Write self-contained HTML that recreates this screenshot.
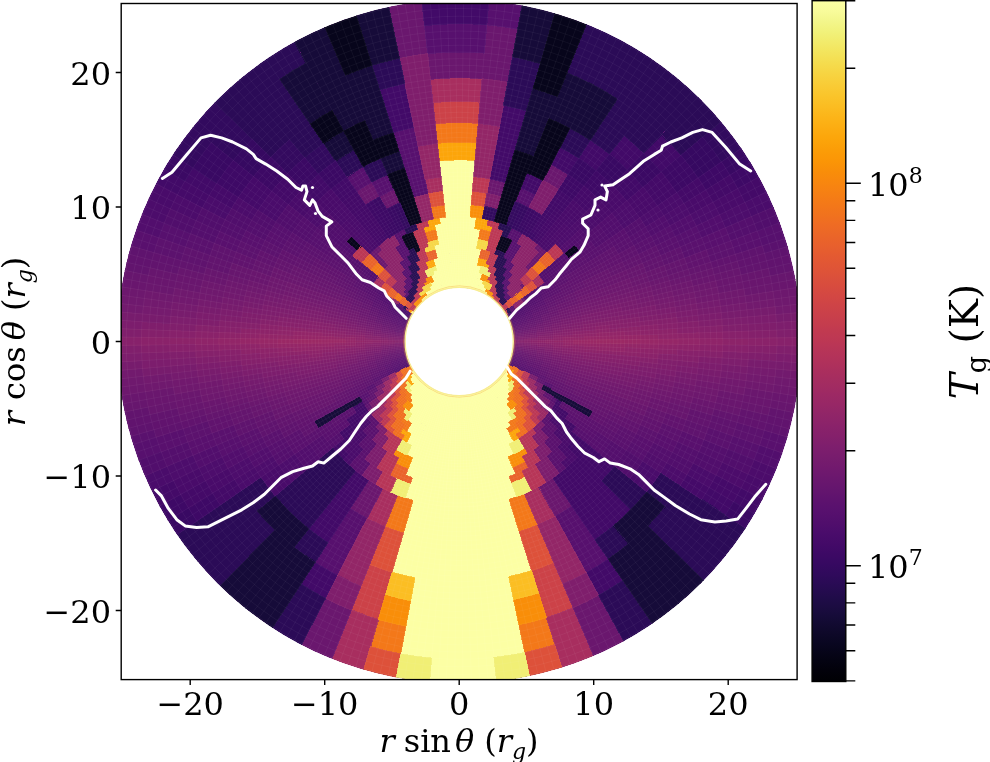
<!DOCTYPE html><html><head><meta charset="utf-8"><style>html,body{margin:0;padding:0;background:#fff;overflow:hidden}svg{display:block}text{font-family:'DejaVu Serif','Liberation Serif',serif}</style></head><body>
<svg width="990" height="762" viewBox="0 0 990 762">
<defs><clipPath id="ax"><rect x="121.2" y="3.5" width="675.9" height="676.1"/></clipPath><clipPath id="dc"><circle cx="459.2" cy="341.5" r="341.8"/></clipPath><linearGradient id="cb" x1="0" y1="0" x2="0" y2="1"><stop offset="0.0000" stop-color="#fcffa4"/><stop offset="0.0156" stop-color="#f8fb9a"/><stop offset="0.0312" stop-color="#f3f68a"/><stop offset="0.0469" stop-color="#f1f179"/><stop offset="0.0625" stop-color="#f2ea69"/><stop offset="0.0781" stop-color="#f3e35a"/><stop offset="0.0938" stop-color="#f5db4c"/><stop offset="0.1094" stop-color="#f7d340"/><stop offset="0.1250" stop-color="#f9cb35"/><stop offset="0.1406" stop-color="#fac42a"/><stop offset="0.1562" stop-color="#fbbc21"/><stop offset="0.1719" stop-color="#fcb418"/><stop offset="0.1875" stop-color="#fcac11"/><stop offset="0.2031" stop-color="#fca50a"/><stop offset="0.2188" stop-color="#fb9d07"/><stop offset="0.2344" stop-color="#fb9606"/><stop offset="0.2500" stop-color="#f98e09"/><stop offset="0.2656" stop-color="#f8870e"/><stop offset="0.2812" stop-color="#f68013"/><stop offset="0.2969" stop-color="#f47918"/><stop offset="0.3125" stop-color="#f1731d"/><stop offset="0.3281" stop-color="#ef6c23"/><stop offset="0.3438" stop-color="#eb6628"/><stop offset="0.3594" stop-color="#e8602d"/><stop offset="0.3750" stop-color="#e45a31"/><stop offset="0.3906" stop-color="#e05536"/><stop offset="0.4062" stop-color="#db503b"/><stop offset="0.4219" stop-color="#d74b3f"/><stop offset="0.4375" stop-color="#d24644"/><stop offset="0.4531" stop-color="#cc4248"/><stop offset="0.4688" stop-color="#c73e4c"/><stop offset="0.4844" stop-color="#c13a50"/><stop offset="0.5000" stop-color="#bc3754"/><stop offset="0.5156" stop-color="#b63458"/><stop offset="0.5312" stop-color="#b0315b"/><stop offset="0.5469" stop-color="#a92e5e"/><stop offset="0.5625" stop-color="#a32c61"/><stop offset="0.5781" stop-color="#9d2964"/><stop offset="0.5938" stop-color="#972766"/><stop offset="0.6094" stop-color="#902568"/><stop offset="0.6250" stop-color="#8a226a"/><stop offset="0.6406" stop-color="#84206b"/><stop offset="0.6562" stop-color="#7d1e6d"/><stop offset="0.6719" stop-color="#771c6d"/><stop offset="0.6875" stop-color="#71196e"/><stop offset="0.7031" stop-color="#6a176e"/><stop offset="0.7188" stop-color="#64156e"/><stop offset="0.7344" stop-color="#5d126e"/><stop offset="0.7500" stop-color="#57106e"/><stop offset="0.7656" stop-color="#510e6c"/><stop offset="0.7812" stop-color="#4a0c6b"/><stop offset="0.7969" stop-color="#440a68"/><stop offset="0.8125" stop-color="#3d0965"/><stop offset="0.8281" stop-color="#360961"/><stop offset="0.8438" stop-color="#2f0a5b"/><stop offset="0.8594" stop-color="#280b53"/><stop offset="0.8750" stop-color="#210c4a"/><stop offset="0.8906" stop-color="#1b0c41"/><stop offset="0.9062" stop-color="#150b37"/><stop offset="0.9219" stop-color="#10092d"/><stop offset="0.9375" stop-color="#0b0724"/><stop offset="0.9531" stop-color="#07051b"/><stop offset="0.9688" stop-color="#040312"/><stop offset="0.9844" stop-color="#02010a"/><stop offset="1.0000" stop-color="#000004"/></linearGradient></defs>
<g clip-path="url(#ax)"><g clip-path="url(#dc)" shape-rendering="crispEdges">
<circle cx="459.2" cy="341.5" r="341.8" fill="#5a1370"/>
<path fill="#fcffa4" stroke="#fcffa4" stroke-width="0.8" d="M458.6 287.4L457.3 176A165.5 165.5 0 0 1 465.4 176.1L461.2 287.5A54.1 54.1 0 0 0 458.6 287.4ZM457.3 176L457.1 159.9A181.7 181.7 0 0 1 475 160.5L473.6 176.6A165.5 165.5 0 0 0 457.3 176ZM461.2 287.5L465.4 176.1A165.5 165.5 0 0 1 473.6 176.6L463.9 287.6A54.1 54.1 0 0 0 461.2 287.5ZM463.9 287.6L470 216.9A125.1 125.1 0 0 1 476.2 217.5L466.5 287.9A54.1 54.1 0 0 0 463.9 287.6ZM466.5 287.9L474.6 228.6A114 114 0 0 1 480.2 229.5L469.1 288.4A54.1 54.1 0 0 0 466.5 287.9ZM469.1 288.4L476.6 248.5A94.6 94.6 0 0 1 481.1 249.5L471.7 288.9A54.1 54.1 0 0 0 469.1 288.4ZM471.7 288.9L477.4 265.1A78.5 78.5 0 0 1 481.1 266.1L474.3 289.6A54.1 54.1 0 0 0 471.7 288.9ZM474.3 289.6L479.2 272.8A71.5 71.5 0 0 1 482.5 273.9L476.8 290.4A54.1 54.1 0 0 0 474.3 289.6ZM476.8 290.4L480.5 279.9A65.2 65.2 0 0 1 483.4 281L479.3 291.3A54.1 54.1 0 0 0 476.8 290.4ZM479.3 291.3L482.3 283.8A62.2 62.2 0 0 1 485.1 285L481.8 292.4A54.1 54.1 0 0 0 479.3 291.3ZM481.8 292.4L484 287.6A59.4 59.4 0 0 1 486.6 288.8L484.1 293.5A54.1 54.1 0 0 0 481.8 292.4ZM484.1 293.5L485.3 291.2A56.6 56.6 0 0 1 487.8 292.6L486.5 294.8A54.1 54.1 0 0 0 484.1 293.5ZM507.2 366.4L509.5 367.6A56.6 56.6 0 0 1 508.1 370.1L505.9 368.8A54.1 54.1 0 0 0 507.2 366.4ZM505.9 368.8L508.1 370.1A56.6 56.6 0 0 1 506.7 372.4L504.5 371A54.1 54.1 0 0 0 505.9 368.8ZM504.5 371L508.9 373.9A59.4 59.4 0 0 1 507.3 376.3L503 373.2A54.1 54.1 0 0 0 504.5 371ZM503 373.2L509.6 378A62.2 62.2 0 0 1 507.7 380.4L501.4 375.3A54.1 54.1 0 0 0 503 373.2ZM501.4 375.3L510 382.3A65.2 65.2 0 0 1 508 384.7L499.7 377.4A54.1 54.1 0 0 0 501.4 375.3ZM499.7 377.4L510.3 386.8A68.3 68.3 0 0 1 508 389.2L497.9 379.3A54.1 54.1 0 0 0 499.7 377.4ZM497.9 379.3L510.3 391.5A71.5 71.5 0 0 1 507.8 393.9L496 381.1A54.1 54.1 0 0 0 497.9 379.3ZM496 381.1L510.1 396.4A74.9 74.9 0 0 1 507.4 398.9L494 382.9A54.1 54.1 0 0 0 496 381.1ZM494 382.9L509.7 401.6A78.5 78.5 0 0 1 506.7 404L491.9 384.6A54.1 54.1 0 0 0 494 382.9ZM491.9 384.6L511.3 410.1A86.2 86.2 0 0 1 507.9 412.6L489.7 386.1A54.1 54.1 0 0 0 491.9 384.6ZM489.7 386.1L512.6 419.5A94.6 94.6 0 0 1 508.7 422.1L487.5 387.6A54.1 54.1 0 0 0 489.7 386.1ZM487.5 387.6L511.1 425.9A99.1 99.1 0 0 1 506.9 428.4L485.2 388.9A54.1 54.1 0 0 0 487.5 387.6ZM485.2 388.9L514.1 441.4A114 114 0 0 1 509.1 444L482.9 390.1A54.1 54.1 0 0 0 485.2 388.9ZM482.9 390.1L514 454A125.1 125.1 0 0 1 508.4 456.5L480.5 391.2A54.1 54.1 0 0 0 482.9 390.1ZM480.5 391.2L515.8 473.8A143.9 143.9 0 0 1 509.2 476.4L478 392.2A54.1 54.1 0 0 0 480.5 391.2ZM478 392.2L516.7 496.7A165.5 165.5 0 0 1 509 499.3L475.5 393.1A54.1 54.1 0 0 0 478 392.2ZM475.5 393.1L509 499.3A165.5 165.5 0 0 1 501.2 501.6L472.9 393.8A54.1 54.1 0 0 0 475.5 393.1ZM509 499.3L531.5 570.6A240.3 240.3 0 0 1 508.7 576.6L493.3 503.4A165.5 165.5 0 0 0 509 499.3ZM472.9 393.8L501.2 501.6A165.5 165.5 0 0 1 493.3 503.4L470.3 394.4A54.1 54.1 0 0 0 472.9 393.8ZM470.3 394.4L493.3 503.4A165.5 165.5 0 0 1 485.3 504.9L467.7 394.9A54.1 54.1 0 0 0 470.3 394.4ZM493.3 503.4L524.7 652.5A317.8 317.8 0 0 1 493.9 657.4L477.3 506A165.5 165.5 0 0 0 493.3 503.4ZM467.7 394.9L485.3 504.9A165.5 165.5 0 0 1 477.3 506L465.1 395.2A54.1 54.1 0 0 0 467.7 394.9ZM465.1 395.2L477.3 506A165.5 165.5 0 0 1 469.2 506.7L462.5 395.5A54.1 54.1 0 0 0 465.1 395.2ZM477.3 506L497.1 686.2A346.8 346.8 0 0 1 463.1 688.3L461.1 507A165.5 165.5 0 0 0 477.3 506ZM462.5 395.5L469.2 506.7A165.5 165.5 0 0 1 461.1 507L459.8 395.6A54.1 54.1 0 0 0 462.5 395.5ZM459.8 395.6L461.1 507A165.5 165.5 0 0 1 453 506.9L457.2 395.5A54.1 54.1 0 0 0 459.8 395.6ZM461.1 507L463.1 688.3A346.8 346.8 0 0 1 429.1 687L444.8 506.4A165.5 165.5 0 0 0 461.1 507ZM457.2 395.5L453 506.9A165.5 165.5 0 0 1 444.8 506.4L454.5 395.4A54.1 54.1 0 0 0 457.2 395.5ZM454.5 395.4L444.8 506.4A165.5 165.5 0 0 1 436.8 505.5L451.9 395.1A54.1 54.1 0 0 0 454.5 395.4ZM444.8 506.4L431.6 658.1A317.8 317.8 0 0 1 400.7 653.9L428.8 504.2A165.5 165.5 0 0 0 444.8 506.4ZM451.9 395.1L436.8 505.5A165.5 165.5 0 0 1 428.8 504.2L449.3 394.6A54.1 54.1 0 0 0 451.9 395.1ZM449.3 394.6L428.8 504.2A165.5 165.5 0 0 1 420.8 502.5L446.7 394.1A54.1 54.1 0 0 0 449.3 394.6ZM428.8 504.2L415 577.7A240.3 240.3 0 0 1 392.1 572.2L413 500.4A165.5 165.5 0 0 0 428.8 504.2ZM446.7 394.1L420.8 502.5A165.5 165.5 0 0 1 413 500.4L444.1 393.4A54.1 54.1 0 0 0 446.7 394.1ZM444.1 393.4L413 500.4A165.5 165.5 0 0 1 405.2 497.9L441.6 392.6A54.1 54.1 0 0 0 444.1 393.4ZM441.6 392.6L412.3 477.5A143.9 143.9 0 0 1 405.6 475.1L439.1 391.7A54.1 54.1 0 0 0 441.6 392.6ZM439.1 391.7L412.6 457.6A125.1 125.1 0 0 1 407 455.2L436.6 390.6A54.1 54.1 0 0 0 439.1 391.7ZM436.6 390.6L411.6 445.1A114 114 0 0 1 406.6 442.6L434.3 389.5A54.1 54.1 0 0 0 436.6 390.6ZM434.3 389.5L411.3 433.6A103.8 103.8 0 0 1 406.8 431.2L431.9 388.2A54.1 54.1 0 0 0 434.3 389.5ZM431.9 388.2L411.5 423.2A94.6 94.6 0 0 1 407.5 420.7L429.7 386.8A54.1 54.1 0 0 0 431.9 388.2ZM429.7 386.8L412.1 413.7A86.2 86.2 0 0 1 408.7 411.3L427.5 385.3A54.1 54.1 0 0 0 429.7 386.8ZM427.5 385.3L413.2 405.1A78.5 78.5 0 0 1 410.1 402.7L425.4 383.7A54.1 54.1 0 0 0 427.5 385.3ZM425.4 383.7L412.3 400A74.9 74.9 0 0 1 409.5 397.6L423.3 382A54.1 54.1 0 0 0 425.4 383.7ZM423.3 382L411.8 395A71.5 71.5 0 0 1 409.2 392.6L421.4 380.2A54.1 54.1 0 0 0 423.3 382ZM421.4 380.2L411.5 390.3A68.3 68.3 0 0 1 409.1 387.9L419.6 378.3A54.1 54.1 0 0 0 421.4 380.2ZM419.6 378.3L413.6 383.8A62.2 62.2 0 0 1 411.6 381.5L417.8 376.3A54.1 54.1 0 0 0 419.6 378.3ZM417.8 376.3L411.6 381.5A62.2 62.2 0 0 1 409.7 379.1L416.1 374.2A54.1 54.1 0 0 0 417.8 376.3ZM416.1 374.2L411.9 377.4A59.4 59.4 0 0 1 410.2 375L414.6 372A54.1 54.1 0 0 0 416.1 374.2ZM414.6 372L412.5 373.5A56.6 56.6 0 0 1 410.9 371.2L413.1 369.8A54.1 54.1 0 0 0 414.6 372ZM412.5 314.2L410.3 312.9A56.6 56.6 0 0 1 411.7 310.6L413.9 312A54.1 54.1 0 0 0 412.5 314.2ZM422.4 301.9L420.7 300A56.6 56.6 0 0 1 422.8 298.1L424.4 300.1A54.1 54.1 0 0 0 422.4 301.9ZM424.4 300.1L422.8 298.1A56.6 56.6 0 0 1 424.9 296.4L426.5 298.4A54.1 54.1 0 0 0 424.4 300.1ZM426.5 298.4L424.9 296.4A56.6 56.6 0 0 1 427.2 294.8L428.7 296.9A54.1 54.1 0 0 0 426.5 298.4ZM428.7 296.9L425.7 292.5A59.4 59.4 0 0 1 428.1 290.9L430.9 295.4A54.1 54.1 0 0 0 428.7 296.9ZM430.9 295.4L428.1 290.9A59.4 59.4 0 0 1 430.6 289.5L433.2 294.1A54.1 54.1 0 0 0 430.9 295.4ZM433.2 294.1L429.3 287A62.2 62.2 0 0 1 432 285.6L435.5 292.9A54.1 54.1 0 0 0 433.2 294.1ZM435.5 292.9L430.7 282.9A65.2 65.2 0 0 1 433.6 281.6L437.9 291.8A54.1 54.1 0 0 0 435.5 292.9ZM437.9 291.8L431.1 275.7A71.5 71.5 0 0 1 434.3 274.4L440.4 290.8A54.1 54.1 0 0 0 437.9 291.8ZM440.4 290.8L433.2 271.2A74.9 74.9 0 0 1 436.6 270.1L442.9 289.9A54.1 54.1 0 0 0 440.4 290.8ZM442.9 289.9L433.3 259.3A86.2 86.2 0 0 1 437.3 258.2L445.5 289.2A54.1 54.1 0 0 0 442.9 289.9ZM445.5 289.2L434 245.6A99.1 99.1 0 0 1 438.8 244.5L448.1 288.6A54.1 54.1 0 0 0 445.5 289.2ZM448.1 288.6L434.6 224.7A119.4 119.4 0 0 1 440.3 223.6L450.7 288.1A54.1 54.1 0 0 0 448.1 288.6ZM450.7 288.1L439.4 218A125.1 125.1 0 0 1 445.5 217.1L453.3 287.8A54.1 54.1 0 0 0 450.7 288.1ZM453.3 287.8L441.1 177A165.5 165.5 0 0 1 449.2 176.3L455.9 287.5A54.1 54.1 0 0 0 453.3 287.8ZM441.1 177L439.3 160.9A181.7 181.7 0 0 1 457.1 159.9L457.3 176A165.5 165.5 0 0 0 441.1 177ZM455.9 287.5L449.2 176.3A165.5 165.5 0 0 1 457.3 176L458.6 287.4A54.1 54.1 0 0 0 455.9 287.5Z"/>
<path fill="#fca50a" stroke="#fca50a" stroke-width="0.8" d="M457.1 159.9L456.9 142.1A199.4 199.4 0 0 1 476.5 142.9L475 160.5A181.7 181.7 0 0 0 457.1 159.9ZM474.6 228.6L476.2 217.5A125.1 125.1 0 0 1 482.2 218.5L480.2 229.5A114 114 0 0 0 474.6 228.6ZM480.2 229.5L482.2 218.5A125.1 125.1 0 0 1 488.2 219.8L485.6 230.6A114 114 0 0 0 480.2 229.5ZM477.4 265.1L479.2 257.7A86.2 86.2 0 0 1 483.3 258.8L481.1 266.1A78.5 78.5 0 0 0 477.4 265.1ZM485.6 230.6L486.9 225.3A119.4 119.4 0 0 1 492.6 226.8L491 232.1A114 114 0 0 0 485.6 230.6ZM481.1 266.1L483.3 258.8A86.2 86.2 0 0 1 487.3 260L484.8 267.3A78.5 78.5 0 0 0 481.1 266.1ZM484.8 267.3L486 263.8A82.2 82.2 0 0 1 489.8 265.2L488.4 268.6A78.5 78.5 0 0 0 484.8 267.3ZM511.9 368.9L514.4 370.2A62.2 62.2 0 0 1 512.9 372.9L510.5 371.4A59.4 59.4 0 0 0 511.9 368.9ZM510.5 371.4L512.9 372.9A62.2 62.2 0 0 1 511.3 375.5L508.9 373.9A59.4 59.4 0 0 0 510.5 371.4ZM508.9 373.9L513.8 377.1A65.2 65.2 0 0 1 512 379.7L507.3 376.3A59.4 59.4 0 0 0 508.9 373.9ZM509.6 378L512 379.7A65.2 65.2 0 0 1 510 382.3L507.7 380.4A62.2 62.2 0 0 0 509.6 378ZM517.9 427.2L520.7 431.3A108.8 108.8 0 0 1 516.2 434.2L513.6 429.9A103.8 103.8 0 0 0 517.9 427.2ZM513.6 429.9L518.9 438.6A114 114 0 0 1 514.1 441.4L509.2 432.5A103.8 103.8 0 0 0 513.6 429.9ZM411.3 433.6L406.6 442.6A114 114 0 0 1 401.7 439.9L406.8 431.2A103.8 103.8 0 0 0 411.3 433.6ZM406.8 431.2L404.3 435.4A108.8 108.8 0 0 1 399.8 432.6L402.5 428.5A103.8 103.8 0 0 0 406.8 431.2ZM413.6 383.8L411.4 385.8A65.2 65.2 0 0 1 409.3 383.4L411.6 381.5A62.2 62.2 0 0 0 413.6 383.8ZM411.6 381.5L409.3 383.4A65.2 65.2 0 0 1 407.3 380.9L409.7 379.1A62.2 62.2 0 0 0 411.6 381.5ZM411.9 377.4L407.3 380.9A65.2 65.2 0 0 1 405.4 378.3L410.2 375A59.4 59.4 0 0 0 411.9 377.4ZM410.2 375L407.9 376.6A62.2 62.2 0 0 1 406.2 374.1L408.6 372.6A59.4 59.4 0 0 0 410.2 375ZM428.3 269.3L425.3 262.3A86.2 86.2 0 0 1 429.3 260.7L431.9 267.9A78.5 78.5 0 0 0 428.3 269.3ZM431.9 267.9L429.3 260.7A86.2 86.2 0 0 1 433.3 259.3L435.6 266.6A78.5 78.5 0 0 0 431.9 267.9ZM424.9 232.8L423.2 227.6A119.4 119.4 0 0 1 428.9 226L430.3 231.3A114 114 0 0 0 424.9 232.8ZM430.3 231.3L427.4 220.5A125.1 125.1 0 0 1 433.4 219.1L435.7 230A114 114 0 0 0 430.3 231.3ZM434.6 224.7L433.4 219.1A125.1 125.1 0 0 1 439.4 218L440.3 223.6A119.4 119.4 0 0 0 434.6 224.7ZM439.3 160.9L437.4 143.3A199.4 199.4 0 0 1 456.9 142.1L457.1 159.9A181.7 181.7 0 0 0 439.3 160.9Z"/>
<path fill="#f37819" stroke="#f37819" stroke-width="0.8" d="M456.9 142.1L456.7 122.6A218.9 218.9 0 0 1 478.2 123.4L476.5 142.9A199.4 199.4 0 0 0 456.9 142.1ZM478.3 239.4L480.2 229.5A114 114 0 0 1 485.6 230.6L483.3 240.5A103.8 103.8 0 0 0 478.3 239.4ZM483.3 240.5L485.6 230.6A114 114 0 0 1 491 232.1L488.2 241.8A103.8 103.8 0 0 0 483.3 240.5ZM531.8 267.3L538.9 260A114 114 0 0 1 542.8 264L535.3 270.9A103.8 103.8 0 0 0 531.8 267.3ZM535.3 270.9L542.8 264A114 114 0 0 1 546.5 268.2L538.7 274.7A103.8 103.8 0 0 0 535.3 270.9ZM514 295.5L519.3 291A78.5 78.5 0 0 1 521.7 294L516.2 298.2A71.5 71.5 0 0 0 514 295.5ZM516.2 298.2L521.7 294A78.5 78.5 0 0 1 524 297.1L518.2 301.1A71.5 71.5 0 0 0 516.2 298.2ZM508.3 364.1L513.1 366.3A59.4 59.4 0 0 1 511.9 368.9L507.2 366.4A54.1 54.1 0 0 0 508.3 364.1ZM509.5 367.6L511.9 368.9A59.4 59.4 0 0 1 510.5 371.4L508.1 370.1A56.6 56.6 0 0 0 509.5 367.6ZM508.1 370.1L510.5 371.4A59.4 59.4 0 0 1 508.9 373.9L506.7 372.4A56.6 56.6 0 0 0 508.1 370.1ZM512.7 388.9L515.3 391.2A74.9 74.9 0 0 1 512.8 393.9L510.3 391.5A71.5 71.5 0 0 0 512.7 388.9ZM510.3 391.5L515.3 396.4A78.5 78.5 0 0 1 512.6 399.1L507.8 393.9A71.5 71.5 0 0 0 510.3 391.5ZM510.1 396.4L512.6 399.1A78.5 78.5 0 0 1 509.7 401.6L507.4 398.9A74.9 74.9 0 0 0 510.1 396.4ZM516.4 416.8L519.1 420.4A99.1 99.1 0 0 1 515.2 423.3L512.6 419.5A94.6 94.6 0 0 0 516.4 416.8ZM512.6 419.5L517.9 427.2A103.8 103.8 0 0 1 513.6 429.9L508.7 422.1A94.6 94.6 0 0 0 512.6 419.5ZM511.1 425.9L513.6 429.9A103.8 103.8 0 0 1 509.2 432.5L506.9 428.4A99.1 99.1 0 0 0 511.1 425.9ZM524.3 493.7L537.6 524.8A199.4 199.4 0 0 1 519.2 531.6L509 499.3A165.5 165.5 0 0 0 524.3 493.7ZM546.4 617.6L554.9 644.5A317.8 317.8 0 0 1 524.7 652.5L518.9 624.8A289.5 289.5 0 0 0 546.4 617.6ZM405.9 626.1L400.7 653.9A317.8 317.8 0 0 1 370.4 646.6L378.3 619.5A289.5 289.5 0 0 0 405.9 626.1ZM413 500.4L403.5 533A199.4 199.4 0 0 1 385 526.6L397.6 495.1A165.5 165.5 0 0 0 413 500.4ZM411.5 423.2L406.8 431.2A103.8 103.8 0 0 1 402.5 428.5L407.5 420.7A94.6 94.6 0 0 0 411.5 423.2ZM407.5 420.7L405.1 424.5A99.1 99.1 0 0 1 401.1 421.8L403.7 418.1A94.6 94.6 0 0 0 407.5 420.7ZM412.3 400L410.1 402.7A78.5 78.5 0 0 1 407.1 400.3L409.5 397.6A74.9 74.9 0 0 0 412.3 400ZM411.8 395L407.1 400.3A78.5 78.5 0 0 1 404.3 397.6L409.2 392.6A71.5 71.5 0 0 0 411.8 395ZM409.2 392.6L406.8 395.1A74.9 74.9 0 0 1 404.3 392.4L406.8 390.1A71.5 71.5 0 0 0 409.2 392.6ZM412.5 373.5L410.2 375A59.4 59.4 0 0 1 408.6 372.6L410.9 371.2A56.6 56.6 0 0 0 412.5 373.5ZM413.1 369.8L408.6 372.6A59.4 59.4 0 0 1 407.2 370.1L411.8 367.5A54.1 54.1 0 0 0 413.1 369.8ZM411.8 367.5L407.2 370.1A59.4 59.4 0 0 1 405.8 367.5L410.6 365.2A54.1 54.1 0 0 0 411.8 367.5ZM399.3 302.4L393.4 298.6A78.5 78.5 0 0 1 395.6 295.5L401.3 299.6A71.5 71.5 0 0 0 399.3 302.4ZM401.3 299.6L395.6 295.5A78.5 78.5 0 0 1 398 292.4L403.4 296.8A71.5 71.5 0 0 0 401.3 299.6ZM378.2 276.5L370.3 270.2A114 114 0 0 1 373.9 265.9L381.5 272.6A103.8 103.8 0 0 0 378.2 276.5ZM381.5 272.6L373.9 265.9A114 114 0 0 1 377.7 261.8L385 268.9A103.8 103.8 0 0 0 381.5 272.6ZM427.9 242.5L424.9 232.8A114 114 0 0 1 430.3 231.3L432.8 241.1A103.8 103.8 0 0 0 427.9 242.5ZM432.8 241.1L430.3 231.3A114 114 0 0 1 435.7 230L437.8 239.9A103.8 103.8 0 0 0 432.8 241.1ZM433.4 219.1L430.9 207.1A137.3 137.3 0 0 1 437.5 205.9L439.4 218A125.1 125.1 0 0 0 433.4 219.1ZM439.4 218L437.5 205.9A137.3 137.3 0 0 1 444.2 205L445.5 217.1A125.1 125.1 0 0 0 439.4 218ZM437.4 143.3L435.3 123.9A218.9 218.9 0 0 1 456.7 122.6L456.9 142.1A199.4 199.4 0 0 0 437.4 143.3Z"/>
<path fill="#cc4248" stroke="#cc4248" stroke-width="0.8" d="M456.7 122.6L456.5 101.3A240.3 240.3 0 0 1 480 102.1L478.2 123.4A218.9 218.9 0 0 0 456.7 122.6ZM553.7 562.4L573 607.7A289.5 289.5 0 0 1 546.4 617.6L531.5 570.6A240.3 240.3 0 0 0 553.7 562.4ZM392.1 572.2L378.3 619.5A289.5 289.5 0 0 1 351.5 610.2L369.8 564.5A240.3 240.3 0 0 0 392.1 572.2ZM435.3 123.9L432.9 102.7A240.3 240.3 0 0 1 456.5 101.3L456.7 122.6A218.9 218.9 0 0 0 435.3 123.9Z"/>
<path fill="#a82e5f" stroke="#a82e5f" stroke-width="0.8" d="M456.5 101.3L456.2 77.8A263.7 263.7 0 0 1 482.1 78.8L480 102.1A240.3 240.3 0 0 0 456.5 101.3ZM531.6 280.7L538.7 274.7A103.8 103.8 0 0 1 541.9 278.7L534.5 284.3A94.6 94.6 0 0 0 531.6 280.7ZM534.5 284.3L541.9 278.7A103.8 103.8 0 0 1 544.9 282.8L537.2 288.1A94.6 94.6 0 0 0 534.5 284.3ZM538.9 486.5L555.2 516.3A199.4 199.4 0 0 1 537.6 524.8L524.3 493.7A165.5 165.5 0 0 0 538.9 486.5ZM573 607.7L595.5 660.4A346.8 346.8 0 0 1 563.6 672.2L546.4 617.6A289.5 289.5 0 0 0 573 607.7ZM378.3 619.5L362.3 674.5A346.8 346.8 0 0 1 330.1 663.4L351.5 610.2A289.5 289.5 0 0 0 378.3 619.5ZM397.6 495.1L385 526.6A199.4 199.4 0 0 1 367.2 518.4L382.9 488.3A165.5 165.5 0 0 0 397.6 495.1ZM380 289.8L372.2 284.8A103.8 103.8 0 0 1 375.1 280.6L382.6 286A94.6 94.6 0 0 0 380 289.8ZM382.6 286L375.1 280.6A103.8 103.8 0 0 1 378.2 276.5L385.4 282.3A94.6 94.6 0 0 0 382.6 286ZM428.1 194L425.1 179.6A165.5 165.5 0 0 1 433.1 178.1L435.4 192.6A150.8 150.8 0 0 0 428.1 194ZM435.4 192.6L433.1 178.1A165.5 165.5 0 0 1 441.1 177L442.7 191.6A150.8 150.8 0 0 0 435.4 192.6ZM432.9 102.7L430.4 79.3A263.7 263.7 0 0 1 456.2 77.8L456.5 101.3A240.3 240.3 0 0 0 432.9 102.7Z"/>
<path fill="#6a176e" stroke="#6a176e" stroke-width="0.8" d="M456.2 77.8L455.9 52A289.5 289.5 0 0 1 484.3 53.1L482.1 78.8A263.7 263.7 0 0 0 456.2 77.8ZM482.1 78.8L486.8 24.9A317.8 317.8 0 0 1 517.7 29.1L507.7 82.3A263.7 263.7 0 0 0 482.1 78.8ZM486.9 193.3L489.6 178.8A165.5 165.5 0 0 1 497.6 180.5L494.2 194.9A150.8 150.8 0 0 0 486.9 193.3ZM494.2 194.9L497.6 180.5A165.5 165.5 0 0 1 505.4 182.6L501.3 196.8A150.8 150.8 0 0 0 494.2 194.9ZM543 180.3L551.2 164.6A199.4 199.4 0 0 1 568.1 174.5L558.4 189.3A181.7 181.7 0 0 0 543 180.3ZM533.9 248.3L537.5 243.9A125.1 125.1 0 0 1 542.2 247.9L538.4 252.1A119.4 119.4 0 0 0 533.9 248.3ZM524.9 267.3L542.2 247.9A125.1 125.1 0 0 1 546.7 252L528.5 270.6A99.1 99.1 0 0 0 524.9 267.3ZM519.5 285.6L522.4 282.9A86.2 86.2 0 0 1 525.2 286.1L522.2 288.6A82.2 82.2 0 0 0 519.5 285.6ZM521 299.2L524 297.1A78.5 78.5 0 0 1 526.1 300.4L523 302.3A74.9 74.9 0 0 0 521 299.2ZM520.1 304L526.1 300.4A78.5 78.5 0 0 1 528 303.7L521.9 307.1A71.5 71.5 0 0 0 520.1 304ZM566.1 301.9L576.5 298A125.1 125.1 0 0 1 578.5 303.8L567.9 307.2A114 114 0 0 0 566.1 301.9ZM629.5 278.4L646.2 272.2A199.4 199.4 0 0 1 649.3 281.5L632.4 286.8A181.7 181.7 0 0 0 629.5 278.4ZM649.3 281.5L667.9 275.6A218.9 218.9 0 0 1 669.5 280.7L650.8 286.1A199.4 199.4 0 0 0 649.3 281.5ZM550.1 315.2L559 312.7A103.8 103.8 0 0 1 559.6 315.1L550.7 317.5A94.6 94.6 0 0 0 550.1 315.2ZM669.5 280.7L690 274.8A240.3 240.3 0 0 1 691.6 280.5L670.9 285.9A218.9 218.9 0 0 0 669.5 280.7ZM542.5 319.6L550.7 317.5A94.6 94.6 0 0 1 551.3 319.7L543.1 321.7A86.2 86.2 0 0 0 542.5 319.6ZM535.6 323.4L543.1 321.7A86.2 86.2 0 0 1 543.5 323.7L536 325.3A78.5 78.5 0 0 0 535.6 323.4ZM529.2 326.8L536 325.3A78.5 78.5 0 0 1 536.4 327.2L529.5 328.5A71.5 71.5 0 0 0 529.2 326.8ZM717.3 287.1L742.5 281.8A289.5 289.5 0 0 1 743.9 288.8L718.5 293.5A263.7 263.7 0 0 0 717.3 287.1ZM523.3 329.6L529.5 328.5A71.5 71.5 0 0 1 529.8 330.2L523.5 331.2A65.2 65.2 0 0 0 523.3 329.6ZM743.9 288.8L771.7 283.6A317.8 317.8 0 0 1 773 291.3L745.1 295.8A289.5 289.5 0 0 0 743.9 288.8ZM517.8 332.1L523.5 331.2A65.2 65.2 0 0 1 523.8 332.8L518 333.6A59.4 59.4 0 0 0 517.8 332.1ZM518 349.5L523.7 350.3A65.2 65.2 0 0 1 523.5 351.9L517.8 351A59.4 59.4 0 0 0 518 349.5ZM523.5 351.9L529.8 352.9A71.5 71.5 0 0 1 529.5 354.7L523.2 353.5A65.2 65.2 0 0 0 523.5 351.9ZM745 387.8L772.9 392.3A317.8 317.8 0 0 1 771.6 400L743.8 394.8A289.5 289.5 0 0 0 745 387.8ZM718.4 390L743.8 394.8A289.5 289.5 0 0 1 742.4 401.7L717.2 396.4A263.7 263.7 0 0 0 718.4 390ZM536 357.8L543.5 359.4A86.2 86.2 0 0 1 543 361.5L535.6 359.7A78.5 78.5 0 0 0 536 357.8ZM543 361.5L551.2 363.4A94.6 94.6 0 0 1 550.6 365.7L542.5 363.5A86.2 86.2 0 0 0 543 361.5ZM550.6 365.7L559.6 368.1A103.8 103.8 0 0 1 558.9 370.5L550 367.9A94.6 94.6 0 0 0 550.6 365.7ZM670.8 397.5L691.5 402.9A240.3 240.3 0 0 1 689.9 408.6L669.4 402.7A218.9 218.9 0 0 0 670.8 397.5ZM558.9 370.5L568.6 373.3A114 114 0 0 1 566.9 378.7L557.4 375.4A103.8 103.8 0 0 0 558.9 370.5ZM577.5 382.3L630.9 400.8A181.7 181.7 0 0 1 627.8 409.1L575.3 388.1A125.1 125.1 0 0 0 577.5 382.3ZM552.7 478L571.9 506A199.4 199.4 0 0 1 555.2 516.3L538.9 486.5A165.5 165.5 0 0 0 552.7 478ZM598.6 595.3L626.1 645.5A346.8 346.8 0 0 1 595.5 660.4L573 607.7A289.5 289.5 0 0 0 598.6 595.3ZM351.5 610.2L330.1 663.4A346.8 346.8 0 0 1 299.2 649.2L325.6 598.4A289.5 289.5 0 0 0 351.5 610.2ZM382.9 488.3L367.2 518.4A199.4 199.4 0 0 1 350.3 508.5L368.8 480.1A165.5 165.5 0 0 0 382.9 488.3ZM352.3 381.1L341.9 385A125.1 125.1 0 0 1 339.9 379.2L350.5 375.8A114 114 0 0 0 352.3 381.1ZM288.9 404.6L272.2 410.8A199.4 199.4 0 0 1 269.1 401.5L286 396.2A181.7 181.7 0 0 0 288.9 404.6ZM269.1 401.5L250.5 407.4A218.9 218.9 0 0 1 248.9 402.3L267.6 396.9A199.4 199.4 0 0 0 269.1 401.5ZM368.3 367.8L359.4 370.3A103.8 103.8 0 0 1 358.8 367.9L367.7 365.5A94.6 94.6 0 0 0 368.3 367.8ZM248.9 402.3L228.4 408.2A240.3 240.3 0 0 1 226.8 402.5L247.5 397.1A218.9 218.9 0 0 0 248.9 402.3ZM375.9 363.4L367.7 365.5A94.6 94.6 0 0 1 367.1 363.3L375.3 361.3A86.2 86.2 0 0 0 375.9 363.4ZM382.8 359.6L375.3 361.3A86.2 86.2 0 0 1 374.9 359.3L382.4 357.7A78.5 78.5 0 0 0 382.8 359.6ZM389.2 356.2L382.4 357.7A78.5 78.5 0 0 1 382 355.8L388.9 354.5A71.5 71.5 0 0 0 389.2 356.2ZM201.1 395.9L175.9 401.2A289.5 289.5 0 0 1 174.5 394.2L199.9 389.5A263.7 263.7 0 0 0 201.1 395.9ZM395.1 353.4L388.9 354.5A71.5 71.5 0 0 1 388.6 352.8L394.9 351.8A65.2 65.2 0 0 0 395.1 353.4ZM174.5 394.2L146.7 399.4A317.8 317.8 0 0 1 145.4 391.7L173.3 387.2A289.5 289.5 0 0 0 174.5 394.2ZM400.6 350.9L394.9 351.8A65.2 65.2 0 0 1 394.6 350.2L400.4 349.4A59.4 59.4 0 0 0 400.6 350.9ZM400.4 333.5L394.7 332.7A65.2 65.2 0 0 1 394.9 331.1L400.6 332A59.4 59.4 0 0 0 400.4 333.5ZM394.9 331.1L388.6 330.1A71.5 71.5 0 0 1 388.9 328.3L395.2 329.5A65.2 65.2 0 0 0 394.9 331.1ZM173.4 295.2L145.5 290.7A317.8 317.8 0 0 1 146.8 283L174.6 288.2A289.5 289.5 0 0 0 173.4 295.2ZM200 293L174.6 288.2A289.5 289.5 0 0 1 176 281.3L201.2 286.6A263.7 263.7 0 0 0 200 293ZM382.4 325.2L374.9 323.6A86.2 86.2 0 0 1 375.4 321.5L382.8 323.3A78.5 78.5 0 0 0 382.4 325.2ZM375.4 321.5L367.2 319.6A94.6 94.6 0 0 1 367.8 317.3L375.9 319.5A86.2 86.2 0 0 0 375.4 321.5ZM367.8 317.3L358.8 314.9A103.8 103.8 0 0 1 359.5 312.5L368.4 315.1A94.6 94.6 0 0 0 367.8 317.3ZM247.6 285.5L226.9 280A240.3 240.3 0 0 1 228.5 274.4L249 280.3A218.9 218.9 0 0 0 247.6 285.5ZM359.5 312.5L349.8 309.7A114 114 0 0 1 351.5 304.3L361 307.6A103.8 103.8 0 0 0 359.5 312.5ZM340.9 300.7L287.5 282.2A181.7 181.7 0 0 1 290.6 273.9L343.1 294.9A125.1 125.1 0 0 0 340.9 300.7ZM391.4 301.9L384.8 298A86.2 86.2 0 0 1 387 294.4L393.4 298.6A78.5 78.5 0 0 0 391.4 301.9ZM385 268.9L369.7 254A125.1 125.1 0 0 1 374.1 249.8L388.6 265.4A103.8 103.8 0 0 0 385 268.9ZM378 253.9L374.1 249.8A125.1 125.1 0 0 1 378.7 245.7L382.4 250.1A119.4 119.4 0 0 0 378 253.9ZM365.7 205L356.6 191.6A181.7 181.7 0 0 1 371.8 182.3L379.5 196.5A165.5 165.5 0 0 0 365.7 205ZM386.6 209.4L379.5 196.5A165.5 165.5 0 0 1 386.8 192.7L393.2 206A150.8 150.8 0 0 0 386.6 209.4ZM393.2 206L386.8 192.7A165.5 165.5 0 0 1 394.1 189.3L399.9 202.9A150.8 150.8 0 0 0 393.2 206ZM399.5 58.2L387.7 2.2A346.8 346.8 0 0 1 421.3 -3.2L427.6 53.7A289.5 289.5 0 0 0 399.5 58.2ZM430.4 79.3L427.6 53.7A289.5 289.5 0 0 1 455.9 52L456.2 77.8A263.7 263.7 0 0 0 430.4 79.3Z"/>
<path fill="#57106e" stroke="#57106e" stroke-width="0.8" d="M455.9 52L455.6 23.7A317.8 317.8 0 0 1 486.8 24.9L484.3 53.1A289.5 289.5 0 0 0 455.9 52ZM486.8 24.9L489.3 -4A346.8 346.8 0 0 1 523 0.6L517.7 29.1A317.8 317.8 0 0 0 486.8 24.9ZM515.3 201.6L520.8 187.9A165.5 165.5 0 0 1 528.3 191.1L522.1 204.5A150.8 150.8 0 0 0 515.3 201.6ZM506.8 237.9L511.4 227.8A125.1 125.1 0 0 1 516.9 230.5L511.8 240.4A114 114 0 0 0 506.8 237.9ZM522.1 204.5L528.3 191.1A165.5 165.5 0 0 1 535.5 194.7L528.8 207.7A150.8 150.8 0 0 0 522.1 204.5ZM502.8 257.6L516.9 230.5A125.1 125.1 0 0 1 522.3 233.5L506.9 259.8A94.6 94.6 0 0 0 502.8 257.6ZM502.7 267.1L516.7 243.1A114 114 0 0 1 521.4 246L506.3 269.3A86.2 86.2 0 0 0 502.7 267.1ZM502.1 275.7L510.9 262.3A94.6 94.6 0 0 1 514.7 264.9L505.2 277.9A78.5 78.5 0 0 0 502.1 275.7ZM501.1 283.6L509.7 271.7A86.2 86.2 0 0 1 513.1 274.3L503.9 285.7A71.5 71.5 0 0 0 501.1 283.6ZM501.9 288.2L508.3 280.3A78.5 78.5 0 0 1 511.3 282.7L504.5 290.4A68.3 68.3 0 0 0 501.9 288.2ZM502.4 292.7L506.6 288A71.5 71.5 0 0 1 509.2 290.4L504.7 294.9A65.2 65.2 0 0 0 502.4 292.7ZM502.7 297L506.9 292.7A68.3 68.3 0 0 1 509.3 295.1L504.8 299.2A62.2 62.2 0 0 0 502.7 297ZM504.8 299.2L509.3 295.1A68.3 68.3 0 0 1 511.5 297.6L506.8 301.5A62.2 62.2 0 0 0 504.8 299.2ZM554.3 269.3L563.6 262.2A131.1 131.1 0 0 1 567.4 267.4L557.7 274A119.4 119.4 0 0 0 554.3 269.3ZM508.2 308L513 304.7A65.2 65.2 0 0 1 514.7 307.4L509.8 310.4A59.4 59.4 0 0 0 508.2 308ZM544.9 282.8L553.2 277.1A114 114 0 0 1 556.3 281.8L547.6 287.1A103.8 103.8 0 0 0 544.9 282.8ZM509.8 310.4L514.7 307.4A65.2 65.2 0 0 1 516.3 310.1L511.2 312.9A59.4 59.4 0 0 0 509.8 310.4ZM539.8 292L543.6 289.6A99.1 99.1 0 0 1 546.1 293.8L542.1 296A94.6 94.6 0 0 0 539.8 292ZM629.1 237.1L645.6 226.9A218.9 218.9 0 0 1 651.1 236.1L634 245.5A199.4 199.4 0 0 0 629.1 237.1ZM534.7 300L542.1 296A94.6 94.6 0 0 1 544.2 300.1L536.7 303.8A86.2 86.2 0 0 0 534.7 300ZM651.1 236.1L669.8 225.8A240.3 240.3 0 0 1 675.2 236.3L656 245.7A218.9 218.9 0 0 0 651.1 236.1ZM675.2 236.3L696.3 226A263.7 263.7 0 0 1 701.7 237.8L680.1 247A240.3 240.3 0 0 0 675.2 236.3ZM519.1 315.9L525 313.4A71.5 71.5 0 0 1 526.3 316.6L520.3 318.9A65.2 65.2 0 0 0 519.1 315.9ZM509.9 322.7L514.9 320.9A59.4 59.4 0 0 1 515.8 323.6L510.8 325.2A54.1 54.1 0 0 0 509.9 322.7ZM757.2 231.1L784.4 221A346.8 346.8 0 0 1 789.9 237.1L762.2 245.8A317.8 317.8 0 0 0 757.2 231.1ZM515.3 360.9L520.8 362.8A65.2 65.2 0 0 1 519.7 365.7L514.3 363.6A59.4 59.4 0 0 0 515.3 360.9ZM732.9 435.9L759.6 445.2A317.8 317.8 0 0 1 754.2 459.8L727.9 449.2A289.5 289.5 0 0 0 732.9 435.9ZM525.6 368.1L532.1 370.7A78.5 78.5 0 0 1 530.5 374.3L524.2 371.3A71.5 71.5 0 0 0 525.6 368.1ZM545.2 381L553.6 384.8A103.8 103.8 0 0 1 551.3 389.4L543.1 385.1A94.6 94.6 0 0 0 545.2 381ZM553.1 396.4L557.6 399A114 114 0 0 1 554.7 403.7L550.3 400.9A108.8 108.8 0 0 0 553.1 396.4ZM631.4 442.1L648.2 451.9A218.9 218.9 0 0 1 642.6 461L626.2 450.4A199.4 199.4 0 0 0 631.4 442.1ZM597.8 431.9L611.4 440.7A181.7 181.7 0 0 1 600.9 455.1L588.3 445A165.5 165.5 0 0 0 597.8 431.9ZM575.7 425.9L593.2 438.6A165.5 165.5 0 0 1 588.3 445L571.5 431.5A143.9 143.9 0 0 0 575.7 425.9ZM571.9 506L608.2 559.1A263.7 263.7 0 0 1 586.2 572.7L555.2 516.3A199.4 199.4 0 0 0 571.9 506ZM367.2 518.4L337.5 575.5A263.7 263.7 0 0 1 315.2 562.4L350.3 508.5A199.4 199.4 0 0 0 367.2 518.4ZM369.4 403L365.2 405.9A114 114 0 0 1 362.1 401.2L366.5 398.5A108.8 108.8 0 0 0 369.4 403ZM370.8 395.9L362.1 401.2A114 114 0 0 1 359.3 396.4L368.2 391.5A103.8 103.8 0 0 0 370.8 395.9ZM289.3 445.9L272.8 456.1A218.9 218.9 0 0 1 267.3 446.9L284.4 437.5A199.4 199.4 0 0 0 289.3 445.9ZM376.3 387L368.2 391.5A103.8 103.8 0 0 1 365.8 387L374.2 382.9A94.6 94.6 0 0 0 376.3 387ZM267.3 446.9L248.6 457.2A240.3 240.3 0 0 1 243.2 446.7L262.4 437.3A218.9 218.9 0 0 0 267.3 446.9ZM243.2 446.7L222.1 457A263.7 263.7 0 0 1 216.7 445.2L238.3 436A240.3 240.3 0 0 0 243.2 446.7ZM399.3 367.1L393.4 369.6A71.5 71.5 0 0 1 392.1 366.4L398.1 364.1A65.2 65.2 0 0 0 399.3 367.1ZM408.5 360.3L403.5 362.1A59.4 59.4 0 0 1 402.6 359.4L407.6 357.8A54.1 54.1 0 0 0 408.5 360.3ZM161.2 451.9L134 462A346.8 346.8 0 0 1 128.5 445.9L156.2 437.2A317.8 317.8 0 0 0 161.2 451.9ZM403.1 322.1L397.6 320.2A65.2 65.2 0 0 1 398.7 317.3L404.1 319.4A59.4 59.4 0 0 0 403.1 322.1ZM185.5 247.1L158.8 237.8A317.8 317.8 0 0 1 164.2 223.2L190.5 233.8A289.5 289.5 0 0 0 185.5 247.1ZM392.8 314.9L386.3 312.3A78.5 78.5 0 0 1 387.9 308.7L394.2 311.7A71.5 71.5 0 0 0 392.8 314.9ZM387.9 308.7L380.9 305.5A86.2 86.2 0 0 1 382.7 301.7L389.6 305.3A78.5 78.5 0 0 0 387.9 308.7ZM379.1 299.8L375.3 297.9A94.6 94.6 0 0 1 377.5 293.8L381.2 296A90.3 90.3 0 0 0 379.1 299.8ZM402.9 308.6L397.4 305.4A71.5 71.5 0 0 1 399.3 302.4L404.6 305.9A65.2 65.2 0 0 0 402.9 308.6ZM373.6 291.5L369.5 289.1A103.8 103.8 0 0 1 372.2 284.8L376.2 287.4A99.1 99.1 0 0 0 373.6 291.5ZM287 240.9L270.2 231.1A218.9 218.9 0 0 1 275.8 222L292.2 232.6A199.4 199.4 0 0 0 287 240.9ZM368.1 282.1L359.2 276.3A119.4 119.4 0 0 1 362.5 271.5L371.1 277.7A108.8 108.8 0 0 0 368.1 282.1ZM320.6 251.1L307 242.3A181.7 181.7 0 0 1 317.5 227.9L330.1 238A165.5 165.5 0 0 0 320.6 251.1ZM353 264.6L325.2 244.4A165.5 165.5 0 0 1 330.1 238L356.9 259.5A131.1 131.1 0 0 0 353 264.6ZM405.9 298.8L403.4 296.8A71.5 71.5 0 0 1 405.7 294.1L408.1 296.2A68.3 68.3 0 0 0 405.9 298.8ZM408.1 296.2L403.1 291.8A74.9 74.9 0 0 1 405.6 289.1L410.4 293.8A68.3 68.3 0 0 0 408.1 296.2ZM408.1 291.5L403.1 286.6A78.5 78.5 0 0 1 405.8 283.9L410.6 289.1A71.5 71.5 0 0 0 408.1 291.5ZM410.6 289.1L403.3 281.2A82.2 82.2 0 0 1 406.3 278.5L413.2 286.7A71.5 71.5 0 0 0 410.6 289.1ZM411 284.1L401.1 272.4A90.3 90.3 0 0 1 404.6 269.6L413.9 281.8A74.9 74.9 0 0 0 411 284.1ZM409.5 276L399.3 262.6A99.1 99.1 0 0 1 403.2 259.7L412.7 273.6A82.2 82.2 0 0 0 409.5 276ZM408.2 267L394.8 247.5A114 114 0 0 1 399.5 244.4L411.9 264.6A90.3 90.3 0 0 0 408.2 267ZM356.6 191.6L346.5 177A199.4 199.4 0 0 1 363.2 166.7L371.8 182.3A181.7 181.7 0 0 0 356.6 191.6ZM407.3 257.1L393.7 234.9A125.1 125.1 0 0 1 399 231.8L411.5 254.6A99.1 99.1 0 0 0 407.3 257.1ZM401.7 236.8L399 231.8A125.1 125.1 0 0 1 404.4 229L406.9 234.1A119.4 119.4 0 0 0 401.7 236.8ZM379.5 196.5L371.8 182.3A181.7 181.7 0 0 1 387.8 174.5L394.1 189.3A165.5 165.5 0 0 0 379.5 196.5ZM413.8 197.7L409.4 183.7A165.5 165.5 0 0 1 417.2 181.4L420.9 195.7A150.8 150.8 0 0 0 413.8 197.7ZM409.4 183.7L393.3 132.8A218.9 218.9 0 0 1 414.1 127.3L425.1 179.6A165.5 165.5 0 0 0 409.4 183.7ZM420.9 195.7L417.2 181.4A165.5 165.5 0 0 1 425.1 179.6L428.1 194A150.8 150.8 0 0 0 420.9 195.7ZM427.6 53.7L424.5 25.6A317.8 317.8 0 0 1 455.6 23.7L455.9 52A289.5 289.5 0 0 0 427.6 53.7Z"/>
<path fill="#420a68" stroke="#420a68" stroke-width="0.8" d="M455.6 23.7L455.3 -5.3A346.8 346.8 0 0 1 489.3 -4L486.8 24.9A317.8 317.8 0 0 0 455.6 23.7ZM489.6 178.8L503.4 105.3A240.3 240.3 0 0 1 526.3 110.8L505.4 182.6A165.5 165.5 0 0 0 489.6 178.8ZM520.8 187.9L526.8 172.9A181.7 181.7 0 0 1 543 180.3L535.5 194.7A165.5 165.5 0 0 0 520.8 187.9ZM551.2 164.6L560.2 147.3A218.9 218.9 0 0 1 578.7 158.1L568.1 174.5A199.4 199.4 0 0 0 551.2 164.6ZM530.8 231.7L549.6 202.9A165.5 165.5 0 0 1 556.3 207.5L536.1 235.3A131.1 131.1 0 0 0 530.8 231.7ZM549.6 202.9L558.4 189.3A181.7 181.7 0 0 1 572.8 199.8L562.7 212.4A165.5 165.5 0 0 0 549.6 202.9ZM578.7 158.1L590.4 140.2A240.3 240.3 0 0 1 609.5 154.1L596.1 170.7A218.9 218.9 0 0 0 578.7 158.1ZM609.5 154.1L624.2 135.7A263.7 263.7 0 0 1 643.6 152.9L627.2 169.7A240.3 240.3 0 0 0 609.5 154.1ZM612.2 185L627.2 169.7A240.3 240.3 0 0 1 643.2 187L626.8 200.7A218.9 218.9 0 0 0 612.2 185ZM643.6 152.9L661.6 134.5A289.5 289.5 0 0 1 680.9 155.3L661.2 171.9A263.7 263.7 0 0 0 643.6 152.9ZM741.1 488.1L766.9 501.5A346.8 346.8 0 0 1 758.7 516.4L733.6 501.8A317.8 317.8 0 0 0 741.1 488.1ZM557.6 399L562.3 401.7A119.4 119.4 0 0 1 559.2 406.7L554.7 403.7A114 114 0 0 0 557.6 399ZM709.2 487.5L733.6 501.8A317.8 317.8 0 0 1 725.4 515L701.7 499.6A289.5 289.5 0 0 0 709.2 487.5ZM554.7 403.7L569 413.1A131.1 131.1 0 0 1 565.4 418.4L551.5 408.4A114 114 0 0 0 554.7 403.7ZM560.5 414.9L575.7 425.9A143.9 143.9 0 0 1 571.5 431.5L556.8 419.8A125.1 125.1 0 0 0 560.5 414.9ZM566.3 427.4L588.3 445A165.5 165.5 0 0 1 583.1 451.2L562 432.6A137.3 137.3 0 0 0 566.3 427.4ZM588.3 445L614.8 466.2A199.4 199.4 0 0 1 601.8 480.9L577.5 457.2A165.5 165.5 0 0 0 588.3 445ZM572 441.5L583.1 451.2A165.5 165.5 0 0 1 577.5 457.2L567 446.9A150.8 150.8 0 0 0 572 441.5ZM577.5 457.2L631 509.5A240.3 240.3 0 0 1 613.7 525.5L565.6 468.2A165.5 165.5 0 0 0 577.5 457.2ZM565.6 468.2L613.7 525.5A240.3 240.3 0 0 1 594.9 539.7L552.7 478A165.5 165.5 0 0 0 565.6 468.2ZM608.2 559.1L622.8 580.4A289.5 289.5 0 0 1 598.6 595.3L586.2 572.7A263.7 263.7 0 0 0 608.2 559.1ZM337.5 575.5L325.6 598.4A289.5 289.5 0 0 1 301.1 584L315.2 562.4A263.7 263.7 0 0 0 337.5 575.5ZM368.8 480.1L328 542.8A240.3 240.3 0 0 1 308.9 528.9L355.7 470.6A165.5 165.5 0 0 0 368.8 480.1ZM348.8 454.4L343.5 459.8A165.5 165.5 0 0 1 337.9 454L343.4 448.9A157.9 157.9 0 0 0 348.8 454.4ZM353.7 439.3L337.9 454A165.5 165.5 0 0 1 332.5 447.9L349 434A143.9 143.9 0 0 0 353.7 439.3ZM363.4 422L343.8 438.5A150.8 150.8 0 0 1 339.1 432.7L359.6 417.2A125.1 125.1 0 0 0 363.4 422ZM368.4 410.4L349.8 424.6A137.3 137.3 0 0 1 345.9 419.1L365.2 405.9A114 114 0 0 0 368.4 410.4ZM365.2 405.9L356 412.2A125.1 125.1 0 0 1 352.6 407L362.1 401.2A114 114 0 0 0 365.2 405.9ZM177.3 194.9L151.5 181.5A346.8 346.8 0 0 1 159.7 166.6L184.8 181.2A317.8 317.8 0 0 0 177.3 194.9ZM209.2 195.5L184.8 181.2A317.8 317.8 0 0 1 193 168L216.7 183.4A289.5 289.5 0 0 0 209.2 195.5ZM316.6 202.1L302.7 188.5A218.9 218.9 0 0 1 318.4 173.9L331 188.8A199.4 199.4 0 0 0 316.6 202.1ZM342.4 202.4L331 188.8A199.4 199.4 0 0 1 346.5 177L356.6 191.6A181.7 181.7 0 0 0 342.4 202.4ZM383.5 241.9L379.9 237.1A131.1 131.1 0 0 1 385.1 233.3L388.5 238.3A125.1 125.1 0 0 0 383.5 241.9ZM393.3 132.8L379.8 90A263.7 263.7 0 0 1 404.8 83.4L414.1 127.3A218.9 218.9 0 0 0 393.3 132.8ZM424.5 25.6L421.3 -3.2A346.8 346.8 0 0 1 455.3 -5.3L455.6 23.7A317.8 317.8 0 0 0 424.5 25.6Z"/>
<path fill="#f98e09" stroke="#f98e09" stroke-width="0.8" d="M470 216.9L471.1 204.7A137.3 137.3 0 0 1 477.8 205.4L476.2 217.5A125.1 125.1 0 0 0 470 216.9ZM476.2 217.5L477.8 205.4A137.3 137.3 0 0 1 484.5 206.5L482.2 218.5A125.1 125.1 0 0 0 476.2 217.5ZM480.5 279.9L482.5 273.9A71.5 71.5 0 0 1 485.8 275.1L483.4 281A65.2 65.2 0 0 0 480.5 279.9ZM483.4 281L485.8 275.1A71.5 71.5 0 0 1 489 276.5L486.4 282.3A65.2 65.2 0 0 0 483.4 281ZM486.4 282.3L487.7 279.5A68.3 68.3 0 0 1 490.7 280.9L489.3 283.7A65.2 65.2 0 0 0 486.4 282.3ZM485.3 291.2L486.6 288.8A59.4 59.4 0 0 1 489.1 290.2L487.8 292.6A56.6 56.6 0 0 0 485.3 291.2ZM486.5 294.8L489.1 290.2A59.4 59.4 0 0 1 491.6 291.8L488.7 296.2A54.1 54.1 0 0 0 486.5 294.8ZM488.7 296.2L491.6 291.8A59.4 59.4 0 0 1 494 293.4L490.9 297.7A54.1 54.1 0 0 0 488.7 296.2ZM490.9 297.7L492.4 295.6A56.6 56.6 0 0 1 494.6 297.3L493 299.3A54.1 54.1 0 0 0 490.9 297.7ZM512.6 399.1L517.8 404.7A86.2 86.2 0 0 1 514.6 407.5L509.7 401.6A78.5 78.5 0 0 0 512.6 399.1ZM509.7 401.6L514.6 407.5A86.2 86.2 0 0 1 511.3 410.1L506.7 404A78.5 78.5 0 0 0 509.7 401.6ZM524.7 448.1L527.9 453.2A131.1 131.1 0 0 1 522.3 456.4L519.4 451.2A125.1 125.1 0 0 0 524.7 448.1ZM519.4 451.2L525.3 461.9A137.3 137.3 0 0 1 519.3 465L514 454A125.1 125.1 0 0 0 519.4 451.2ZM514 454L519.3 465A137.3 137.3 0 0 1 513.2 467.8L508.4 456.5A125.1 125.1 0 0 0 514 454ZM538.6 593L546.4 617.6A289.5 289.5 0 0 1 518.9 624.8L513.6 599.6A263.7 263.7 0 0 0 538.6 593ZM410.7 600.7L405.9 626.1A289.5 289.5 0 0 1 378.3 619.5L385.5 594.7A263.7 263.7 0 0 0 410.7 600.7ZM412.6 457.6L408.1 469A137.3 137.3 0 0 1 401.9 466.3L407 455.2A125.1 125.1 0 0 0 412.6 457.6ZM407 455.2L401.9 466.3A137.3 137.3 0 0 1 395.8 463.3L401.5 452.5A125.1 125.1 0 0 0 407 455.2ZM401.5 452.5L398.7 457.8A131.1 131.1 0 0 1 393.1 454.7L396.1 449.5A125.1 125.1 0 0 0 401.5 452.5ZM413.2 405.1L408.7 411.3A86.2 86.2 0 0 1 405.3 408.7L410.1 402.7A78.5 78.5 0 0 0 413.2 405.1ZM410.1 402.7L405.3 408.7A86.2 86.2 0 0 1 402.1 406L407.1 400.3A78.5 78.5 0 0 0 410.1 402.7ZM410.3 312.9L407.9 311.6A59.4 59.4 0 0 1 409.5 309.1L411.7 310.6A56.6 56.6 0 0 0 410.3 312.9ZM417 307.7L412.9 304.4A59.4 59.4 0 0 1 414.8 302.1L418.7 305.6A54.1 54.1 0 0 0 417 307.7ZM418.7 305.6L414.8 302.1A59.4 59.4 0 0 1 416.8 300L420.5 303.7A54.1 54.1 0 0 0 418.7 305.6ZM420.5 303.7L416.8 300A59.4 59.4 0 0 1 418.8 298L422.4 301.9A54.1 54.1 0 0 0 420.5 303.7ZM420.7 300L418.8 298A59.4 59.4 0 0 1 421 296.1L422.8 298.1A56.6 56.6 0 0 0 420.7 300ZM422.8 298.1L421 296.1A59.4 59.4 0 0 1 423.3 294.2L424.9 296.4A56.6 56.6 0 0 0 422.8 298.1ZM424.9 296.4L423.3 294.2A59.4 59.4 0 0 1 425.7 292.5L427.2 294.8A56.6 56.6 0 0 0 424.9 296.4ZM425.1 286L423.4 283.4A68.3 68.3 0 0 1 426.3 281.7L427.8 284.4A65.2 65.2 0 0 0 425.1 286ZM427.8 284.4L424.8 278.8A71.5 71.5 0 0 1 427.9 277.2L430.7 282.9A65.2 65.2 0 0 0 427.8 284.4ZM430.7 282.9L427.9 277.2A71.5 71.5 0 0 1 431.1 275.7L433.6 281.6A65.2 65.2 0 0 0 430.7 282.9Z"/>
<path fill="#dd513a" stroke="#dd513a" stroke-width="0.8" d="M471.1 204.7L472.3 191.3A150.8 150.8 0 0 1 479.6 192.1L477.8 205.4A137.3 137.3 0 0 0 471.1 204.7ZM477.8 205.4L479.6 192.1A150.8 150.8 0 0 1 486.9 193.3L484.5 206.5A137.3 137.3 0 0 0 477.8 205.4ZM525.3 273.9L531.8 267.3A103.8 103.8 0 0 1 535.3 270.9L528.6 277.2A94.6 94.6 0 0 0 525.3 273.9ZM528.6 277.2L535.3 270.9A103.8 103.8 0 0 1 538.7 274.7L531.6 280.7A94.6 94.6 0 0 0 528.6 277.2ZM504.6 303.3L509.1 299.6A65.2 65.2 0 0 1 511.1 302.1L506.5 305.6A59.4 59.4 0 0 0 504.6 303.3ZM525.2 286.1L531.6 280.7A94.6 94.6 0 0 1 534.5 284.3L527.8 289.4A86.2 86.2 0 0 0 525.2 286.1ZM506.5 305.6L511.1 302.1A65.2 65.2 0 0 1 513 304.7L508.2 308A59.4 59.4 0 0 0 506.5 305.6ZM527.8 289.4L534.5 284.3A94.6 94.6 0 0 1 537.2 288.1L530.3 292.8A86.2 86.2 0 0 0 527.8 289.4ZM518.4 368.7L524.2 371.3A71.5 71.5 0 0 1 522.6 374.5L517 371.6A65.2 65.2 0 0 0 518.4 368.7ZM517 371.6L522.6 374.5A71.5 71.5 0 0 1 521 377.6L515.5 374.4A65.2 65.2 0 0 0 517 371.6ZM518.1 375.9L523.9 379.3A74.9 74.9 0 0 1 522 382.4L516.4 378.8A68.3 68.3 0 0 0 518.1 375.9ZM519.1 380.6L525 384.4A78.5 78.5 0 0 1 522.8 387.5L517.1 383.4A71.5 71.5 0 0 0 519.1 380.6ZM519.9 385.4L525.8 389.7A82.2 82.2 0 0 1 523.4 393L517.7 388.4A74.9 74.9 0 0 0 519.9 385.4ZM520.4 390.6L529.6 398A90.3 90.3 0 0 1 526.8 401.4L518 393.6A78.5 78.5 0 0 0 520.4 390.6ZM523.7 398.6L530 404.2A94.6 94.6 0 0 1 526.8 407.6L520.8 401.7A86.2 86.2 0 0 0 523.7 398.6ZM523.8 404.6L533.4 414.1A103.8 103.8 0 0 1 529.8 417.6L520.6 407.7A90.3 90.3 0 0 0 523.8 404.6ZM526.6 414.2L536.7 425.1A114 114 0 0 1 532.5 428.8L522.9 417.4A99.1 99.1 0 0 0 526.6 414.2ZM526 421L532.5 428.8A114 114 0 0 1 528.1 432.3L522 424.2A103.8 103.8 0 0 0 526 421ZM537.6 524.8L553.7 562.4A240.3 240.3 0 0 1 531.5 570.6L519.2 531.6A199.4 199.4 0 0 0 537.6 524.8ZM554.9 644.5L563.6 672.2A346.8 346.8 0 0 1 530.7 680.8L524.7 652.5A317.8 317.8 0 0 0 554.9 644.5ZM400.7 653.9L395.4 682.4A346.8 346.8 0 0 1 362.3 674.5L370.4 646.6A317.8 317.8 0 0 0 400.7 653.9ZM403.5 533L392.1 572.2A240.3 240.3 0 0 1 369.8 564.5L385 526.6A199.4 199.4 0 0 0 403.5 533ZM395.4 429.6L392.3 433.8A114 114 0 0 1 387.9 430.4L391.1 426.4A108.8 108.8 0 0 0 395.4 429.6ZM397.2 418.8L387.9 430.4A114 114 0 0 1 383.6 426.8L393.5 415.7A99.1 99.1 0 0 0 397.2 418.8ZM399.3 409.1L390.3 419.2A103.8 103.8 0 0 1 386.6 415.7L396.1 406.1A90.3 90.3 0 0 0 399.3 409.1ZM399 403.1L393.1 409.1A94.6 94.6 0 0 1 389.8 405.8L396 400.1A86.2 86.2 0 0 0 399 403.1ZM401.6 394.9L393 402.9A90.3 90.3 0 0 1 390.1 399.6L399.1 392A78.5 78.5 0 0 0 401.6 394.9ZM401.8 389.7L396.2 394.4A82.2 82.2 0 0 1 393.7 391.2L399.5 386.8A74.9 74.9 0 0 0 401.8 389.7ZM402.2 384.8L396.7 389A78.5 78.5 0 0 1 394.4 385.9L400.2 381.9A71.5 71.5 0 0 0 402.2 384.8ZM402.9 380.1L397.4 383.8A74.9 74.9 0 0 1 395.4 380.7L401.1 377.3A68.3 68.3 0 0 0 402.9 380.1ZM403.7 375.6L398.3 379A71.5 71.5 0 0 1 396.5 375.9L402.1 372.9A65.2 65.2 0 0 0 403.7 375.6ZM402.1 372.9L396.5 375.9A71.5 71.5 0 0 1 394.9 372.8L400.6 370A65.2 65.2 0 0 0 402.1 372.9ZM409.5 309.1L404.6 305.9A65.2 65.2 0 0 1 406.4 303.3L411.1 306.7A59.4 59.4 0 0 0 409.5 309.1ZM387 294.4L380 289.8A94.6 94.6 0 0 1 382.6 286L389.4 291A86.2 86.2 0 0 0 387 294.4ZM411.1 306.7L406.4 303.3A65.2 65.2 0 0 1 408.4 300.7L412.9 304.4A59.4 59.4 0 0 0 411.1 306.7ZM389.4 291L382.6 286A94.6 94.6 0 0 1 385.4 282.3L392 287.6A86.2 86.2 0 0 0 389.4 291ZM385.4 282.3L378.2 276.5A103.8 103.8 0 0 1 381.5 272.6L388.4 278.8A94.6 94.6 0 0 0 385.4 282.3ZM388.4 278.8L381.5 272.6A103.8 103.8 0 0 1 385 268.9L391.6 275.4A94.6 94.6 0 0 0 388.4 278.8ZM430.9 207.1L428.1 194A150.8 150.8 0 0 1 435.4 192.6L437.5 205.9A137.3 137.3 0 0 0 430.9 207.1ZM437.5 205.9L435.4 192.6A150.8 150.8 0 0 1 442.7 191.6L444.2 205A137.3 137.3 0 0 0 437.5 205.9Z"/>
<path fill="#bc3754" stroke="#bc3754" stroke-width="0.8" d="M472.3 191.3L473.6 176.6A165.5 165.5 0 0 1 481.6 177.5L479.6 192.1A150.8 150.8 0 0 0 472.3 191.3ZM479.6 192.1L481.6 177.5A165.5 165.5 0 0 1 489.6 178.8L486.9 193.3A150.8 150.8 0 0 0 479.6 192.1ZM486.9 225.3L488.2 219.8A125.1 125.1 0 0 1 494.2 221.4L492.6 226.8A119.4 119.4 0 0 0 486.9 225.3ZM485.6 250.7L494.2 221.4A125.1 125.1 0 0 1 500 223.2L490.1 252.1A94.6 94.6 0 0 0 485.6 250.7ZM486 263.8L498.2 228.6A119.4 119.4 0 0 1 503.6 230.7L489.8 265.2A82.2 82.2 0 0 0 486 263.8ZM487.1 272L494.4 253.7A94.6 94.6 0 0 1 498.7 255.5L490.5 273.4A74.9 74.9 0 0 0 487.1 272ZM487.7 279.5L493.5 266.8A82.2 82.2 0 0 1 497.1 268.5L490.7 280.9A68.3 68.3 0 0 0 487.7 279.5ZM489.3 283.7L493.8 275A74.9 74.9 0 0 1 497 276.8L492.1 285.2A65.2 65.2 0 0 0 489.3 283.7ZM489.1 290.2L495.3 279.7A71.5 71.5 0 0 1 498.3 281.6L491.6 291.8A59.4 59.4 0 0 0 489.1 290.2ZM491.6 291.8L494.8 286.9A65.2 65.2 0 0 1 497.4 288.7L494 293.4A59.4 59.4 0 0 0 491.6 291.8ZM492.4 295.6L495.7 291.1A62.2 62.2 0 0 1 498.1 293L494.6 297.3A56.6 56.6 0 0 0 492.4 295.6ZM493 299.3L496.3 295.2A59.4 59.4 0 0 1 498.6 297.1L495.1 301A54.1 54.1 0 0 0 493 299.3ZM495.1 301L498.6 297.1A59.4 59.4 0 0 1 500.7 299.1L497 302.8A54.1 54.1 0 0 0 495.1 301ZM497 302.8L498.8 301A56.6 56.6 0 0 1 500.7 303L498.8 304.7A54.1 54.1 0 0 0 497 302.8ZM519.4 279.9L525.3 273.9A94.6 94.6 0 0 1 528.6 277.2L522.4 282.9A86.2 86.2 0 0 0 519.4 279.9ZM546.7 252L555.2 243.3A137.3 137.3 0 0 1 559.9 248.1L550.9 256.4A125.1 125.1 0 0 0 546.7 252ZM498.8 304.7L500.7 303A56.6 56.6 0 0 1 502.6 305.1L500.6 306.7A54.1 54.1 0 0 0 498.8 304.7ZM522.4 282.9L528.6 277.2A94.6 94.6 0 0 1 531.6 280.7L525.2 286.1A86.2 86.2 0 0 0 522.4 282.9ZM550.9 256.4L559.9 248.1A137.3 137.3 0 0 1 564.4 253.2L555 261A125.1 125.1 0 0 0 550.9 256.4ZM500.6 306.7L504.6 303.3A59.4 59.4 0 0 1 506.5 305.6L502.3 308.8A54.1 54.1 0 0 0 500.6 306.7ZM502.3 308.8L506.5 305.6A59.4 59.4 0 0 1 508.2 308L503.8 311A54.1 54.1 0 0 0 502.3 308.8ZM503.8 311L505.9 309.5A56.6 56.6 0 0 1 507.5 311.8L505.3 313.2A54.1 54.1 0 0 0 503.8 311ZM505.3 313.2L507.5 311.8A56.6 56.6 0 0 1 508.9 314.2L506.6 315.5A54.1 54.1 0 0 0 505.3 313.2ZM524.2 371.3L530.5 374.3A78.5 78.5 0 0 1 528.8 377.7L522.6 374.5A71.5 71.5 0 0 0 524.2 371.3ZM522.6 374.5L528.8 377.7A78.5 78.5 0 0 1 527 381.1L521 377.6A71.5 71.5 0 0 0 522.6 374.5ZM523.9 379.3L530.2 383A82.2 82.2 0 0 1 528.1 386.4L522 382.4A74.9 74.9 0 0 0 523.9 379.3ZM525 384.4L531.4 388.6A86.2 86.2 0 0 1 529 392L522.8 387.5A78.5 78.5 0 0 0 525 384.4ZM525.8 389.7L535.8 397A94.6 94.6 0 0 1 533 400.7L523.4 393A82.2 82.2 0 0 0 525.8 389.7ZM529.6 398L536.5 403.5A99.1 99.1 0 0 1 533.4 407.2L526.8 401.4A90.3 90.3 0 0 0 529.6 398ZM530 404.2L540.6 413.6A108.8 108.8 0 0 1 537 417.5L526.8 407.6A94.6 94.6 0 0 0 530 404.2ZM533.4 414.1L540.7 421.2A114 114 0 0 1 536.7 425.1L529.8 417.6A103.8 103.8 0 0 0 533.4 414.1ZM390.3 419.2L383.6 426.8A114 114 0 0 1 379.5 423L386.6 415.7A103.8 103.8 0 0 0 390.3 419.2ZM393.1 409.1L383.2 419.3A108.8 108.8 0 0 1 379.4 415.5L389.8 405.8A94.6 94.6 0 0 0 393.1 409.1ZM393 402.9L386.5 408.9A99.1 99.1 0 0 1 383.3 405.2L390.1 399.6A90.3 90.3 0 0 0 393 402.9ZM396.2 394.4L386.8 402.3A94.6 94.6 0 0 1 383.9 398.7L393.7 391.2A82.2 82.2 0 0 0 396.2 394.4ZM396.7 389L390.6 393.6A86.2 86.2 0 0 1 388.1 390.2L394.4 385.9A78.5 78.5 0 0 0 396.7 389ZM397.4 383.8L391.3 388A82.2 82.2 0 0 1 389.1 384.6L395.4 380.7A74.9 74.9 0 0 0 397.4 383.8ZM398.3 379L392.3 382.6A78.5 78.5 0 0 1 390.4 379.3L396.5 375.9A71.5 71.5 0 0 0 398.3 379ZM407.9 311.6L405.5 310.1A62.2 62.2 0 0 1 407.1 307.5L409.5 309.1A59.4 59.4 0 0 0 407.9 311.6ZM413.9 312L409.5 309.1A59.4 59.4 0 0 1 411.1 306.7L415.4 309.8A54.1 54.1 0 0 0 413.9 312ZM415.4 309.8L411.1 306.7A59.4 59.4 0 0 1 412.9 304.4L417 307.7A54.1 54.1 0 0 0 415.4 309.8ZM412.9 304.4L410.7 302.6A62.2 62.2 0 0 1 412.7 300.3L414.8 302.1A59.4 59.4 0 0 0 412.9 304.4ZM392 287.6L385.4 282.3A94.6 94.6 0 0 1 388.4 278.8L394.7 284.4A86.2 86.2 0 0 0 392 287.6ZM361.6 263.2L352.1 255.6A137.3 137.3 0 0 1 356.4 250.4L365.6 258.5A125.1 125.1 0 0 0 361.6 263.2ZM414.8 302.1L412.7 300.3A62.2 62.2 0 0 1 414.7 298L416.8 300A59.4 59.4 0 0 0 414.8 302.1ZM394.7 284.4L388.4 278.8A94.6 94.6 0 0 1 391.6 275.4L397.6 281.3A86.2 86.2 0 0 0 394.7 284.4ZM365.6 258.5L356.4 250.4A137.3 137.3 0 0 1 361 245.5L369.7 254A125.1 125.1 0 0 0 365.6 258.5ZM416.8 300L412.6 296A65.2 65.2 0 0 1 414.9 293.7L418.8 298A59.4 59.4 0 0 0 416.8 300ZM418.8 298L414.9 293.7A65.2 65.2 0 0 1 417.3 291.6L421 296.1A59.4 59.4 0 0 0 418.8 298ZM419.2 293.9L415.3 289.2A68.3 68.3 0 0 1 417.9 287.1L421.6 292A62.2 62.2 0 0 0 419.2 293.9ZM421.6 292L415.9 284.5A71.5 71.5 0 0 1 418.8 282.5L424.1 290.2A62.2 62.2 0 0 0 421.6 292ZM422.4 287.7L416.9 279.7A74.9 74.9 0 0 1 420 277.7L425.1 286A65.2 65.2 0 0 0 422.4 287.7ZM423.4 283.4L416.1 271.4A82.2 82.2 0 0 1 419.6 269.4L426.3 281.7A68.3 68.3 0 0 0 423.4 283.4ZM424.8 278.8L415.7 262.4A90.3 90.3 0 0 1 419.7 260.3L427.9 277.2A71.5 71.5 0 0 0 424.8 278.8ZM424.8 270.9L415.8 252.4A99.1 99.1 0 0 1 420.2 250.4L428.3 269.3A78.5 78.5 0 0 0 424.8 270.9ZM425.3 262.3L412.3 231.7A119.4 119.4 0 0 1 417.7 229.5L429.3 260.7A86.2 86.2 0 0 0 425.3 262.3ZM424.8 248.6L415.7 224.2A125.1 125.1 0 0 1 421.5 222.2L429.4 247A99.1 99.1 0 0 0 424.8 248.6ZM423.2 227.6L421.5 222.2A125.1 125.1 0 0 1 427.4 220.5L428.9 226A119.4 119.4 0 0 0 423.2 227.6Z"/>
<path fill="#932667" stroke="#932667" stroke-width="0.8" d="M473.6 176.6L478.2 123.4A218.9 218.9 0 0 1 499.5 126.4L489.6 178.8A165.5 165.5 0 0 0 473.6 176.6ZM573.1 337.4L584.2 337A125.1 125.1 0 0 1 584.3 340.1L573.2 340.2A114 114 0 0 0 573.1 337.4ZM640.7 335L658.5 334.3A199.4 199.4 0 0 1 658.6 339.2L640.8 339.4A181.7 181.7 0 0 0 640.7 335ZM553.8 340.4L563 340.3A103.8 103.8 0 0 1 563 342.9L553.8 342.7A94.6 94.6 0 0 0 553.8 340.4ZM573.2 343L584.3 343.2A125.1 125.1 0 0 1 584.2 346.2L573.1 345.8A114 114 0 0 0 573.2 343ZM624.7 343.7L640.8 343.9A181.7 181.7 0 0 1 640.7 348.4L624.6 347.7A165.5 165.5 0 0 0 624.7 343.7ZM555.2 516.3L586.2 572.7A263.7 263.7 0 0 1 562.9 584L537.6 524.8A199.4 199.4 0 0 0 555.2 516.3ZM385 526.6L361 586.3A263.7 263.7 0 0 1 337.5 575.5L367.2 518.4A199.4 199.4 0 0 0 385 526.6ZM345.3 345.6L334.2 346A125.1 125.1 0 0 1 334.1 342.9L345.2 342.8A114 114 0 0 0 345.3 345.6ZM277.7 348L259.9 348.7A199.4 199.4 0 0 1 259.8 343.8L277.6 343.6A181.7 181.7 0 0 0 277.7 348ZM364.6 342.6L355.4 342.7A103.8 103.8 0 0 1 355.4 340.1L364.6 340.3A94.6 94.6 0 0 0 364.6 342.6ZM345.2 340L334.1 339.8A125.1 125.1 0 0 1 334.2 336.8L345.3 337.2A114 114 0 0 0 345.2 340ZM293.7 339.3L277.6 339.1A181.7 181.7 0 0 1 277.7 334.6L293.8 335.3A165.5 165.5 0 0 0 293.7 339.3ZM421.5 222.2L413.8 197.7A150.8 150.8 0 0 1 420.9 195.7L427.4 220.5A125.1 125.1 0 0 0 421.5 222.2ZM427.4 220.5L420.9 195.7A150.8 150.8 0 0 1 428.1 194L433.4 219.1A125.1 125.1 0 0 0 427.4 220.5ZM425.1 179.6L418.1 146.4A199.4 199.4 0 0 1 437.4 143.3L441.1 177A165.5 165.5 0 0 0 425.1 179.6Z"/>
<path fill="#7f1e6c" stroke="#7f1e6c" stroke-width="0.8" d="M478.2 123.4L482.1 78.8A263.7 263.7 0 0 1 507.7 82.3L499.5 126.4A218.9 218.9 0 0 0 478.2 123.4ZM484.5 206.5L486.9 193.3A150.8 150.8 0 0 1 494.2 194.9L491.1 207.9A137.3 137.3 0 0 0 484.5 206.5ZM491.1 207.9L494.2 194.9A150.8 150.8 0 0 1 501.3 196.8L497.6 209.6A137.3 137.3 0 0 0 491.1 207.9ZM528.8 207.7L535.5 194.7A165.5 165.5 0 0 1 542.7 198.6L535.2 211.3A150.8 150.8 0 0 0 528.8 207.7ZM535.5 194.7L543 180.3A181.7 181.7 0 0 1 558.4 189.3L549.6 202.9A165.5 165.5 0 0 0 535.5 194.7ZM535.2 211.3L542.7 198.6A165.5 165.5 0 0 1 549.6 202.9L541.5 215.2A150.8 150.8 0 0 0 535.2 211.3ZM571.7 323.5L582.7 321.7A125.1 125.1 0 0 1 583.2 324.8L572.2 326.3A114 114 0 0 0 571.7 323.5ZM622.6 315.4L638.6 312.8A181.7 181.7 0 0 1 639.2 317.2L623.2 319.4A165.5 165.5 0 0 0 622.6 315.4ZM562.1 327.6L572.2 326.3A114 114 0 0 1 572.5 329L562.4 330.2A103.8 103.8 0 0 0 562.1 327.6ZM656.8 314.8L676.1 312.2A218.9 218.9 0 0 1 676.8 317.6L657.4 319.7A199.4 199.4 0 0 0 656.8 314.8ZM676.8 317.6L698 315.2A240.3 240.3 0 0 1 698.6 321.1L677.3 322.9A218.9 218.9 0 0 0 676.8 317.6ZM537.4 334.8L545.1 334.2A86.2 86.2 0 0 1 545.2 336.3L537.6 336.8A78.5 78.5 0 0 0 537.4 334.8ZM530.6 337.2L537.6 336.8A78.5 78.5 0 0 1 537.7 338.7L530.7 338.9A71.5 71.5 0 0 0 530.6 337.2ZM748.2 324L776.4 322.3A317.8 317.8 0 0 1 776.8 330.1L748.5 331.1A289.5 289.5 0 0 0 748.2 324ZM513.2 339.6L524.3 339.2A65.2 65.2 0 0 1 524.3 340.8L513.3 340.9A54.1 54.1 0 0 0 513.2 339.6ZM518.5 342.3L524.3 342.4A65.2 65.2 0 0 1 524.3 344L518.5 343.7A59.4 59.4 0 0 0 518.5 342.3ZM530.7 344.2L537.6 344.5A78.5 78.5 0 0 1 537.6 346.4L530.6 346A71.5 71.5 0 0 0 530.7 344.2ZM748.5 352.4L776.8 353.5A317.8 317.8 0 0 1 776.4 361.3L748.1 359.5A289.5 289.5 0 0 0 748.5 352.4ZM699 356.5L722.4 357.9A263.7 263.7 0 0 1 721.9 364.4L698.6 362.3A240.3 240.3 0 0 0 699 356.5ZM677.3 360.5L698.6 362.3A240.3 240.3 0 0 1 698 368.2L676.7 365.8A218.9 218.9 0 0 0 677.3 360.5ZM562.4 353L572.5 354.2A114 114 0 0 1 572.1 356.9L562.1 355.6A103.8 103.8 0 0 0 562.4 353ZM657.4 363.7L676.7 365.8A218.9 218.9 0 0 1 676.1 371.2L656.8 368.5A199.4 199.4 0 0 0 657.4 363.7ZM572.1 356.9L595.3 360.1A137.3 137.3 0 0 1 594.8 363.4L571.7 359.7A114 114 0 0 0 572.1 356.9ZM623.2 363.9L639.2 366.1A181.7 181.7 0 0 1 638.5 370.5L622.6 367.9A165.5 165.5 0 0 0 623.2 363.9ZM586.2 572.7L598.6 595.3A289.5 289.5 0 0 1 573 607.7L562.9 584A263.7 263.7 0 0 0 586.2 572.7ZM361 586.3L351.5 610.2A289.5 289.5 0 0 1 325.6 598.4L337.5 575.5A263.7 263.7 0 0 0 361 586.3ZM346.7 359.5L335.7 361.3A125.1 125.1 0 0 1 335.2 358.2L346.2 356.7A114 114 0 0 0 346.7 359.5ZM295.8 367.6L279.8 370.2A181.7 181.7 0 0 1 279.2 365.8L295.2 363.6A165.5 165.5 0 0 0 295.8 367.6ZM356.3 355.4L346.2 356.7A114 114 0 0 1 345.9 354L356 352.8A103.8 103.8 0 0 0 356.3 355.4ZM261.6 368.2L242.3 370.8A218.9 218.9 0 0 1 241.6 365.4L261 363.3A199.4 199.4 0 0 0 261.6 368.2ZM241.6 365.4L220.4 367.8A240.3 240.3 0 0 1 219.8 361.9L241.1 360.1A218.9 218.9 0 0 0 241.6 365.4ZM381 348.2L373.3 348.8A86.2 86.2 0 0 1 373.2 346.7L380.8 346.2A78.5 78.5 0 0 0 381 348.2ZM387.8 345.8L380.8 346.2A78.5 78.5 0 0 1 380.7 344.3L387.7 344.1A71.5 71.5 0 0 0 387.8 345.8ZM170.2 359L142 360.7A317.8 317.8 0 0 1 141.6 352.9L169.9 351.9A289.5 289.5 0 0 0 170.2 359ZM405.2 343.4L394.1 343.8A65.2 65.2 0 0 1 394.1 342.2L405.1 342.1A54.1 54.1 0 0 0 405.2 343.4ZM399.9 340.7L394.1 340.6A65.2 65.2 0 0 1 394.1 339L399.9 339.3A59.4 59.4 0 0 0 399.9 340.7ZM387.7 338.8L380.8 338.5A78.5 78.5 0 0 1 380.8 336.6L387.8 337A71.5 71.5 0 0 0 387.7 338.8ZM169.9 330.6L141.6 329.5A317.8 317.8 0 0 1 142 321.7L170.3 323.5A289.5 289.5 0 0 0 169.9 330.6ZM219.4 326.5L196 325.1A263.7 263.7 0 0 1 196.5 318.6L219.8 320.7A240.3 240.3 0 0 0 219.4 326.5ZM241.1 322.5L219.8 320.7A240.3 240.3 0 0 1 220.4 314.8L241.7 317.2A218.9 218.9 0 0 0 241.1 322.5ZM356 330L345.9 328.8A114 114 0 0 1 346.3 326.1L356.3 327.4A103.8 103.8 0 0 0 356 330ZM261 319.3L241.7 317.2A218.9 218.9 0 0 1 242.3 311.8L261.6 314.5A199.4 199.4 0 0 0 261 319.3ZM346.3 326.1L323.1 322.9A137.3 137.3 0 0 1 323.6 319.6L346.7 323.3A114 114 0 0 0 346.3 326.1ZM295.2 319.1L279.2 316.9A181.7 181.7 0 0 1 279.9 312.5L295.8 315.1A165.5 165.5 0 0 0 295.2 319.1ZM418.1 146.4L399.5 58.2A289.5 289.5 0 0 1 427.6 53.7L437.4 143.3A199.4 199.4 0 0 0 418.1 146.4Z"/>
<path fill="#f6d746" stroke="#f6d746" stroke-width="0.8" d="M476.6 248.5L478.3 239.4A103.8 103.8 0 0 1 483.3 240.5L481.1 249.5A94.6 94.6 0 0 0 476.6 248.5ZM481.1 249.5L483.3 240.5A103.8 103.8 0 0 1 488.2 241.8L485.6 250.7A94.6 94.6 0 0 0 481.1 249.5ZM482.3 283.8L483.4 281A65.2 65.2 0 0 1 486.4 282.3L485.1 285A62.2 62.2 0 0 0 482.3 283.8ZM484 287.6L486.4 282.3A65.2 65.2 0 0 1 489.3 283.7L486.6 288.8A59.4 59.4 0 0 0 484 287.6ZM486.6 288.8L489.3 283.7A65.2 65.2 0 0 1 492.1 285.2L489.1 290.2A59.4 59.4 0 0 0 486.6 288.8ZM421 296.1L419.2 293.9A62.2 62.2 0 0 1 421.6 292L423.3 294.2A59.4 59.4 0 0 0 421 296.1ZM423.3 294.2L421.6 292A62.2 62.2 0 0 1 424.1 290.2L425.7 292.5A59.4 59.4 0 0 0 423.3 294.2ZM425.7 292.5L422.4 287.7A65.2 65.2 0 0 1 425.1 286L428.1 290.9A59.4 59.4 0 0 0 425.7 292.5ZM428.1 290.9L425.1 286A65.2 65.2 0 0 1 427.8 284.4L430.6 289.5A59.4 59.4 0 0 0 428.1 290.9ZM429.3 287L427.8 284.4A65.2 65.2 0 0 1 430.7 282.9L432 285.6A62.2 62.2 0 0 0 429.3 287ZM426.3 252.8L424.8 248.6A99.1 99.1 0 0 1 429.4 247L430.7 251.3A94.6 94.6 0 0 0 426.3 252.8ZM430.7 251.3L427.9 242.5A103.8 103.8 0 0 1 432.8 241.1L435.2 250A94.6 94.6 0 0 0 430.7 251.3ZM434 245.6L432.8 241.1A103.8 103.8 0 0 1 437.8 239.9L438.8 244.5A99.1 99.1 0 0 0 434 245.6Z"/>
<path fill="#320a5e" stroke="#320a5e" stroke-width="0.8" d="M482.2 218.5L484.5 206.5A137.3 137.3 0 0 1 491.1 207.9L488.2 219.8A125.1 125.1 0 0 0 482.2 218.5ZM488.2 219.8L491.1 207.9A137.3 137.3 0 0 1 497.6 209.6L494.2 221.4A125.1 125.1 0 0 0 488.2 219.8ZM505.8 225.4L508 219.8A131.1 131.1 0 0 1 513.9 222.4L511.4 227.8A125.1 125.1 0 0 0 505.8 225.4ZM702.6 137.1L724.8 118.5A346.8 346.8 0 0 1 745.3 145.6L721.4 162A317.8 317.8 0 0 0 702.6 137.1ZM233.3 160.4L188.6 124.5A346.8 346.8 0 0 1 211.2 99.1L252.2 139.1A289.5 289.5 0 0 0 233.3 160.4ZM318.4 173.9L304.7 157.5A240.3 240.3 0 0 1 323.5 143.3L335.5 160.9A218.9 218.9 0 0 0 318.4 173.9Z"/>
<path fill="#2b0b57" stroke="#2b0b57" stroke-width="0.8" d="M503.4 105.3L512.5 56.9A289.5 289.5 0 0 1 540.1 63.5L526.3 110.8A240.3 240.3 0 0 0 503.4 105.3ZM566.9 72.8L588.3 19.6A346.8 346.8 0 0 1 619.2 33.8L592.8 84.6A289.5 289.5 0 0 0 566.9 72.8ZM560.2 147.3L570 128.3A240.3 240.3 0 0 1 590.4 140.2L578.7 158.1A218.9 218.9 0 0 0 560.2 147.3ZM592.8 84.6L619.2 33.8A346.8 346.8 0 0 1 648.6 51L617.3 99A289.5 289.5 0 0 0 592.8 84.6ZM590.4 140.2L648.6 51A346.8 346.8 0 0 1 676.2 70.9L609.5 154.1A240.3 240.3 0 0 0 590.4 140.2ZM624.2 135.7L676.2 70.9A346.8 346.8 0 0 1 701.6 93.5L643.6 152.9A263.7 263.7 0 0 0 624.2 135.7ZM661.6 134.5L701.6 93.5A346.8 346.8 0 0 1 724.8 118.5L680.9 155.3A289.5 289.5 0 0 0 661.6 134.5ZM660.5 472.7L749.7 530.9A346.8 346.8 0 0 1 729.8 558.5L646.6 491.8A240.3 240.3 0 0 0 660.5 472.7ZM614.8 466.2L646.6 491.8A240.3 240.3 0 0 1 631 509.5L601.8 480.9A199.4 199.4 0 0 0 614.8 466.2ZM665 506.5L729.8 558.5A346.8 346.8 0 0 1 707.2 583.9L647.8 525.9A263.7 263.7 0 0 0 665 506.5ZM613.7 525.5L628.8 543.5A263.7 263.7 0 0 1 608.2 559.1L594.9 539.7A240.3 240.3 0 0 0 613.7 525.5ZM622.8 580.4L655.1 627.6A346.8 346.8 0 0 1 626.1 645.5L598.6 595.3A289.5 289.5 0 0 0 622.8 580.4ZM325.6 598.4L299.2 649.2A346.8 346.8 0 0 1 269.8 632L301.1 584A289.5 289.5 0 0 0 325.6 598.4ZM328 542.8L315.2 562.4A263.7 263.7 0 0 1 294.2 547.3L308.9 528.9A240.3 240.3 0 0 0 328 542.8ZM355.7 470.6L308.9 528.9A240.3 240.3 0 0 1 291.2 513.3L343.5 459.8A165.5 165.5 0 0 0 355.7 470.6ZM343.5 459.8L291.2 513.3A240.3 240.3 0 0 1 275.2 496L332.5 447.9A165.5 165.5 0 0 0 343.5 459.8ZM274.8 530.1L216.8 589.5A346.8 346.8 0 0 1 193.6 564.5L257.2 511.1A263.7 263.7 0 0 0 274.8 530.1ZM275.2 496L193.6 564.5A346.8 346.8 0 0 1 173.1 537.4L261 477.2A240.3 240.3 0 0 0 275.2 496ZM270.6 157.1L211.2 99.1A346.8 346.8 0 0 1 236.2 75.9L289.6 139.5A263.7 263.7 0 0 0 270.6 157.1ZM304.7 157.5L236.2 75.9A346.8 346.8 0 0 1 263.3 55.4L323.5 143.3A240.3 240.3 0 0 0 304.7 157.5ZM346.5 177L335.5 160.9A218.9 218.9 0 0 1 353.8 149.6L363.2 166.7A199.4 199.4 0 0 0 346.5 177ZM279.7 79.3L263.3 55.4A346.8 346.8 0 0 1 292.3 37.5L306.2 63A317.8 317.8 0 0 0 279.7 79.3ZM371.8 182.3L363.2 166.7A199.4 199.4 0 0 1 380.8 158.2L387.8 174.5A181.7 181.7 0 0 0 371.8 182.3ZM379.8 90L372 65.4A289.5 289.5 0 0 1 399.5 58.2L404.8 83.4A263.7 263.7 0 0 0 379.8 90Z"/>
<path fill="#160b39" stroke="#160b39" stroke-width="0.8" d="M512.5 56.9L523 0.6A346.8 346.8 0 0 1 556.1 8.5L540.1 63.5A289.5 289.5 0 0 0 512.5 56.9ZM514.9 150L532.9 88.3A263.7 263.7 0 0 1 557.4 96.7L533.4 156.4A199.4 199.4 0 0 0 514.9 150ZM548.6 118.5L566.9 72.8A289.5 289.5 0 0 1 592.8 84.6L570 128.3A240.3 240.3 0 0 0 548.6 118.5ZM570 128.3L592.8 84.6A289.5 289.5 0 0 1 617.3 99L590.4 140.2A240.3 240.3 0 0 0 570 128.3ZM543.1 385.1L593 411.1A150.8 150.8 0 0 1 589.4 417.5L540.9 389.2A94.6 94.6 0 0 0 543.1 385.1ZM646.6 491.8L665 506.5A263.7 263.7 0 0 1 647.8 525.9L631 509.5A240.3 240.3 0 0 0 646.6 491.8ZM631 509.5L707.2 583.9A346.8 346.8 0 0 1 682.2 607.1L613.7 525.5A240.3 240.3 0 0 0 631 509.5ZM628.8 543.5L682.2 607.1A346.8 346.8 0 0 1 655.1 627.6L608.2 559.1A263.7 263.7 0 0 0 628.8 543.5ZM315.2 562.4L269.8 632A346.8 346.8 0 0 1 242.2 612.1L294.2 547.3A263.7 263.7 0 0 0 315.2 562.4ZM308.9 528.9L242.2 612.1A346.8 346.8 0 0 1 216.8 589.5L291.2 513.3A240.3 240.3 0 0 0 308.9 528.9ZM291.2 513.3L274.8 530.1A263.7 263.7 0 0 1 257.2 511.1L275.2 496A240.3 240.3 0 0 0 291.2 513.3ZM362.1 401.2L318.2 428.2A165.5 165.5 0 0 1 314.2 421.2L359.3 396.4A114 114 0 0 0 362.1 401.2ZM335.5 160.9L323.5 143.3A240.3 240.3 0 0 1 343.5 130.9L353.8 149.6A218.9 218.9 0 0 0 335.5 160.9ZM310.2 123.9L279.7 79.3A317.8 317.8 0 0 1 306.2 63L332.2 110.3A263.7 263.7 0 0 0 310.2 123.9ZM343.5 130.9L292.3 37.5A346.8 346.8 0 0 1 322.9 22.6L364.7 120.6A240.3 240.3 0 0 0 343.5 130.9ZM387.8 174.5L380.8 158.2A199.4 199.4 0 0 1 399.2 151.4L404.5 168.3A181.7 181.7 0 0 0 387.8 174.5ZM373.2 140.2L345.4 75.3A289.5 289.5 0 0 1 372 65.4L393.3 132.8A218.9 218.9 0 0 0 373.2 140.2ZM372 65.4L354.8 10.8A346.8 346.8 0 0 1 387.7 2.2L399.5 58.2A289.5 289.5 0 0 0 372 65.4Z"/>
<path fill="#ea632a" stroke="#ea632a" stroke-width="0.8" d="M479.2 257.7L481.1 249.5A94.6 94.6 0 0 1 485.6 250.7L483.3 258.8A86.2 86.2 0 0 0 479.2 257.7ZM483.3 258.8L485.6 250.7A94.6 94.6 0 0 1 490.1 252.1L487.3 260A86.2 86.2 0 0 0 483.3 258.8ZM538.9 260L546.7 252A125.1 125.1 0 0 1 550.9 256.4L542.8 264A114 114 0 0 0 538.9 260ZM542.8 264L550.9 256.4A125.1 125.1 0 0 1 555 261L546.5 268.2A114 114 0 0 0 542.8 264ZM509.1 299.6L514 295.5A71.5 71.5 0 0 1 516.2 298.2L511.1 302.1A65.2 65.2 0 0 0 509.1 299.6ZM519.3 291L525.2 286.1A86.2 86.2 0 0 1 527.8 289.4L521.7 294A78.5 78.5 0 0 0 519.3 291ZM511.1 302.1L516.2 298.2A71.5 71.5 0 0 1 518.2 301.1L513 304.7A65.2 65.2 0 0 0 511.1 302.1ZM521.7 294L527.8 289.4A86.2 86.2 0 0 1 530.3 292.8L524 297.1A78.5 78.5 0 0 0 521.7 294ZM525.3 461.9L528.5 467.6A143.9 143.9 0 0 1 522.2 470.9L519.3 465A137.3 137.3 0 0 0 525.3 461.9ZM519.3 465L525.2 477A150.8 150.8 0 0 1 518.5 480.1L513.2 467.8A137.3 137.3 0 0 0 519.3 465ZM515.8 473.8L518.5 480.1A150.8 150.8 0 0 1 511.6 482.9L509.2 476.4A143.9 143.9 0 0 0 515.8 473.8ZM412.3 477.5L410 484A150.8 150.8 0 0 1 403.1 481.4L405.6 475.1A143.9 143.9 0 0 0 412.3 477.5ZM408.1 469L403.1 481.4A150.8 150.8 0 0 1 396.3 478.5L401.9 466.3A137.3 137.3 0 0 0 408.1 469ZM401.9 466.3L396.3 478.5A150.8 150.8 0 0 1 389.6 475.3L395.8 463.3A137.3 137.3 0 0 0 401.9 466.3ZM404.6 305.9L399.3 302.4A71.5 71.5 0 0 1 401.3 299.6L406.4 303.3A65.2 65.2 0 0 0 404.6 305.9ZM393.4 298.6L387 294.4A86.2 86.2 0 0 1 389.4 291L395.6 295.5A78.5 78.5 0 0 0 393.4 298.6ZM406.4 303.3L401.3 299.6A71.5 71.5 0 0 1 403.4 296.8L408.4 300.7A65.2 65.2 0 0 0 406.4 303.3ZM395.6 295.5L389.4 291A86.2 86.2 0 0 1 392 287.6L398 292.4A78.5 78.5 0 0 0 395.6 295.5ZM370.3 270.2L361.6 263.2A125.1 125.1 0 0 1 365.6 258.5L373.9 265.9A114 114 0 0 0 370.3 270.2ZM373.9 265.9L365.6 258.5A125.1 125.1 0 0 1 369.7 254L377.7 261.8A114 114 0 0 0 373.9 265.9ZM429.3 260.7L426.3 252.8A94.6 94.6 0 0 1 430.7 251.3L433.3 259.3A86.2 86.2 0 0 0 429.3 260.7ZM433.3 259.3L430.7 251.3A94.6 94.6 0 0 1 435.2 250L437.3 258.2A86.2 86.2 0 0 0 433.3 259.3Z"/>
<path fill="#f1ef75" stroke="#f1ef75" stroke-width="0.8" d="M479.2 272.8L481.1 266.1A78.5 78.5 0 0 1 484.8 267.3L482.5 273.9A71.5 71.5 0 0 0 479.2 272.8ZM482.5 273.9L484.8 267.3A78.5 78.5 0 0 1 488.4 268.6L485.8 275.1A71.5 71.5 0 0 0 482.5 273.9ZM485.8 275.1L487.1 272A74.9 74.9 0 0 1 490.5 273.4L489 276.5A71.5 71.5 0 0 0 485.8 275.1ZM512 379.7L514.5 381.5A68.3 68.3 0 0 1 512.5 384.2L510 382.3A65.2 65.2 0 0 0 512 379.7ZM510 382.3L515 386.2A71.5 71.5 0 0 1 512.7 388.9L508 384.7A65.2 65.2 0 0 0 510 382.3ZM510.3 386.8L512.7 388.9A71.5 71.5 0 0 1 510.3 391.5L508 389.2A68.3 68.3 0 0 0 510.3 386.8ZM514.6 407.5L517.3 410.6A90.3 90.3 0 0 1 513.8 413.4L511.3 410.1A86.2 86.2 0 0 0 514.6 407.5ZM511.3 410.1L516.4 416.8A94.6 94.6 0 0 1 512.6 419.5L507.9 412.6A86.2 86.2 0 0 0 511.3 410.1ZM518.9 438.6L524.7 448.1A125.1 125.1 0 0 1 519.4 451.2L514.1 441.4A114 114 0 0 0 518.9 438.6ZM514.1 441.4L519.4 451.2A125.1 125.1 0 0 1 514 454L509.1 444A114 114 0 0 0 514.1 441.4ZM525.2 477L531.6 490.3A165.5 165.5 0 0 1 524.3 493.7L518.5 480.1A150.8 150.8 0 0 0 525.2 477ZM518.5 480.1L524.3 493.7A165.5 165.5 0 0 1 516.7 496.7L511.6 482.9A150.8 150.8 0 0 0 518.5 480.1ZM524.7 652.5L530.7 680.8A346.8 346.8 0 0 1 497.1 686.2L493.9 657.4A317.8 317.8 0 0 0 524.7 652.5ZM431.6 658.1L429.1 687A346.8 346.8 0 0 1 395.4 682.4L400.7 653.9A317.8 317.8 0 0 0 431.6 658.1ZM410 484L405.2 497.9A165.5 165.5 0 0 1 397.6 495.1L403.1 481.4A150.8 150.8 0 0 0 410 484ZM403.1 481.4L397.6 495.1A165.5 165.5 0 0 1 390.1 491.9L396.3 478.5A150.8 150.8 0 0 0 403.1 481.4ZM411.6 445.1L407 455.2A125.1 125.1 0 0 1 401.5 452.5L406.6 442.6A114 114 0 0 0 411.6 445.1ZM406.6 442.6L401.5 452.5A125.1 125.1 0 0 1 396.1 449.5L401.7 439.9A114 114 0 0 0 406.6 442.6ZM412.1 413.7L407.5 420.7A94.6 94.6 0 0 1 403.7 418.1L408.7 411.3A86.2 86.2 0 0 0 412.1 413.7ZM408.7 411.3L406.2 414.6A90.3 90.3 0 0 1 402.7 411.9L405.3 408.7A86.2 86.2 0 0 0 408.7 411.3ZM411.5 390.3L409.2 392.6A71.5 71.5 0 0 1 406.8 390.1L409.1 387.9A68.3 68.3 0 0 0 411.5 390.3ZM411.4 385.8L406.8 390.1A71.5 71.5 0 0 1 404.4 387.5L409.3 383.4A65.2 65.2 0 0 0 411.4 385.8ZM409.3 383.4L406.9 385.4A68.3 68.3 0 0 1 404.8 382.8L407.3 380.9A65.2 65.2 0 0 0 409.3 383.4ZM427.9 277.2L424.8 270.9A78.5 78.5 0 0 1 428.3 269.3L431.1 275.7A71.5 71.5 0 0 0 427.9 277.2ZM431.1 275.7L428.3 269.3A78.5 78.5 0 0 1 431.9 267.9L434.3 274.4A71.5 71.5 0 0 0 431.1 275.7ZM433.2 271.2L431.9 267.9A78.5 78.5 0 0 1 435.6 266.6L436.6 270.1A74.9 74.9 0 0 0 433.2 271.2Z"/>
<path fill="#07051b" stroke="#07051b" stroke-width="0.8" d="M494.2 221.4L505.4 182.6A165.5 165.5 0 0 1 513.2 185.1L500 223.2A125.1 125.1 0 0 0 494.2 221.4ZM505.4 182.6L514.9 150A199.4 199.4 0 0 1 533.4 156.4L520.8 187.9A165.5 165.5 0 0 0 505.4 182.6ZM532.9 88.3L556.1 8.5A346.8 346.8 0 0 1 588.3 19.6L557.4 96.7A263.7 263.7 0 0 0 532.9 88.3ZM500 223.2L513.2 185.1A165.5 165.5 0 0 1 520.8 187.9L505.8 225.4A125.1 125.1 0 0 0 500 223.2ZM496.1 249.5L501.6 235.7A114 114 0 0 1 506.8 237.9L500.6 251.4A99.1 99.1 0 0 0 496.1 249.5ZM526.8 172.9L548.6 118.5A240.3 240.3 0 0 1 570 128.3L543 180.3A181.7 181.7 0 0 0 526.8 172.9ZM500.6 251.4L506.8 237.9A114 114 0 0 1 511.8 240.4L504.9 253.6A99.1 99.1 0 0 0 500.6 251.4ZM564.4 253.2L574.6 244.5A150.8 150.8 0 0 1 579.3 250.3L568.6 258.4A137.3 137.3 0 0 0 564.4 253.2ZM356.4 250.4L346.4 241.5A150.8 150.8 0 0 1 351.4 236.1L361 245.5A137.3 137.3 0 0 0 356.4 250.4ZM323.5 143.3L310.2 123.9A263.7 263.7 0 0 1 332.2 110.3L343.5 130.9A240.3 240.3 0 0 0 323.5 143.3ZM409.2 250.5L401.7 236.8A119.4 119.4 0 0 1 406.9 234.1L413.7 248.1A103.8 103.8 0 0 0 409.2 250.5ZM363.2 166.7L343.5 130.9A240.3 240.3 0 0 1 364.7 120.6L380.8 158.2A199.4 199.4 0 0 0 363.2 166.7ZM415.8 252.4L406.9 234.1A119.4 119.4 0 0 1 412.3 231.7L420.2 250.4A99.1 99.1 0 0 0 415.8 252.4ZM410 226.5L394.1 189.3A165.5 165.5 0 0 1 401.7 186.3L415.7 224.2A125.1 125.1 0 0 0 410 226.5ZM394.1 189.3L387.8 174.5A181.7 181.7 0 0 1 404.5 168.3L409.4 183.7A165.5 165.5 0 0 0 394.1 189.3ZM380.8 158.2L373.2 140.2A218.9 218.9 0 0 1 393.3 132.8L399.2 151.4A199.4 199.4 0 0 0 380.8 158.2ZM345.4 75.3L322.9 22.6A346.8 346.8 0 0 1 354.8 10.8L372 65.4A289.5 289.5 0 0 0 345.4 75.3ZM415.7 224.2L401.7 186.3A165.5 165.5 0 0 1 409.4 183.7L421.5 222.2A125.1 125.1 0 0 0 415.7 224.2Z"/>
<path fill="#260c51" stroke="#260c51" stroke-width="0.8" d="M498.2 228.6L500 223.2A125.1 125.1 0 0 1 505.8 225.4L503.6 230.7A119.4 119.4 0 0 0 498.2 228.6ZM494.4 253.7L496.1 249.5A99.1 99.1 0 0 1 500.6 251.4L498.7 255.5A94.6 94.6 0 0 0 494.4 253.7ZM501.6 235.7L505.8 225.4A125.1 125.1 0 0 1 511.4 227.8L506.8 237.9A114 114 0 0 0 501.6 235.7ZM493.5 266.8L500.6 251.4A99.1 99.1 0 0 1 504.9 253.6L497.1 268.5A82.2 82.2 0 0 0 493.5 266.8ZM493.8 275L502.8 257.6A94.6 94.6 0 0 1 506.9 259.8L497 276.8A74.9 74.9 0 0 0 493.8 275ZM495.3 279.7L502.7 267.1A86.2 86.2 0 0 1 506.3 269.3L498.3 281.6A71.5 71.5 0 0 0 495.3 279.7ZM494.8 286.9L502.1 275.7A78.5 78.5 0 0 1 505.2 277.9L497.4 288.7A65.2 65.2 0 0 0 494.8 286.9ZM495.7 291.1L501.1 283.6A71.5 71.5 0 0 1 503.9 285.7L498.1 293A62.2 62.2 0 0 0 495.7 291.1ZM496.3 295.2L501.9 288.2A68.3 68.3 0 0 1 504.5 290.4L498.6 297.1A59.4 59.4 0 0 0 496.3 295.2ZM498.6 297.1L502.4 292.7A65.2 65.2 0 0 1 504.7 294.9L500.7 299.1A59.4 59.4 0 0 0 498.6 297.1ZM498.8 301L502.7 297A62.2 62.2 0 0 1 504.8 299.2L500.7 303A56.6 56.6 0 0 0 498.8 301ZM500.7 303L504.8 299.2A62.2 62.2 0 0 1 506.8 301.5L502.6 305.1A56.6 56.6 0 0 0 500.7 303ZM505.9 309.5L508.2 308A59.4 59.4 0 0 1 509.8 310.4L507.5 311.8A56.6 56.6 0 0 0 505.9 309.5ZM507.5 311.8L509.8 310.4A59.4 59.4 0 0 1 511.2 312.9L508.9 314.2A56.6 56.6 0 0 0 507.5 311.8ZM405.5 310.1L402.9 308.6A65.2 65.2 0 0 1 404.6 305.9L407.1 307.5A62.2 62.2 0 0 0 405.5 310.1ZM410.7 302.6L405.9 298.8A68.3 68.3 0 0 1 408.1 296.2L412.7 300.3A62.2 62.2 0 0 0 410.7 302.6ZM412.7 300.3L408.1 296.2A68.3 68.3 0 0 1 410.4 293.8L414.7 298A62.2 62.2 0 0 0 412.7 300.3ZM412.6 296L408.1 291.5A71.5 71.5 0 0 1 410.6 289.1L414.9 293.7A65.2 65.2 0 0 0 412.6 296ZM414.9 293.7L410.6 289.1A71.5 71.5 0 0 1 413.2 286.7L417.3 291.6A65.2 65.2 0 0 0 414.9 293.7ZM415.3 289.2L411 284.1A74.9 74.9 0 0 1 413.9 281.8L417.9 287.1A68.3 68.3 0 0 0 415.3 289.2ZM415.9 284.5L409.5 276A82.2 82.2 0 0 1 412.7 273.6L418.8 282.5A71.5 71.5 0 0 0 415.9 284.5ZM416.9 279.7L408.2 267A90.3 90.3 0 0 1 411.9 264.6L420 277.7A74.9 74.9 0 0 0 416.9 279.7ZM416.1 271.4L407.3 257.1A99.1 99.1 0 0 1 411.5 254.6L419.6 269.4A82.2 82.2 0 0 0 416.1 271.4ZM415.7 262.4L409.2 250.5A103.8 103.8 0 0 1 413.7 248.1L419.7 260.3A90.3 90.3 0 0 0 415.7 262.4ZM406.9 234.1L404.4 229A125.1 125.1 0 0 1 410 226.5L412.3 231.7A119.4 119.4 0 0 0 406.9 234.1ZM412.3 231.7L410 226.5A125.1 125.1 0 0 1 415.7 224.2L417.7 229.5A119.4 119.4 0 0 0 412.3 231.7Z"/>
<path fill="#340a5f" stroke="#340a5f" stroke-width="0.8" d="M508 219.8L515.3 201.6A150.8 150.8 0 0 1 522.1 204.5L513.9 222.4A131.1 131.1 0 0 0 508 219.8ZM193 168L168.7 152.1A346.8 346.8 0 0 1 188.6 124.5L211.3 142.7A317.8 317.8 0 0 0 193 168ZM287.4 173.5L270.6 157.1A263.7 263.7 0 0 1 289.6 139.5L304.7 157.5A240.3 240.3 0 0 0 287.4 173.5ZM404.4 229L399.1 218A137.3 137.3 0 0 1 405.2 215.2L410 226.5A125.1 125.1 0 0 0 404.4 229Z"/>
<path fill="#360961" stroke="#360961" stroke-width="0.8" d="M511.4 227.8L522.1 204.5A150.8 150.8 0 0 1 528.8 207.7L516.9 230.5A125.1 125.1 0 0 0 511.4 227.8ZM680.9 155.3L702.6 137.1A317.8 317.8 0 0 1 721.4 162L698.1 177.9A289.5 289.5 0 0 0 680.9 155.3ZM253.4 176.5L233.3 160.4A289.5 289.5 0 0 1 252.2 139.1L270.6 157.1A263.7 263.7 0 0 0 253.4 176.5ZM399.1 218L393.2 206A150.8 150.8 0 0 1 399.9 202.9L405.2 215.2A137.3 137.3 0 0 0 399.1 218Z"/>
<path fill="#390963" stroke="#390963" stroke-width="0.8" d="M516.9 230.5L519.7 225.2A131.1 131.1 0 0 1 525.3 228.3L522.3 233.5A125.1 125.1 0 0 0 516.9 230.5ZM568.1 174.5L578.7 158.1A218.9 218.9 0 0 1 596.1 170.7L583.9 185.9A199.4 199.4 0 0 0 568.1 174.5ZM596.1 170.7L609.5 154.1A240.3 240.3 0 0 1 627.2 169.7L612.2 185A218.9 218.9 0 0 0 596.1 170.7ZM721.4 162L745.3 145.6A346.8 346.8 0 0 1 754.6 159.8L729.9 175A317.8 317.8 0 0 0 721.4 162ZM197 521L173.1 537.4A346.8 346.8 0 0 1 163.8 523.2L188.5 508A317.8 317.8 0 0 0 197 521ZM216.7 183.4L193 168A317.8 317.8 0 0 1 211.3 142.7L233.3 160.4A289.5 289.5 0 0 0 216.7 183.4ZM399 231.8L386.6 209.4A150.8 150.8 0 0 1 393.2 206L404.4 229A125.1 125.1 0 0 0 399 231.8Z"/>
<path fill="#3b0964" stroke="#3b0964" stroke-width="0.8" d="M519.7 225.2L528.8 207.7A150.8 150.8 0 0 1 535.2 211.3L525.3 228.3A131.1 131.1 0 0 0 519.7 225.2ZM627.2 169.7L643.6 152.9A263.7 263.7 0 0 1 661.2 171.9L643.2 187A240.3 240.3 0 0 0 627.2 169.7ZM733.6 501.8L758.7 516.4A346.8 346.8 0 0 1 749.7 530.9L725.4 515A317.8 317.8 0 0 0 733.6 501.8ZM184.8 181.2L159.7 166.6A346.8 346.8 0 0 1 168.7 152.1L193 168A317.8 317.8 0 0 0 184.8 181.2ZM302.7 188.5L287.4 173.5A240.3 240.3 0 0 1 304.7 157.5L318.4 173.9A218.9 218.9 0 0 0 302.7 188.5ZM331 188.8L318.4 173.9A218.9 218.9 0 0 1 335.5 160.9L346.5 177A199.4 199.4 0 0 0 331 188.8ZM393.7 234.9L387.3 224.5A137.3 137.3 0 0 1 393.1 221.1L399 231.8A125.1 125.1 0 0 0 393.7 234.9ZM376.5 207L372.5 200.5A165.5 165.5 0 0 1 379.5 196.5L383.2 203.1A157.9 157.9 0 0 0 376.5 207Z"/>
<path fill="#8c2369" stroke="#8c2369" stroke-width="0.8" d="M516.7 243.1L522.3 233.5A125.1 125.1 0 0 1 527.5 236.7L521.4 246A114 114 0 0 0 516.7 243.1ZM510.9 262.3L527.5 236.7A125.1 125.1 0 0 1 532.6 240.2L514.7 264.9A94.6 94.6 0 0 0 510.9 262.3ZM509.7 271.7L532.6 240.2A125.1 125.1 0 0 1 537.5 243.9L513.1 274.3A86.2 86.2 0 0 0 509.7 271.7ZM508.3 280.3L533.9 248.3A119.4 119.4 0 0 1 538.4 252.1L511.3 282.7A78.5 78.5 0 0 0 508.3 280.3ZM506.6 288L524.9 267.3A99.1 99.1 0 0 1 528.5 270.6L509.2 290.4A71.5 71.5 0 0 0 506.6 288ZM506.9 292.7L519.4 279.9A86.2 86.2 0 0 1 522.4 282.9L509.3 295.1A68.3 68.3 0 0 0 506.9 292.7ZM509.3 295.1L519.5 285.6A82.2 82.2 0 0 1 522.2 288.6L511.5 297.6A68.3 68.3 0 0 0 509.3 295.1ZM513 304.7L521 299.2A74.9 74.9 0 0 1 523 302.3L514.7 307.4A65.2 65.2 0 0 0 513 304.7ZM514.7 307.4L520.1 304A71.5 71.5 0 0 1 521.9 307.1L516.3 310.1A65.2 65.2 0 0 0 514.7 307.4ZM583.9 330.9L596 329.8A137.3 137.3 0 0 1 596.3 333.2L584.1 333.9A125.1 125.1 0 0 0 583.9 330.9ZM609.4 328.7L640.2 326.1A181.7 181.7 0 0 1 640.5 330.5L609.7 332.4A150.8 150.8 0 0 0 609.4 328.7ZM562.8 335.2L573 334.6A114 114 0 0 1 573.1 337.4L563 337.8A103.8 103.8 0 0 0 562.8 335.2ZM658.2 329.5L677.7 328.3A218.9 218.9 0 0 1 677.9 333.6L658.5 334.3A199.4 199.4 0 0 0 658.2 329.5ZM545.3 338.4L553.7 338.1A94.6 94.6 0 0 1 553.8 340.4L545.4 340.5A86.2 86.2 0 0 0 545.3 338.4ZM722.9 338.5L748.7 338.2A289.5 289.5 0 0 1 748.7 345.3L722.9 345A263.7 263.7 0 0 0 722.9 338.5ZM545.4 342.6L553.8 342.7A94.6 94.6 0 0 1 553.7 345.1L545.3 344.8A86.2 86.2 0 0 0 545.4 342.6ZM563 345.4L573.1 345.8A114 114 0 0 1 573 348.6L562.8 348A103.8 103.8 0 0 0 563 345.4ZM658.5 349L677.9 349.8A218.9 218.9 0 0 1 677.7 355.1L658.2 353.9A199.4 199.4 0 0 0 658.5 349ZM584.1 349.3L640.5 352.8A181.7 181.7 0 0 1 640.2 357.3L583.8 352.3A125.1 125.1 0 0 0 584.1 349.3ZM334.5 352.1L322.4 353.2A137.3 137.3 0 0 1 322.1 349.8L334.3 349.1A125.1 125.1 0 0 0 334.5 352.1ZM309 354.3L278.2 356.9A181.7 181.7 0 0 1 277.9 352.5L308.7 350.6A150.8 150.8 0 0 0 309 354.3ZM355.6 347.8L345.4 348.4A114 114 0 0 1 345.3 345.6L355.4 345.2A103.8 103.8 0 0 0 355.6 347.8ZM260.2 353.5L240.7 354.7A218.9 218.9 0 0 1 240.5 349.4L259.9 348.7A199.4 199.4 0 0 0 260.2 353.5ZM373.1 344.6L364.7 344.9A94.6 94.6 0 0 1 364.6 342.6L373 342.5A86.2 86.2 0 0 0 373.1 344.6ZM195.5 344.5L169.7 344.8A289.5 289.5 0 0 1 169.7 337.7L195.5 338A263.7 263.7 0 0 0 195.5 344.5ZM373 340.4L364.6 340.3A94.6 94.6 0 0 1 364.7 337.9L373.1 338.2A86.2 86.2 0 0 0 373 340.4ZM355.4 337.6L345.3 337.2A114 114 0 0 1 345.4 334.4L355.6 335A103.8 103.8 0 0 0 355.4 337.6ZM259.9 334L240.5 333.2A218.9 218.9 0 0 1 240.7 327.9L260.2 329.1A199.4 199.4 0 0 0 259.9 334ZM334.3 333.7L277.9 330.2A181.7 181.7 0 0 1 278.2 325.7L334.6 330.7A125.1 125.1 0 0 0 334.3 333.7ZM397.4 305.4L391.4 301.9A78.5 78.5 0 0 1 393.4 298.6L399.3 302.4A71.5 71.5 0 0 0 397.4 305.4ZM403.4 296.8L392 287.6A86.2 86.2 0 0 1 394.7 284.4L405.7 294.1A71.5 71.5 0 0 0 403.4 296.8ZM403.1 291.8L394.7 284.4A86.2 86.2 0 0 1 397.6 281.3L405.6 289.1A74.9 74.9 0 0 0 403.1 291.8ZM403.1 286.6L385 268.9A103.8 103.8 0 0 1 388.6 265.4L405.8 283.9A78.5 78.5 0 0 0 403.1 286.6ZM403.3 281.2L378 253.9A119.4 119.4 0 0 1 382.4 250.1L406.3 278.5A82.2 82.2 0 0 0 403.3 281.2ZM401.1 272.4L378.7 245.7A125.1 125.1 0 0 1 383.5 241.9L404.6 269.6A90.3 90.3 0 0 0 401.1 272.4ZM399.3 262.6L383.5 241.9A125.1 125.1 0 0 1 388.5 238.3L403.2 259.7A99.1 99.1 0 0 0 399.3 262.6ZM394.8 247.5L388.5 238.3A125.1 125.1 0 0 1 393.7 234.9L399.5 244.4A114 114 0 0 0 394.8 247.5Z"/>
<path fill="#3d0965" stroke="#3d0965" stroke-width="0.8" d="M522.3 233.5L531.8 217.3A143.9 143.9 0 0 1 537.8 221L527.5 236.7A125.1 125.1 0 0 0 522.3 233.5ZM661.2 171.9L680.9 155.3A289.5 289.5 0 0 1 698.1 177.9L676.8 192.5A263.7 263.7 0 0 0 661.2 171.9ZM271.8 191.2L253.4 176.5A263.7 263.7 0 0 1 270.6 157.1L287.4 173.5A240.3 240.3 0 0 0 271.8 191.2ZM387.3 224.5L376.5 207A157.9 157.9 0 0 1 383.2 203.1L393.1 221.1A137.3 137.3 0 0 0 387.3 224.5Z"/>
<path fill="#3e0966" stroke="#3e0966" stroke-width="0.8" d="M531.8 217.3L535.2 211.3A150.8 150.8 0 0 1 541.5 215.2L537.8 221A143.9 143.9 0 0 0 531.8 217.3ZM527.5 236.7L530.8 231.7A131.1 131.1 0 0 1 536.1 235.3L532.6 240.2A125.1 125.1 0 0 0 527.5 236.7ZM558.4 189.3L568.1 174.5A199.4 199.4 0 0 1 583.9 185.9L572.8 199.8A181.7 181.7 0 0 0 558.4 189.3ZM583.9 185.9L596.1 170.7A218.9 218.9 0 0 1 612.2 185L598.6 198.9A199.4 199.4 0 0 0 583.9 185.9ZM698.1 177.9L721.4 162A317.8 317.8 0 0 1 729.9 175L705.8 189.9A289.5 289.5 0 0 0 698.1 177.9ZM729.9 175L754.6 159.8A346.8 346.8 0 0 1 763.2 174.6L737.7 188.5A317.8 317.8 0 0 0 729.9 175ZM220.3 505.1L197 521A317.8 317.8 0 0 1 188.5 508L212.6 493.1A289.5 289.5 0 0 0 220.3 505.1ZM188.5 508L163.8 523.2A346.8 346.8 0 0 1 155.2 508.4L180.7 494.5A317.8 317.8 0 0 0 188.5 508ZM238.3 197.5L216.7 183.4A289.5 289.5 0 0 1 233.3 160.4L253.4 176.5A263.7 263.7 0 0 0 238.3 197.5ZM388.5 238.3L365.7 205A165.5 165.5 0 0 1 372.5 200.5L393.7 234.9A125.1 125.1 0 0 0 388.5 238.3Z"/>
<path fill="#440a68" stroke="#440a68" stroke-width="0.8" d="M532.6 240.2L539.8 230.3A137.3 137.3 0 0 1 545.1 234.4L537.5 243.9A125.1 125.1 0 0 0 532.6 240.2ZM551.8 213.6L556.3 207.5A165.5 165.5 0 0 1 562.7 212.4L558 218.3A157.9 157.9 0 0 0 551.8 213.6ZM643.2 187L661.2 171.9A263.7 263.7 0 0 1 676.8 192.5L657.4 205.8A240.3 240.3 0 0 0 643.2 187ZM676.8 192.5L698.1 177.9A289.5 289.5 0 0 1 705.8 189.9L683.9 203.4A263.7 263.7 0 0 0 676.8 192.5ZM705.8 189.9L729.9 175A317.8 317.8 0 0 1 737.7 188.5L713 202.1A289.5 289.5 0 0 0 705.8 189.9ZM737.7 188.5L763.2 174.6A346.8 346.8 0 0 1 771 189.7L744.9 202.4A317.8 317.8 0 0 0 737.7 188.5ZM241.6 490.5L220.3 505.1A289.5 289.5 0 0 1 212.6 493.1L234.5 479.6A263.7 263.7 0 0 0 241.6 490.5ZM212.6 493.1L188.5 508A317.8 317.8 0 0 1 180.7 494.5L205.4 480.9A289.5 289.5 0 0 0 212.6 493.1ZM180.7 494.5L155.2 508.4A346.8 346.8 0 0 1 147.4 493.3L173.5 480.6A317.8 317.8 0 0 0 180.7 494.5ZM288.4 204.6L271.8 191.2A240.3 240.3 0 0 1 287.4 173.5L302.7 188.5A218.9 218.9 0 0 0 288.4 204.6ZM352.8 214.8L342.4 202.4A181.7 181.7 0 0 1 356.6 191.6L365.7 205A165.5 165.5 0 0 0 352.8 214.8ZM379.9 237.1L359.1 209.7A165.5 165.5 0 0 1 365.7 205L385.1 233.3A131.1 131.1 0 0 0 379.9 237.1Z"/>
<path fill="#450a69" stroke="#450a69" stroke-width="0.8" d="M539.8 230.3L551.8 213.6A157.9 157.9 0 0 1 558 218.3L545.1 234.4A137.3 137.3 0 0 0 539.8 230.3ZM572.8 199.8L583.9 185.9A199.4 199.4 0 0 1 598.6 198.9L586.2 211.6A181.7 181.7 0 0 0 572.8 199.8ZM716.1 475.1L741.1 488.1A317.8 317.8 0 0 1 733.6 501.8L709.2 487.5A289.5 289.5 0 0 0 716.1 475.1ZM686.9 474.5L709.2 487.5A289.5 289.5 0 0 1 701.7 499.6L680.1 485.5A263.7 263.7 0 0 0 686.9 474.5ZM202.3 207.9L177.3 194.9A317.8 317.8 0 0 1 184.8 181.2L209.2 195.5A289.5 289.5 0 0 0 202.3 207.9ZM231.5 208.5L209.2 195.5A289.5 289.5 0 0 1 216.7 183.4L238.3 197.5A263.7 263.7 0 0 0 231.5 208.5ZM257.9 210.3L238.3 197.5A263.7 263.7 0 0 1 253.4 176.5L271.8 191.2A240.3 240.3 0 0 0 257.9 210.3ZM378.7 245.7L352.8 214.8A165.5 165.5 0 0 1 359.1 209.7L383.5 241.9A125.1 125.1 0 0 0 378.7 245.7Z"/>
<path fill="#490b6a" stroke="#490b6a" stroke-width="0.8" d="M537.5 243.9L562.7 212.4A165.5 165.5 0 0 1 568.9 217.6L542.2 247.9A125.1 125.1 0 0 0 537.5 243.9ZM562.7 212.4L572.8 199.8A181.7 181.7 0 0 1 586.2 211.6L574.9 223.2A165.5 165.5 0 0 0 562.7 212.4ZM598.6 198.9L612.2 185A218.9 218.9 0 0 1 626.8 200.7L611.9 213.3A199.4 199.4 0 0 0 598.6 198.9ZM626.8 200.7L643.2 187A240.3 240.3 0 0 1 657.4 205.8L639.8 217.8A218.9 218.9 0 0 0 626.8 200.7ZM683.9 203.4L705.8 189.9A289.5 289.5 0 0 1 713 202.1L690.4 214.5A263.7 263.7 0 0 0 683.9 203.4ZM713 202.1L737.7 188.5A317.8 317.8 0 0 1 744.9 202.4L719.5 214.8A289.5 289.5 0 0 0 713 202.1ZM748 474.1L774.4 486.2A346.8 346.8 0 0 1 766.9 501.5L741.1 488.1A317.8 317.8 0 0 0 748 474.1ZM291.6 482.3L275.2 496A240.3 240.3 0 0 1 261 477.2L278.6 465.2A218.9 218.9 0 0 0 291.6 482.3ZM234.5 479.6L212.6 493.1A289.5 289.5 0 0 1 205.4 480.9L228 468.5A263.7 263.7 0 0 0 234.5 479.6ZM205.4 480.9L180.7 494.5A317.8 317.8 0 0 1 173.5 480.6L198.9 468.2A289.5 289.5 0 0 0 205.4 480.9ZM170.4 208.9L144 196.8A346.8 346.8 0 0 1 151.5 181.5L177.3 194.9A317.8 317.8 0 0 0 170.4 208.9ZM411.2 316.6L406.5 314.1A59.4 59.4 0 0 1 407.9 311.6L412.5 314.2A54.1 54.1 0 0 0 411.2 316.6ZM303.6 216.8L288.4 204.6A218.9 218.9 0 0 1 302.7 188.5L316.6 202.1A199.4 199.4 0 0 0 303.6 216.8ZM329.3 214.5L316.6 202.1A199.4 199.4 0 0 1 331 188.8L342.4 202.4A181.7 181.7 0 0 0 329.3 214.5ZM374.1 249.8L370.1 245.4A131.1 131.1 0 0 1 374.9 241.1L378.7 245.7A125.1 125.1 0 0 0 374.1 249.8Z"/>
<path fill="#4a0c6b" stroke="#4a0c6b" stroke-width="0.8" d="M542.2 247.9L550.3 238.7A137.3 137.3 0 0 1 555.2 243.3L546.7 252A125.1 125.1 0 0 0 542.2 247.9ZM563.9 223.3L568.9 217.6A165.5 165.5 0 0 1 574.9 223.2L569.6 228.6A157.9 157.9 0 0 0 563.9 223.3ZM657.4 205.8L676.8 192.5A263.7 263.7 0 0 1 683.9 203.4L663.9 215.7A240.3 240.3 0 0 0 657.4 205.8ZM506.6 315.5L511.2 312.9A59.4 59.4 0 0 1 512.6 315.5L507.8 317.8A54.1 54.1 0 0 0 506.6 315.5ZM744.9 202.4L771 189.7A346.8 346.8 0 0 1 778.1 205.2L751.4 216.6A317.8 317.8 0 0 0 744.9 202.4ZM693.2 463.2L716.1 475.1A289.5 289.5 0 0 1 709.2 487.5L686.9 474.5A263.7 263.7 0 0 0 693.2 463.2ZM642.6 461L660.5 472.7A240.3 240.3 0 0 1 646.6 491.8L630 478.4A218.9 218.9 0 0 0 642.6 461ZM551.5 408.4L560.5 414.9A125.1 125.1 0 0 1 556.8 419.8L548.1 412.8A114 114 0 0 0 551.5 408.4ZM552.4 416.2L566.3 427.4A137.3 137.3 0 0 1 562 432.6L548.6 420.7A119.4 119.4 0 0 0 552.4 416.2ZM557.3 428.4L572 441.5A150.8 150.8 0 0 1 567 446.9L552.9 433.1A131.1 131.1 0 0 0 557.3 428.4ZM562.1 442.1L577.5 457.2A165.5 165.5 0 0 1 571.7 462.8L557 447A143.9 143.9 0 0 0 562.1 442.1ZM566.6 457.3L571.7 462.8A165.5 165.5 0 0 1 565.6 468.2L560.8 462.4A157.9 157.9 0 0 0 566.6 457.3ZM363.8 449.2L349.5 465.4A165.5 165.5 0 0 1 343.5 459.8L358.6 444.4A143.9 143.9 0 0 0 363.8 449.2ZM367.6 435.2L348.8 454.4A157.9 157.9 0 0 1 343.4 448.9L363.1 430.6A131.1 131.1 0 0 0 367.6 435.2ZM371.6 422.7L353.7 439.3A143.9 143.9 0 0 1 349 434L367.8 418.3A119.4 119.4 0 0 0 371.6 422.7ZM371.9 414.8L363.4 422A125.1 125.1 0 0 1 359.6 417.2L368.4 410.4A114 114 0 0 0 371.9 414.8ZM261 477.2L241.6 490.5A263.7 263.7 0 0 1 234.5 479.6L254.5 467.3A240.3 240.3 0 0 0 261 477.2ZM173.5 480.6L147.4 493.3A346.8 346.8 0 0 1 140.3 477.8L167 466.4A317.8 317.8 0 0 0 173.5 480.6ZM406.5 314.1L401.4 311.4A65.2 65.2 0 0 1 402.9 308.6L407.9 311.6A59.4 59.4 0 0 0 406.5 314.1ZM225.2 219.8L202.3 207.9A289.5 289.5 0 0 1 209.2 195.5L231.5 208.5A263.7 263.7 0 0 0 225.2 219.8ZM275.8 222L257.9 210.3A240.3 240.3 0 0 1 271.8 191.2L288.4 204.6A218.9 218.9 0 0 0 275.8 222ZM340.9 225.8L329.3 214.5A181.7 181.7 0 0 1 342.4 202.4L352.8 214.8A165.5 165.5 0 0 0 340.9 225.8ZM370.1 245.4L346.7 220.2A165.5 165.5 0 0 1 352.8 214.8L374.9 241.1A131.1 131.1 0 0 0 370.1 245.4Z"/>
<path fill="#4c0c6b" stroke="#4c0c6b" stroke-width="0.8" d="M550.3 238.7L563.9 223.3A157.9 157.9 0 0 1 569.6 228.6L555.2 243.3A137.3 137.3 0 0 0 550.3 238.7ZM586.2 211.6L598.6 198.9A199.4 199.4 0 0 1 611.9 213.3L598.3 224.7A181.7 181.7 0 0 0 586.2 211.6ZM524 297.1L527.1 295A82.2 82.2 0 0 1 529.3 298.4L526.1 300.4A78.5 78.5 0 0 0 524 297.1ZM511.2 312.9L516.3 310.1A65.2 65.2 0 0 1 517.8 313L512.6 315.5A59.4 59.4 0 0 0 511.2 312.9ZM754.2 459.8L781.1 470.6A346.8 346.8 0 0 1 774.4 486.2L748 474.1A317.8 317.8 0 0 0 754.2 459.8ZM722.3 462.3L748 474.1A317.8 317.8 0 0 1 741.1 488.1L716.1 475.1A289.5 289.5 0 0 0 722.3 462.3ZM666.7 462.7L686.9 474.5A263.7 263.7 0 0 1 680.1 485.5L660.5 472.7A240.3 240.3 0 0 0 666.7 462.7ZM164.2 223.2L137.3 212.4A346.8 346.8 0 0 1 144 196.8L170.4 208.9A317.8 317.8 0 0 0 164.2 223.2ZM410.1 318.9L405.3 316.7A59.4 59.4 0 0 1 406.5 314.1L411.2 316.6A54.1 54.1 0 0 0 410.1 318.9ZM196.1 220.7L170.4 208.9A317.8 317.8 0 0 1 177.3 194.9L202.3 207.9A289.5 289.5 0 0 0 196.1 220.7ZM401.4 311.4L398.6 310A68.3 68.3 0 0 1 400.3 307.1L402.9 308.6A65.2 65.2 0 0 0 401.4 311.4ZM251.7 220.3L231.5 208.5A263.7 263.7 0 0 1 238.3 197.5L257.9 210.3A240.3 240.3 0 0 0 251.7 220.3ZM369.7 254L340.9 225.8A165.5 165.5 0 0 1 346.7 220.2L374.1 249.8A125.1 125.1 0 0 0 369.7 254Z"/>
<path fill="#4d0d6c" stroke="#4d0d6c" stroke-width="0.8" d="M555.2 243.3L574.9 223.2A165.5 165.5 0 0 1 580.5 229L559.9 248.1A137.3 137.3 0 0 0 555.2 243.3ZM574.9 223.2L586.2 211.6A181.7 181.7 0 0 1 598.3 224.7L585.9 235.1A165.5 165.5 0 0 0 574.9 223.2ZM611.9 213.3L626.8 200.7A218.9 218.9 0 0 1 639.8 217.8L623.7 228.8A199.4 199.4 0 0 0 611.9 213.3ZM527.1 295L530.3 292.8A86.2 86.2 0 0 1 532.6 296.4L529.3 298.4A82.2 82.2 0 0 0 527.1 295ZM639.8 217.8L657.4 205.8A240.3 240.3 0 0 1 663.9 215.7L645.6 226.9A218.9 218.9 0 0 0 639.8 217.8ZM663.9 215.7L683.9 203.4A263.7 263.7 0 0 1 690.4 214.5L669.8 225.8A240.3 240.3 0 0 0 663.9 215.7ZM516.3 310.1L521.9 307.1A71.5 71.5 0 0 1 523.5 310.2L517.8 313A65.2 65.2 0 0 0 516.3 310.1ZM690.4 214.5L713 202.1A289.5 289.5 0 0 1 719.5 214.8L696.3 226A263.7 263.7 0 0 0 690.4 214.5ZM507.8 317.8L512.6 315.5A59.4 59.4 0 0 1 513.8 318.2L508.9 320.2A54.1 54.1 0 0 0 507.8 317.8ZM719.5 214.8L744.9 202.4A317.8 317.8 0 0 1 751.4 216.6L725.4 227.7A289.5 289.5 0 0 0 719.5 214.8ZM306.5 469.7L291.6 482.3A218.9 218.9 0 0 1 278.6 465.2L294.7 454.2A199.4 199.4 0 0 0 306.5 469.7ZM278.6 465.2L261 477.2A240.3 240.3 0 0 1 254.5 467.3L272.8 456.1A218.9 218.9 0 0 0 278.6 465.2ZM254.5 467.3L234.5 479.6A263.7 263.7 0 0 1 228 468.5L248.6 457.2A240.3 240.3 0 0 0 254.5 467.3ZM228 468.5L205.4 480.9A289.5 289.5 0 0 1 198.9 468.2L222.1 457A263.7 263.7 0 0 0 228 468.5ZM410.6 365.2L405.8 367.5A59.4 59.4 0 0 1 404.6 364.8L409.5 362.8A54.1 54.1 0 0 0 410.6 365.2ZM198.9 468.2L173.5 480.6A317.8 317.8 0 0 1 167 466.4L193 455.3A289.5 289.5 0 0 0 198.9 468.2ZM405.3 316.7L400 314.3A65.2 65.2 0 0 1 401.4 311.4L406.5 314.1A59.4 59.4 0 0 0 405.3 316.7ZM398.6 310L392.7 306.9A74.9 74.9 0 0 1 394.5 303.7L400.3 307.1A68.3 68.3 0 0 0 398.6 310ZM317.5 227.9L303.6 216.8A199.4 199.4 0 0 1 316.6 202.1L329.3 214.5A181.7 181.7 0 0 0 317.5 227.9Z"/>
<path fill="#520e6d" stroke="#520e6d" stroke-width="0.8" d="M559.9 248.1L580.5 229A165.5 165.5 0 0 1 585.9 235.1L564.4 253.2A137.3 137.3 0 0 0 559.9 248.1ZM546.5 268.2L555 261A125.1 125.1 0 0 1 558.8 265.8L550 272.6A114 114 0 0 0 546.5 268.2ZM598.3 224.7L611.9 213.3A199.4 199.4 0 0 1 623.7 228.8L609.1 238.9A181.7 181.7 0 0 0 598.3 224.7ZM541.9 278.7L545.8 275.7A108.8 108.8 0 0 1 549 280L544.9 282.8A103.8 103.8 0 0 0 541.9 278.7ZM533.7 290.5L541 285.5A99.1 99.1 0 0 1 543.6 289.6L536.1 294.2A90.3 90.3 0 0 0 533.7 290.5ZM529.3 298.4L536.1 294.2A90.3 90.3 0 0 1 538.3 298L531.3 301.9A82.2 82.2 0 0 0 529.3 298.4ZM645.6 226.9L663.9 215.7A240.3 240.3 0 0 1 669.8 225.8L651.1 236.1A218.9 218.9 0 0 0 645.6 226.9ZM669.8 225.8L690.4 214.5A263.7 263.7 0 0 1 696.3 226L675.2 236.3A240.3 240.3 0 0 0 669.8 225.8ZM517.8 313L523.5 310.2A71.5 71.5 0 0 1 525 313.4L519.1 315.9A65.2 65.2 0 0 0 517.8 313ZM696.3 226L719.5 214.8A289.5 289.5 0 0 1 725.4 227.7L701.7 237.8A263.7 263.7 0 0 0 696.3 226ZM508.9 320.2L513.8 318.2A59.4 59.4 0 0 1 514.9 320.9L509.9 322.7A54.1 54.1 0 0 0 508.9 320.2ZM759.6 445.2L787 454.6A346.8 346.8 0 0 1 781.1 470.6L754.2 459.8A317.8 317.8 0 0 0 759.6 445.2ZM514.3 363.6L519.7 365.7A65.2 65.2 0 0 1 518.4 368.7L513.1 366.3A59.4 59.4 0 0 0 514.3 363.6ZM320.1 458.3L306.5 469.7A199.4 199.4 0 0 1 294.7 454.2L309.3 444.1A181.7 181.7 0 0 0 320.1 458.3ZM272.8 456.1L254.5 467.3A240.3 240.3 0 0 1 248.6 457.2L267.3 446.9A218.9 218.9 0 0 0 272.8 456.1ZM248.6 457.2L228 468.5A263.7 263.7 0 0 1 222.1 457L243.2 446.7A240.3 240.3 0 0 0 248.6 457.2ZM400.6 370L394.9 372.8A71.5 71.5 0 0 1 393.4 369.6L399.3 367.1A65.2 65.2 0 0 0 400.6 370ZM222.1 457L198.9 468.2A289.5 289.5 0 0 1 193 455.3L216.7 445.2A263.7 263.7 0 0 0 222.1 457ZM409.5 362.8L404.6 364.8A59.4 59.4 0 0 1 403.5 362.1L408.5 360.3A54.1 54.1 0 0 0 409.5 362.8ZM158.8 237.8L131.4 228.4A346.8 346.8 0 0 1 137.3 212.4L164.2 223.2A317.8 317.8 0 0 0 158.8 237.8ZM404.1 319.4L398.7 317.3A65.2 65.2 0 0 1 400 314.3L405.3 316.7A59.4 59.4 0 0 0 404.1 319.4ZM394.2 311.7L387.9 308.7A78.5 78.5 0 0 1 389.6 305.3L395.8 308.5A71.5 71.5 0 0 0 394.2 311.7ZM389.6 305.3L382.7 301.7A86.2 86.2 0 0 1 384.8 298L391.4 301.9A78.5 78.5 0 0 0 389.6 305.3ZM381.2 296L377.5 293.8A94.6 94.6 0 0 1 380 289.8L383.6 292.2A90.3 90.3 0 0 0 381.2 296ZM371.1 277.7L366.9 274.6A114 114 0 0 1 370.3 270.2L374.3 273.4A108.8 108.8 0 0 0 371.1 277.7ZM352.1 255.6L330.1 238A165.5 165.5 0 0 1 335.3 231.8L356.4 250.4A137.3 137.3 0 0 0 352.1 255.6Z"/>
<path fill="#510e6c" stroke="#510e6c" stroke-width="0.8" d="M538.7 274.7L546.5 268.2A114 114 0 0 1 550 272.6L541.9 278.7A103.8 103.8 0 0 0 538.7 274.7ZM530.3 292.8L533.7 290.5A90.3 90.3 0 0 1 536.1 294.2L532.6 296.4A86.2 86.2 0 0 0 530.3 292.8ZM526.1 300.4L529.3 298.4A82.2 82.2 0 0 1 531.3 301.9L528 303.7A78.5 78.5 0 0 0 526.1 300.4ZM521.9 307.1L528 303.7A78.5 78.5 0 0 1 529.8 307.1L523.5 310.2A71.5 71.5 0 0 0 521.9 307.1ZM512.6 315.5L517.8 313A65.2 65.2 0 0 1 519.1 315.9L513.8 318.2A59.4 59.4 0 0 0 512.6 315.5ZM751.4 216.6L778.1 205.2A346.8 346.8 0 0 1 784.4 221L757.2 231.1A317.8 317.8 0 0 0 751.4 216.6ZM509.4 361.6L514.3 363.6A59.4 59.4 0 0 1 513.1 366.3L508.3 364.1A54.1 54.1 0 0 0 509.4 361.6ZM727.9 449.2L754.2 459.8A317.8 317.8 0 0 1 748 474.1L722.3 462.3A289.5 289.5 0 0 0 727.9 449.2ZM698.9 451.6L722.3 462.3A289.5 289.5 0 0 1 716.1 475.1L693.2 463.2A263.7 263.7 0 0 0 698.9 451.6ZM672.4 452.3L693.2 463.2A263.7 263.7 0 0 1 686.9 474.5L666.7 462.7A240.3 240.3 0 0 0 672.4 452.3ZM648.2 451.9L666.7 462.7A240.3 240.3 0 0 1 660.5 472.7L642.6 461A218.9 218.9 0 0 0 648.2 451.9ZM626.2 450.4L642.6 461A218.9 218.9 0 0 1 630 478.4L614.8 466.2A199.4 199.4 0 0 0 626.2 450.4ZM405.8 367.5L400.6 370A65.2 65.2 0 0 1 399.3 367.1L404.6 364.8A59.4 59.4 0 0 0 405.8 367.5ZM167 466.4L140.3 477.8A346.8 346.8 0 0 1 134 462L161.2 451.9A317.8 317.8 0 0 0 167 466.4ZM409 321.4L404.1 319.4A59.4 59.4 0 0 1 405.3 316.7L410.1 318.9A54.1 54.1 0 0 0 409 321.4ZM190.5 233.8L164.2 223.2A317.8 317.8 0 0 1 170.4 208.9L196.1 220.7A289.5 289.5 0 0 0 190.5 233.8ZM400 314.3L394.2 311.7A71.5 71.5 0 0 1 395.8 308.5L401.4 311.4A65.2 65.2 0 0 0 400 314.3ZM219.5 231.4L196.1 220.7A289.5 289.5 0 0 1 202.3 207.9L225.2 219.8A263.7 263.7 0 0 0 219.5 231.4ZM392.7 306.9L389.6 305.3A78.5 78.5 0 0 1 391.4 301.9L394.5 303.7A74.9 74.9 0 0 0 392.7 306.9ZM246 230.7L225.2 219.8A263.7 263.7 0 0 1 231.5 208.5L251.7 220.3A240.3 240.3 0 0 0 246 230.7ZM384.8 298L381.2 296A90.3 90.3 0 0 1 383.6 292.2L387 294.4A86.2 86.2 0 0 0 384.8 298ZM270.2 231.1L251.7 220.3A240.3 240.3 0 0 1 257.9 210.3L275.8 222A218.9 218.9 0 0 0 270.2 231.1ZM292.2 232.6L275.8 222A218.9 218.9 0 0 1 288.4 204.6L303.6 216.8A199.4 199.4 0 0 0 292.2 232.6ZM375.1 280.6L371.1 277.7A108.8 108.8 0 0 1 374.3 273.4L378.2 276.5A103.8 103.8 0 0 0 375.1 280.6ZM330.1 238L317.5 227.9A181.7 181.7 0 0 1 329.3 214.5L340.9 225.8A165.5 165.5 0 0 0 330.1 238ZM346.4 241.5L335.3 231.8A165.5 165.5 0 0 1 340.9 225.8L351.4 236.1A150.8 150.8 0 0 0 346.4 241.5Z"/>
<path fill="#540f6d" stroke="#540f6d" stroke-width="0.8" d="M555 261L564.4 253.2A137.3 137.3 0 0 1 568.6 258.4L558.8 265.8A125.1 125.1 0 0 0 555 261ZM574.6 244.5L585.9 235.1A165.5 165.5 0 0 1 591 241.4L579.3 250.3A150.8 150.8 0 0 0 574.6 244.5ZM585.9 235.1L598.3 224.7A181.7 181.7 0 0 1 609.1 238.9L595.7 248A165.5 165.5 0 0 0 585.9 235.1ZM545.8 275.7L554.3 269.3A119.4 119.4 0 0 1 557.7 274L549 280A108.8 108.8 0 0 0 545.8 275.7ZM541 285.5L544.9 282.8A103.8 103.8 0 0 1 547.6 287.1L543.6 289.6A99.1 99.1 0 0 0 541 285.5ZM623.7 228.8L639.8 217.8A218.9 218.9 0 0 1 645.6 226.9L629.1 237.1A199.4 199.4 0 0 0 623.7 228.8ZM536.1 294.2L539.8 292A94.6 94.6 0 0 1 542.1 296L538.3 298A90.3 90.3 0 0 0 536.1 294.2ZM528 303.7L534.7 300A86.2 86.2 0 0 1 536.7 303.8L529.8 307.1A78.5 78.5 0 0 0 528 303.7ZM523.5 310.2L529.8 307.1A78.5 78.5 0 0 1 531.4 310.6L525 313.4A71.5 71.5 0 0 0 523.5 310.2ZM513.8 318.2L519.1 315.9A65.2 65.2 0 0 1 520.3 318.9L514.9 320.9A59.4 59.4 0 0 0 513.8 318.2ZM725.4 227.7L751.4 216.6A317.8 317.8 0 0 1 757.2 231.1L730.7 240.9A289.5 289.5 0 0 0 725.4 227.7ZM510.3 359.1L515.3 360.9A59.4 59.4 0 0 1 514.3 363.6L509.4 361.6A54.1 54.1 0 0 0 510.3 359.1ZM519.7 365.7L525.6 368.1A71.5 71.5 0 0 1 524.2 371.3L518.4 368.7A65.2 65.2 0 0 0 519.7 365.7ZM704 439.7L727.9 449.2A289.5 289.5 0 0 1 722.3 462.3L698.9 451.6A263.7 263.7 0 0 0 704 439.7ZM677.5 441.8L698.9 451.6A263.7 263.7 0 0 1 693.2 463.2L672.4 452.3A240.3 240.3 0 0 0 677.5 441.8ZM653.4 442.5L672.4 452.3A240.3 240.3 0 0 1 666.7 462.7L648.2 451.9A218.9 218.9 0 0 0 653.4 442.5ZM611.4 440.7L626.2 450.4A199.4 199.4 0 0 1 614.8 466.2L600.9 455.1A181.7 181.7 0 0 0 611.4 440.7ZM343.8 438.5L332.5 447.9A165.5 165.5 0 0 1 327.4 441.6L339.1 432.7A150.8 150.8 0 0 0 343.8 438.5ZM332.5 447.9L320.1 458.3A181.7 181.7 0 0 1 309.3 444.1L322.7 435A165.5 165.5 0 0 0 332.5 447.9ZM294.7 454.2L278.6 465.2A218.9 218.9 0 0 1 272.8 456.1L289.3 445.9A199.4 199.4 0 0 0 294.7 454.2ZM394.9 372.8L388.6 375.9A78.5 78.5 0 0 1 387 372.4L393.4 369.6A71.5 71.5 0 0 0 394.9 372.8ZM404.6 364.8L399.3 367.1A65.2 65.2 0 0 1 398.1 364.1L403.5 362.1A59.4 59.4 0 0 0 404.6 364.8ZM193 455.3L167 466.4A317.8 317.8 0 0 1 161.2 451.9L187.7 442.1A289.5 289.5 0 0 0 193 455.3ZM408.1 323.9L403.1 322.1A59.4 59.4 0 0 1 404.1 319.4L409 321.4A54.1 54.1 0 0 0 408.1 323.9ZM398.7 317.3L392.8 314.9A71.5 71.5 0 0 1 394.2 311.7L400 314.3A65.2 65.2 0 0 0 398.7 317.3ZM214.4 243.3L190.5 233.8A289.5 289.5 0 0 1 196.1 220.7L219.5 231.4A263.7 263.7 0 0 0 214.4 243.3ZM240.9 241.2L219.5 231.4A263.7 263.7 0 0 1 225.2 219.8L246 230.7A240.3 240.3 0 0 0 240.9 241.2ZM382.7 301.7L379.1 299.8A90.3 90.3 0 0 1 381.2 296L384.8 298A86.2 86.2 0 0 0 382.7 301.7ZM265 240.5L246 230.7A240.3 240.3 0 0 1 251.7 220.3L270.2 231.1A218.9 218.9 0 0 0 265 240.5ZM377.5 293.8L373.6 291.5A99.1 99.1 0 0 1 376.2 287.4L380 289.8A94.6 94.6 0 0 0 377.5 293.8ZM372.2 284.8L368.1 282.1A108.8 108.8 0 0 1 371.1 277.7L375.1 280.6A103.8 103.8 0 0 0 372.2 284.8ZM307 242.3L292.2 232.6A199.4 199.4 0 0 1 303.6 216.8L317.5 227.9A181.7 181.7 0 0 0 307 242.3ZM366.9 274.6L353 264.6A131.1 131.1 0 0 1 356.9 259.5L370.3 270.2A114 114 0 0 0 366.9 274.6Z"/>
<path fill="#59106e" stroke="#59106e" stroke-width="0.8" d="M563.6 262.2L591 241.4A165.5 165.5 0 0 1 595.7 248L567.4 267.4A131.1 131.1 0 0 0 563.6 262.2ZM553.2 277.1L557.7 274A119.4 119.4 0 0 1 560.9 279L556.3 281.8A114 114 0 0 0 553.2 277.1ZM609.1 238.9L623.7 228.8A199.4 199.4 0 0 1 629.1 237.1L613.9 246.4A181.7 181.7 0 0 0 609.1 238.9ZM543.6 289.6L551.9 284.5A108.8 108.8 0 0 1 554.6 289.1L546.1 293.8A99.1 99.1 0 0 0 543.6 289.6ZM529.8 307.1L536.7 303.8A86.2 86.2 0 0 1 538.4 307.6L531.4 310.6A78.5 78.5 0 0 0 529.8 307.1ZM525 313.4L531.4 310.6A78.5 78.5 0 0 1 532.8 314.2L526.3 316.6A71.5 71.5 0 0 0 525 313.4ZM701.7 237.8L725.4 227.7A289.5 289.5 0 0 1 730.7 240.9L706.5 249.8A263.7 263.7 0 0 0 701.7 237.8ZM514.9 320.9L520.3 318.9A65.2 65.2 0 0 1 521.3 321.9L515.8 323.6A59.4 59.4 0 0 0 514.9 320.9ZM730.7 240.9L757.2 231.1A317.8 317.8 0 0 1 762.2 245.8L735.3 254.3A289.5 289.5 0 0 0 730.7 240.9ZM510.8 325.2L515.8 323.6A59.4 59.4 0 0 1 516.2 325L511.1 326.5A54.1 54.1 0 0 0 510.8 325.2ZM511.1 356.6L516.2 358.1A59.4 59.4 0 0 1 515.3 360.9L510.3 359.1A54.1 54.1 0 0 0 511.1 356.6ZM764.3 430.3L792.2 438.4A346.8 346.8 0 0 1 787 454.6L759.6 445.2A317.8 317.8 0 0 0 764.3 430.3ZM520.8 362.8L526.8 364.8A71.5 71.5 0 0 1 525.6 368.1L519.7 365.7A65.2 65.2 0 0 0 520.8 362.8ZM682.2 430.9L704 439.7A263.7 263.7 0 0 1 698.9 451.6L677.5 441.8A240.3 240.3 0 0 0 682.2 430.9ZM658.1 432.8L677.5 441.8A240.3 240.3 0 0 1 672.4 452.3L653.4 442.5A218.9 218.9 0 0 0 658.1 432.8ZM636.1 433.5L653.4 442.5A218.9 218.9 0 0 1 648.2 451.9L631.4 442.1A199.4 199.4 0 0 0 636.1 433.5ZM569 413.1L574.2 416.5A137.3 137.3 0 0 1 570.4 422.1L565.4 418.4A131.1 131.1 0 0 0 569 413.1ZM591.5 427.8L597.8 431.9A165.5 165.5 0 0 1 593.2 438.6L587.1 434.1A157.9 157.9 0 0 0 591.5 427.8ZM349.8 424.6L327.4 441.6A165.5 165.5 0 0 1 322.7 435L345.9 419.1A137.3 137.3 0 0 0 349.8 424.6ZM309.3 444.1L294.7 454.2A199.4 199.4 0 0 1 289.3 445.9L304.5 436.6A181.7 181.7 0 0 0 309.3 444.1ZM388.6 375.9L381.7 379.2A86.2 86.2 0 0 1 380 375.4L387 372.4A78.5 78.5 0 0 0 388.6 375.9ZM393.4 369.6L387 372.4A78.5 78.5 0 0 1 385.6 368.8L392.1 366.4A71.5 71.5 0 0 0 393.4 369.6ZM216.7 445.2L193 455.3A289.5 289.5 0 0 1 187.7 442.1L211.9 433.2A263.7 263.7 0 0 0 216.7 445.2ZM403.5 362.1L398.1 364.1A65.2 65.2 0 0 1 397.1 361.1L402.6 359.4A59.4 59.4 0 0 0 403.5 362.1ZM187.7 442.1L161.2 451.9A317.8 317.8 0 0 1 156.2 437.2L183.1 428.7A289.5 289.5 0 0 0 187.7 442.1ZM407.6 357.8L402.6 359.4A59.4 59.4 0 0 1 402.2 358L407.3 356.5A54.1 54.1 0 0 0 407.6 357.8ZM407.3 326.4L402.2 324.9A59.4 59.4 0 0 1 403.1 322.1L408.1 323.9A54.1 54.1 0 0 0 407.3 326.4ZM154.1 252.7L126.2 244.6A346.8 346.8 0 0 1 131.4 228.4L158.8 237.8A317.8 317.8 0 0 0 154.1 252.7ZM397.6 320.2L391.6 318.2A71.5 71.5 0 0 1 392.8 314.9L398.7 317.3A65.2 65.2 0 0 0 397.6 320.2ZM236.2 252.1L214.4 243.3A263.7 263.7 0 0 1 219.5 231.4L240.9 241.2A240.3 240.3 0 0 0 236.2 252.1ZM380.9 305.5L373.2 302A94.6 94.6 0 0 1 375.3 297.9L382.7 301.7A86.2 86.2 0 0 0 380.9 305.5ZM260.3 250.2L240.9 241.2A240.3 240.3 0 0 1 246 230.7L265 240.5A218.9 218.9 0 0 0 260.3 250.2ZM375.3 297.9L367.1 293.6A103.8 103.8 0 0 1 369.5 289.1L377.5 293.8A94.6 94.6 0 0 0 375.3 297.9ZM282.3 249.5L265 240.5A218.9 218.9 0 0 1 270.2 231.1L287 240.9A199.4 199.4 0 0 0 282.3 249.5ZM369.5 289.1L360.8 284A114 114 0 0 1 363.7 279.3L372.2 284.8A103.8 103.8 0 0 0 369.5 289.1ZM359.2 276.3L344.2 266.5A137.3 137.3 0 0 1 348 260.9L362.5 271.5A119.4 119.4 0 0 0 359.2 276.3ZM326.9 255.2L320.6 251.1A165.5 165.5 0 0 1 325.2 244.4L331.3 248.9A157.9 157.9 0 0 0 326.9 255.2Z"/>
<path fill="#5a116e" stroke="#5a116e" stroke-width="0.8" d="M557.7 274L577.9 260.2A143.9 143.9 0 0 1 581.8 266.1L560.9 279A119.4 119.4 0 0 0 557.7 274ZM583.6 256.3L609.1 238.9A181.7 181.7 0 0 1 613.9 246.4L587.6 262.5A150.8 150.8 0 0 0 583.6 256.3ZM551.9 284.5L556.3 281.8A114 114 0 0 1 559.1 286.6L554.6 289.1A108.8 108.8 0 0 0 551.9 284.5ZM613.9 246.4L629.1 237.1A199.4 199.4 0 0 1 634 245.5L618.4 254.1A181.7 181.7 0 0 0 613.9 246.4ZM542.1 296L550.2 291.5A103.8 103.8 0 0 1 552.6 296L544.2 300.1A94.6 94.6 0 0 0 542.1 296ZM634 245.5L651.1 236.1A218.9 218.9 0 0 1 656 245.7L638.5 254.2A199.4 199.4 0 0 0 634 245.5ZM536.7 303.8L544.2 300.1A94.6 94.6 0 0 1 546.2 304.3L538.4 307.6A86.2 86.2 0 0 0 536.7 303.8ZM656 245.7L675.2 236.3A240.3 240.3 0 0 1 680.1 247L660.5 255.5A218.9 218.9 0 0 0 656 245.7ZM680.1 247L701.7 237.8A263.7 263.7 0 0 1 706.5 249.8L684.5 258A240.3 240.3 0 0 0 680.1 247ZM520.3 318.9L526.3 316.6A71.5 71.5 0 0 1 527.4 320L521.3 321.9A65.2 65.2 0 0 0 520.3 318.9ZM515.8 323.6L521.3 321.9A65.2 65.2 0 0 1 521.8 323.4L516.2 325A59.4 59.4 0 0 0 515.8 323.6ZM762.2 245.8L789.9 237.1A346.8 346.8 0 0 1 792.4 245.2L764.5 253.3A317.8 317.8 0 0 0 762.2 245.8ZM511.1 326.5L516.2 325A59.4 59.4 0 0 1 516.6 326.4L511.5 327.8A54.1 54.1 0 0 0 511.1 326.5ZM511.5 355.3L516.6 356.7A59.4 59.4 0 0 1 516.2 358.1L511.1 356.6A54.1 54.1 0 0 0 511.5 355.3ZM516.2 358.1L521.8 359.7A65.2 65.2 0 0 1 520.8 362.8L515.3 360.9A59.4 59.4 0 0 0 516.2 358.1ZM526.8 364.8L533.4 367.1A78.5 78.5 0 0 1 532.1 370.7L525.6 368.1A71.5 71.5 0 0 0 526.8 364.8ZM708.5 427.5L732.9 435.9A289.5 289.5 0 0 1 727.9 449.2L704 439.7A263.7 263.7 0 0 0 708.5 427.5ZM532.1 370.7L539.2 373.6A86.2 86.2 0 0 1 537.5 377.5L530.5 374.3A78.5 78.5 0 0 0 532.1 370.7ZM562.3 401.7L567.2 404.6A125.1 125.1 0 0 1 564 409.8L559.2 406.7A119.4 119.4 0 0 0 562.3 401.7ZM616.1 433.1L631.4 442.1A199.4 199.4 0 0 1 626.2 450.4L611.4 440.7A181.7 181.7 0 0 0 616.1 433.1ZM574.2 416.5L591.5 427.8A157.9 157.9 0 0 1 587.1 434.1L570.4 422.1A137.3 137.3 0 0 0 574.2 416.5ZM548.1 412.8L552.4 416.2A119.4 119.4 0 0 1 548.6 420.7L544.5 417.1A114 114 0 0 0 548.1 412.8ZM544.5 417.1L557.3 428.4A131.1 131.1 0 0 1 552.9 433.1L540.7 421.2A114 114 0 0 0 544.5 417.1ZM544.6 425L562.1 442.1A143.9 143.9 0 0 1 557 447L540.4 429.1A119.4 119.4 0 0 0 544.6 425ZM548.3 437.6L566.6 457.3A157.9 157.9 0 0 1 560.8 462.4L543.5 441.9A131.1 131.1 0 0 0 548.3 437.6ZM551.7 451.7L565.6 468.2A165.5 165.5 0 0 1 559.3 473.3L546.2 456.1A143.9 143.9 0 0 0 551.7 451.7ZM370.8 463.6L362.1 475.5A165.5 165.5 0 0 1 355.7 470.6L364.9 459.1A150.8 150.8 0 0 0 370.8 463.6ZM377.2 443.8L355.7 470.6A165.5 165.5 0 0 1 349.5 465.4L372.3 439.6A131.1 131.1 0 0 0 377.2 443.8ZM380 430.9L363.8 449.2A143.9 143.9 0 0 1 358.6 444.4L375.7 426.9A119.4 119.4 0 0 0 380 430.9ZM379.5 423L367.6 435.2A131.1 131.1 0 0 1 363.1 430.6L375.6 419A114 114 0 0 0 379.5 423ZM375.6 419L371.6 422.7A119.4 119.4 0 0 1 367.8 418.3L371.9 414.8A114 114 0 0 0 375.6 419ZM356 412.2L340.5 422.8A143.9 143.9 0 0 1 336.6 416.9L352.6 407A125.1 125.1 0 0 0 356 412.2ZM334.8 426.7L309.3 444.1A181.7 181.7 0 0 1 304.5 436.6L330.8 420.5A150.8 150.8 0 0 0 334.8 426.7ZM304.5 436.6L289.3 445.9A199.4 199.4 0 0 1 284.4 437.5L300 428.9A181.7 181.7 0 0 0 304.5 436.6ZM284.4 437.5L267.3 446.9A218.9 218.9 0 0 1 262.4 437.3L279.9 428.8A199.4 199.4 0 0 0 284.4 437.5ZM381.7 379.2L374.2 382.9A94.6 94.6 0 0 1 372.2 378.7L380 375.4A86.2 86.2 0 0 0 381.7 379.2ZM262.4 437.3L243.2 446.7A240.3 240.3 0 0 1 238.3 436L257.9 427.5A218.9 218.9 0 0 0 262.4 437.3ZM238.3 436L216.7 445.2A263.7 263.7 0 0 1 211.9 433.2L233.9 425A240.3 240.3 0 0 0 238.3 436ZM398.1 364.1L392.1 366.4A71.5 71.5 0 0 1 391 363L397.1 361.1A65.2 65.2 0 0 0 398.1 364.1ZM402.6 359.4L397.1 361.1A65.2 65.2 0 0 1 396.6 359.6L402.2 358A59.4 59.4 0 0 0 402.6 359.4ZM156.2 437.2L128.5 445.9A346.8 346.8 0 0 1 126 437.8L153.9 429.7A317.8 317.8 0 0 0 156.2 437.2ZM407.3 356.5L402.2 358A59.4 59.4 0 0 1 401.8 356.6L406.9 355.2A54.1 54.1 0 0 0 407.3 356.5ZM406.9 327.7L401.8 326.3A59.4 59.4 0 0 1 402.2 324.9L407.3 326.4A54.1 54.1 0 0 0 406.9 327.7ZM402.2 324.9L396.6 323.3A65.2 65.2 0 0 1 397.6 320.2L403.1 322.1A59.4 59.4 0 0 0 402.2 324.9ZM391.6 318.2L385 315.9A78.5 78.5 0 0 1 386.3 312.3L392.8 314.9A71.5 71.5 0 0 0 391.6 318.2ZM209.9 255.5L185.5 247.1A289.5 289.5 0 0 1 190.5 233.8L214.4 243.3A263.7 263.7 0 0 0 209.9 255.5ZM386.3 312.3L379.2 309.4A86.2 86.2 0 0 1 380.9 305.5L387.9 308.7A78.5 78.5 0 0 0 386.3 312.3ZM367.1 293.6L362.7 291.3A108.8 108.8 0 0 1 365.3 286.6L369.5 289.1A103.8 103.8 0 0 0 367.1 293.6ZM360.8 284L351.2 278.4A125.1 125.1 0 0 1 354.4 273.2L363.7 279.3A114 114 0 0 0 360.8 284ZM302.3 249.9L287 240.9A199.4 199.4 0 0 1 292.2 232.6L307 242.3A181.7 181.7 0 0 0 302.3 249.9ZM344.2 266.5L326.9 255.2A157.9 157.9 0 0 1 331.3 248.9L348 260.9A137.3 137.3 0 0 0 344.2 266.5Z"/>
<path fill="#5c126e" stroke="#5c126e" stroke-width="0.8" d="M577.9 260.2L583.6 256.3A150.8 150.8 0 0 1 587.6 262.5L581.8 266.1A143.9 143.9 0 0 0 577.9 260.2ZM556.3 281.8L565.8 276A125.1 125.1 0 0 1 568.9 281.3L559.1 286.6A114 114 0 0 0 556.3 281.8ZM550.2 291.5L559.1 286.6A114 114 0 0 1 561.7 291.6L552.6 296A103.8 103.8 0 0 0 550.2 291.5ZM531.4 310.6L538.4 307.6A86.2 86.2 0 0 1 540 311.6L532.8 314.2A78.5 78.5 0 0 0 531.4 310.6ZM526.3 316.6L532.8 314.2A78.5 78.5 0 0 1 534.1 317.9L527.4 320A71.5 71.5 0 0 0 526.3 316.6ZM706.5 249.8L730.7 240.9A289.5 289.5 0 0 1 735.3 254.3L710.7 262.1A263.7 263.7 0 0 0 706.5 249.8ZM521.3 321.9L527.4 320A71.5 71.5 0 0 1 527.9 321.6L521.8 323.4A65.2 65.2 0 0 0 521.3 321.9ZM516.2 325L521.8 323.4A65.2 65.2 0 0 1 522.2 325L516.6 326.4A59.4 59.4 0 0 0 516.2 325ZM516.6 356.7L522.2 358.2A65.2 65.2 0 0 1 521.8 359.7L516.2 358.1A59.4 59.4 0 0 0 516.6 356.7ZM521.8 359.7L527.9 361.5A71.5 71.5 0 0 1 526.8 364.8L520.8 362.8A65.2 65.2 0 0 0 521.8 359.7ZM737.2 422.4L764.3 430.3A317.8 317.8 0 0 1 759.6 445.2L732.9 435.9A289.5 289.5 0 0 0 737.2 422.4ZM533.4 367.1L540.7 369.6A86.2 86.2 0 0 1 539.2 373.6L532.1 370.7A78.5 78.5 0 0 0 533.4 367.1ZM539.2 373.6L547 376.7A94.6 94.6 0 0 1 545.2 381L537.5 377.5A86.2 86.2 0 0 0 539.2 373.6ZM662.4 423L682.2 430.9A240.3 240.3 0 0 1 677.5 441.8L658.1 432.8A218.9 218.9 0 0 0 662.4 423ZM640.4 424.7L658.1 432.8A218.9 218.9 0 0 1 653.4 442.5L636.1 433.5A199.4 199.4 0 0 0 640.4 424.7ZM620.4 425.3L636.1 433.5A199.4 199.4 0 0 1 631.4 442.1L616.1 433.1A181.7 181.7 0 0 0 620.4 425.3ZM567.2 404.6L616.1 433.1A181.7 181.7 0 0 1 611.4 440.7L564 409.8A125.1 125.1 0 0 0 567.2 404.6ZM340.5 422.8L334.8 426.7A150.8 150.8 0 0 1 330.8 420.5L336.6 416.9A143.9 143.9 0 0 0 340.5 422.8ZM368.2 391.5L359.3 396.4A114 114 0 0 1 356.7 391.4L365.8 387A103.8 103.8 0 0 0 368.2 391.5ZM387 372.4L380 375.4A86.2 86.2 0 0 1 378.4 371.4L385.6 368.8A78.5 78.5 0 0 0 387 372.4ZM392.1 366.4L385.6 368.8A78.5 78.5 0 0 1 384.3 365.1L391 363A71.5 71.5 0 0 0 392.1 366.4ZM211.9 433.2L187.7 442.1A289.5 289.5 0 0 1 183.1 428.7L207.7 420.9A263.7 263.7 0 0 0 211.9 433.2ZM397.1 361.1L391 363A71.5 71.5 0 0 1 390.5 361.4L396.6 359.6A65.2 65.2 0 0 0 397.1 361.1ZM402.2 358L396.6 359.6A65.2 65.2 0 0 1 396.2 358L401.8 356.6A59.4 59.4 0 0 0 402.2 358ZM401.8 326.3L396.2 324.8A65.2 65.2 0 0 1 396.6 323.3L402.2 324.9A59.4 59.4 0 0 0 401.8 326.3ZM396.6 323.3L390.5 321.5A71.5 71.5 0 0 1 391.6 318.2L397.6 320.2A65.2 65.2 0 0 0 396.6 323.3ZM181.2 260.6L154.1 252.7A317.8 317.8 0 0 1 158.8 237.8L185.5 247.1A289.5 289.5 0 0 0 181.2 260.6ZM385 315.9L377.7 313.4A86.2 86.2 0 0 1 379.2 309.4L386.3 312.3A78.5 78.5 0 0 0 385 315.9ZM379.2 309.4L371.4 306.3A94.6 94.6 0 0 1 373.2 302L380.9 305.5A86.2 86.2 0 0 0 379.2 309.4ZM256 260L236.2 252.1A240.3 240.3 0 0 1 240.9 241.2L260.3 250.2A218.9 218.9 0 0 0 256 260ZM373.2 302L364.8 298.2A103.8 103.8 0 0 1 367.1 293.6L375.3 297.9A94.6 94.6 0 0 0 373.2 302ZM278 258.3L260.3 250.2A218.9 218.9 0 0 1 265 240.5L282.3 249.5A199.4 199.4 0 0 0 278 258.3ZM362.7 291.3L353.3 286.4A119.4 119.4 0 0 1 356.1 281.3L365.3 286.6A108.8 108.8 0 0 0 362.7 291.3ZM298 257.7L282.3 249.5A199.4 199.4 0 0 1 287 240.9L302.3 249.9A181.7 181.7 0 0 0 298 257.7ZM351.2 278.4L302.3 249.9A181.7 181.7 0 0 1 307 242.3L354.4 273.2A125.1 125.1 0 0 0 351.2 278.4Z"/>
<path fill="#5f136e" stroke="#5f136e" stroke-width="0.8" d="M565.8 276L613.9 246.4A181.7 181.7 0 0 1 618.4 254.1L568.9 281.3A125.1 125.1 0 0 0 565.8 276ZM618.4 254.1L634 245.5A199.4 199.4 0 0 1 638.5 254.2L622.5 262A181.7 181.7 0 0 0 618.4 254.1ZM544.2 300.1L552.6 296A103.8 103.8 0 0 1 554.7 300.7L546.2 304.3A94.6 94.6 0 0 0 544.2 300.1ZM638.5 254.2L656 245.7A218.9 218.9 0 0 1 660.5 255.5L642.5 263.1A199.4 199.4 0 0 0 638.5 254.2ZM538.4 307.6L546.2 304.3A94.6 94.6 0 0 1 547.9 308.6L540 311.6A86.2 86.2 0 0 0 538.4 307.6ZM660.5 255.5L680.1 247A240.3 240.3 0 0 1 684.5 258L664.4 265.4A218.9 218.9 0 0 0 660.5 255.5ZM735.3 254.3L762.2 245.8A317.8 317.8 0 0 1 764.5 253.3L737.3 261.1A289.5 289.5 0 0 0 735.3 254.3ZM521.8 323.4L527.9 321.6A71.5 71.5 0 0 1 528.4 323.3L522.2 325A65.2 65.2 0 0 0 521.8 323.4ZM764.5 253.3L792.4 245.2A346.8 346.8 0 0 1 794.6 253.4L766.6 260.8A317.8 317.8 0 0 0 764.5 253.3ZM511.5 327.8L516.6 326.4A59.4 59.4 0 0 1 517 327.8L511.8 329.1A54.1 54.1 0 0 0 511.5 327.8ZM511.8 354L522.6 356.6A65.2 65.2 0 0 1 522.2 358.2L511.5 355.3A54.1 54.1 0 0 0 511.8 354ZM522.2 358.2L528.3 359.8A71.5 71.5 0 0 1 527.9 361.5L521.8 359.7A65.2 65.2 0 0 0 522.2 358.2ZM766.4 422.8L794.5 430.2A346.8 346.8 0 0 1 792.2 438.4L764.3 430.3A317.8 317.8 0 0 0 766.4 422.8ZM527.9 361.5L534.6 363.4A78.5 78.5 0 0 1 533.4 367.1L526.8 364.8A71.5 71.5 0 0 0 527.9 361.5ZM712.4 415.2L737.2 422.4A289.5 289.5 0 0 1 732.9 435.9L708.5 427.5A263.7 263.7 0 0 0 712.4 415.2ZM686.3 419.9L708.5 427.5A263.7 263.7 0 0 1 704 439.7L682.2 430.9A240.3 240.3 0 0 0 686.3 419.9ZM537.5 377.5L545.2 381A94.6 94.6 0 0 1 543.1 385.1L535.7 381.3A86.2 86.2 0 0 0 537.5 377.5ZM553.6 384.8L562.8 389.1A114 114 0 0 1 560.3 394.1L551.3 389.4A103.8 103.8 0 0 0 553.6 384.8ZM606 417.8L620.4 425.3A181.7 181.7 0 0 1 616.1 433.1L602.1 425A165.5 165.5 0 0 0 606 417.8ZM544.8 391.5L553.1 396.4A108.8 108.8 0 0 1 550.3 400.9L542.2 395.6A99.1 99.1 0 0 0 544.8 391.5ZM550.3 400.9L554.7 403.7A114 114 0 0 1 551.5 408.4L547.3 405.3A108.8 108.8 0 0 0 550.3 400.9ZM372.6 407.3L368.4 410.4A114 114 0 0 1 365.2 405.9L369.4 403A108.8 108.8 0 0 0 372.6 407.3ZM377.4 397.5L369.4 403A108.8 108.8 0 0 1 366.5 398.5L374.8 393.4A99.1 99.1 0 0 0 377.4 397.5ZM378.6 391L370.8 395.9A103.8 103.8 0 0 1 368.2 391.5L376.3 387A94.6 94.6 0 0 0 378.6 391ZM318.2 428.2L304.5 436.6A181.7 181.7 0 0 1 300 428.9L314.2 421.2A165.5 165.5 0 0 0 318.2 428.2ZM383.7 383L376.3 387A94.6 94.6 0 0 1 374.2 382.9L381.7 379.2A86.2 86.2 0 0 0 383.7 383ZM300 428.9L284.4 437.5A199.4 199.4 0 0 1 279.9 428.8L295.9 421A181.7 181.7 0 0 0 300 428.9ZM374.2 382.9L365.8 387A103.8 103.8 0 0 1 363.7 382.3L372.2 378.7A94.6 94.6 0 0 0 374.2 382.9ZM279.9 428.8L262.4 437.3A218.9 218.9 0 0 1 257.9 427.5L275.9 419.9A199.4 199.4 0 0 0 279.9 428.8ZM380 375.4L372.2 378.7A94.6 94.6 0 0 1 370.5 374.4L378.4 371.4A86.2 86.2 0 0 0 380 375.4ZM257.9 427.5L238.3 436A240.3 240.3 0 0 1 233.9 425L254 417.6A218.9 218.9 0 0 0 257.9 427.5ZM183.1 428.7L156.2 437.2A317.8 317.8 0 0 1 153.9 429.7L181.1 421.9A289.5 289.5 0 0 0 183.1 428.7ZM396.6 359.6L390.5 361.4A71.5 71.5 0 0 1 390 359.7L396.2 358A65.2 65.2 0 0 0 396.6 359.6ZM153.9 429.7L126 437.8A346.8 346.8 0 0 1 123.8 429.6L151.8 422.2A317.8 317.8 0 0 0 153.9 429.7ZM406.9 355.2L401.8 356.6A59.4 59.4 0 0 1 401.4 355.2L406.6 353.9A54.1 54.1 0 0 0 406.9 355.2ZM406.6 329L395.8 326.4A65.2 65.2 0 0 1 396.2 324.8L406.9 327.7A54.1 54.1 0 0 0 406.6 329ZM396.2 324.8L390.1 323.2A71.5 71.5 0 0 1 390.5 321.5L396.6 323.3A65.2 65.2 0 0 0 396.2 324.8ZM152 260.2L123.9 252.8A346.8 346.8 0 0 1 126.2 244.6L154.1 252.7A317.8 317.8 0 0 0 152 260.2ZM390.5 321.5L383.8 319.6A78.5 78.5 0 0 1 385 315.9L391.6 318.2A71.5 71.5 0 0 0 390.5 321.5ZM206 267.8L181.2 260.6A289.5 289.5 0 0 1 185.5 247.1L209.9 255.5A263.7 263.7 0 0 0 206 267.8ZM232.1 263.1L209.9 255.5A263.7 263.7 0 0 1 214.4 243.3L236.2 252.1A240.3 240.3 0 0 0 232.1 263.1ZM364.8 298.2L355.6 293.9A114 114 0 0 1 358.1 288.9L367.1 293.6A103.8 103.8 0 0 0 364.8 298.2ZM353.3 286.4L342.9 281A131.1 131.1 0 0 1 346 275.4L356.1 281.3A119.4 119.4 0 0 0 353.3 286.4ZM312.4 265.2L298 257.7A181.7 181.7 0 0 1 302.3 249.9L316.3 258A165.5 165.5 0 0 0 312.4 265.2Z"/>
<path fill="#61136e" stroke="#61136e" stroke-width="0.8" d="M559.1 286.6L579.6 275.4A137.3 137.3 0 0 1 582.7 281.4L561.7 291.6A114 114 0 0 0 559.1 286.6ZM604.2 261.8L618.4 254.1A181.7 181.7 0 0 1 622.5 262L608 269.1A165.5 165.5 0 0 0 604.2 261.8ZM552.6 296L561.7 291.6A114 114 0 0 1 564 296.7L554.7 300.7A103.8 103.8 0 0 0 552.6 296ZM532.8 314.2L540 311.6A86.2 86.2 0 0 1 541.4 315.6L534.1 317.9A78.5 78.5 0 0 0 532.8 314.2ZM684.5 258L706.5 249.8A263.7 263.7 0 0 1 710.7 262.1L688.3 269.2A240.3 240.3 0 0 0 684.5 258ZM527.4 320L534.1 317.9A78.5 78.5 0 0 1 534.6 319.7L527.9 321.6A71.5 71.5 0 0 0 527.4 320ZM710.7 262.1L735.3 254.3A289.5 289.5 0 0 1 737.3 261.1L712.6 268.3A263.7 263.7 0 0 0 710.7 262.1ZM737.3 261.1L764.5 253.3A317.8 317.8 0 0 1 766.6 260.8L739.2 268A289.5 289.5 0 0 0 737.3 261.1ZM516.6 326.4L522.2 325A65.2 65.2 0 0 1 522.6 326.5L517 327.8A59.4 59.4 0 0 0 516.6 326.4ZM766.6 260.8L794.6 253.4A346.8 346.8 0 0 1 796.7 261.7L768.5 268.4A317.8 317.8 0 0 0 766.6 260.8ZM511.8 329.1L517 327.8A59.4 59.4 0 0 1 517.3 329.3L512.1 330.4A54.1 54.1 0 0 0 511.8 329.1ZM512.1 352.7L517.3 353.8A59.4 59.4 0 0 1 516.9 355.3L511.8 354A54.1 54.1 0 0 0 512.1 352.7ZM768.3 415.2L796.5 421.9A346.8 346.8 0 0 1 794.5 430.2L766.4 422.8A317.8 317.8 0 0 0 768.3 415.2ZM739.1 415.5L766.4 422.8A317.8 317.8 0 0 1 764.3 430.3L737.2 422.4A289.5 289.5 0 0 0 739.1 415.5ZM534.6 363.4L541.9 365.6A86.2 86.2 0 0 1 540.7 369.6L533.4 367.1A78.5 78.5 0 0 0 534.6 363.4ZM540.7 369.6L548.6 372.4A94.6 94.6 0 0 1 547 376.7L539.2 373.6A86.2 86.2 0 0 0 540.7 369.6ZM666.1 412.9L686.3 419.9A240.3 240.3 0 0 1 682.2 430.9L662.4 423A218.9 218.9 0 0 0 666.1 412.9ZM547 376.7L555.6 380.1A103.8 103.8 0 0 1 553.6 384.8L545.2 381A94.6 94.6 0 0 0 547 376.7ZM644.3 415.7L662.4 423A218.9 218.9 0 0 1 658.1 432.8L640.4 424.7A199.4 199.4 0 0 0 644.3 415.7ZM562.8 389.1L572.9 393.7A125.1 125.1 0 0 1 570.2 399.2L560.3 394.1A114 114 0 0 0 562.8 389.1ZM624.3 417.3L640.4 424.7A199.4 199.4 0 0 1 636.1 433.5L620.4 425.3A181.7 181.7 0 0 0 624.3 417.3ZM593 411.1L606 417.8A165.5 165.5 0 0 1 602.1 425L589.4 417.5A150.8 150.8 0 0 0 593 411.1ZM359.3 396.4L338.8 407.6A137.3 137.3 0 0 1 335.7 401.6L356.7 391.4A114 114 0 0 0 359.3 396.4ZM314.2 421.2L300 428.9A181.7 181.7 0 0 1 295.9 421L310.4 413.9A165.5 165.5 0 0 0 314.2 421.2ZM365.8 387L356.7 391.4A114 114 0 0 1 354.4 386.3L363.7 382.3A103.8 103.8 0 0 0 365.8 387ZM385.6 368.8L378.4 371.4A86.2 86.2 0 0 1 377 367.4L384.3 365.1A78.5 78.5 0 0 0 385.6 368.8ZM233.9 425L211.9 433.2A263.7 263.7 0 0 1 207.7 420.9L230.1 413.8A240.3 240.3 0 0 0 233.9 425ZM391 363L384.3 365.1A78.5 78.5 0 0 1 383.8 363.3L390.5 361.4A71.5 71.5 0 0 0 391 363ZM207.7 420.9L183.1 428.7A289.5 289.5 0 0 1 181.1 421.9L205.8 414.7A263.7 263.7 0 0 0 207.7 420.9ZM181.1 421.9L153.9 429.7A317.8 317.8 0 0 1 151.8 422.2L179.2 415A289.5 289.5 0 0 0 181.1 421.9ZM401.8 356.6L396.2 358A65.2 65.2 0 0 1 395.8 356.5L401.4 355.2A59.4 59.4 0 0 0 401.8 356.6ZM151.8 422.2L123.8 429.6A346.8 346.8 0 0 1 121.7 421.3L149.9 414.6A317.8 317.8 0 0 0 151.8 422.2ZM406.6 353.9L401.4 355.2A59.4 59.4 0 0 1 401.1 353.7L406.3 352.6A54.1 54.1 0 0 0 406.6 353.9ZM406.3 330.3L401.1 329.2A59.4 59.4 0 0 1 401.5 327.7L406.6 329A54.1 54.1 0 0 0 406.3 330.3ZM150.1 267.8L121.9 261.1A346.8 346.8 0 0 1 123.9 252.8L152 260.2A317.8 317.8 0 0 0 150.1 267.8ZM179.3 267.5L152 260.2A317.8 317.8 0 0 1 154.1 252.7L181.2 260.6A289.5 289.5 0 0 0 179.3 267.5ZM383.8 319.6L376.5 317.4A86.2 86.2 0 0 1 377.7 313.4L385 315.9A78.5 78.5 0 0 0 383.8 319.6ZM377.7 313.4L369.8 310.6A94.6 94.6 0 0 1 371.4 306.3L379.2 309.4A86.2 86.2 0 0 0 377.7 313.4ZM252.3 270.1L232.1 263.1A240.3 240.3 0 0 1 236.2 252.1L256 260A218.9 218.9 0 0 0 252.3 270.1ZM371.4 306.3L362.8 302.9A103.8 103.8 0 0 1 364.8 298.2L373.2 302A94.6 94.6 0 0 0 371.4 306.3ZM274.1 267.3L256 260A218.9 218.9 0 0 1 260.3 250.2L278 258.3A199.4 199.4 0 0 0 274.1 267.3ZM355.6 293.9L345.5 289.3A125.1 125.1 0 0 1 348.2 283.8L358.1 288.9A114 114 0 0 0 355.6 293.9ZM294.1 265.7L278 258.3A199.4 199.4 0 0 1 282.3 249.5L298 257.7A181.7 181.7 0 0 0 294.1 265.7ZM342.9 281L312.4 265.2A165.5 165.5 0 0 1 316.3 258L346 275.4A131.1 131.1 0 0 0 342.9 281Z"/>
<path fill="#62146e" stroke="#62146e" stroke-width="0.8" d="M579.6 275.4L604.2 261.8A165.5 165.5 0 0 1 608 269.1L582.7 281.4A137.3 137.3 0 0 0 579.6 275.4ZM561.7 291.6L571.7 286.7A125.1 125.1 0 0 1 574.2 292.3L564 296.7A114 114 0 0 0 561.7 291.6ZM622.5 262L638.5 254.2A199.4 199.4 0 0 1 642.5 263.1L626.2 270.1A181.7 181.7 0 0 0 622.5 262ZM546.2 304.3L554.7 300.7A103.8 103.8 0 0 1 556.6 305.4L547.9 308.6A94.6 94.6 0 0 0 546.2 304.3ZM642.5 263.1L660.5 255.5A218.9 218.9 0 0 1 664.4 265.4L646.2 272.2A199.4 199.4 0 0 0 642.5 263.1ZM540 311.6L547.9 308.6A94.6 94.6 0 0 1 549.4 313L541.4 315.6A86.2 86.2 0 0 0 540 311.6ZM534.1 317.9L541.4 315.6A86.2 86.2 0 0 1 542 317.6L534.6 319.7A78.5 78.5 0 0 0 534.1 317.9ZM527.9 321.6L534.6 319.7A78.5 78.5 0 0 1 535.1 321.6L528.4 323.3A71.5 71.5 0 0 0 527.9 321.6ZM522.2 325L528.4 323.3A71.5 71.5 0 0 1 528.8 325L522.6 326.5A65.2 65.2 0 0 0 522.2 325ZM739.2 268L766.6 260.8A317.8 317.8 0 0 1 768.5 268.4L740.9 274.9A289.5 289.5 0 0 0 739.2 268ZM517 327.8L522.6 326.5A65.2 65.2 0 0 1 523 328.1L517.3 329.3A59.4 59.4 0 0 0 517 327.8ZM768.5 268.4L796.7 261.7A346.8 346.8 0 0 1 798.5 270L770.2 276A317.8 317.8 0 0 0 768.5 268.4ZM512.1 330.4L517.3 329.3A59.4 59.4 0 0 1 517.6 330.7L512.4 331.7A54.1 54.1 0 0 0 512.1 330.4ZM512.3 351.4L517.5 352.4A59.4 59.4 0 0 1 517.3 353.8L512.1 352.7A54.1 54.1 0 0 0 512.3 351.4ZM517.3 353.8L522.9 355.1A65.2 65.2 0 0 1 522.6 356.6L516.9 355.3A59.4 59.4 0 0 0 517.3 353.8ZM770 407.6L798.4 413.6A346.8 346.8 0 0 1 796.5 421.9L768.3 415.2A317.8 317.8 0 0 0 770 407.6ZM522.6 356.6L528.8 358.1A71.5 71.5 0 0 1 528.3 359.8L522.2 358.2A65.2 65.2 0 0 0 522.6 356.6ZM740.8 408.7L768.3 415.2A317.8 317.8 0 0 1 766.4 422.8L739.1 415.5A289.5 289.5 0 0 0 740.8 408.7ZM528.3 359.8L535.1 361.6A78.5 78.5 0 0 1 534.6 363.4L527.9 361.5A71.5 71.5 0 0 0 528.3 359.8ZM714.2 409L739.1 415.5A289.5 289.5 0 0 1 737.2 422.4L712.4 415.2A263.7 263.7 0 0 0 714.2 409ZM689.9 408.6L712.4 415.2A263.7 263.7 0 0 1 708.5 427.5L686.3 419.9A240.3 240.3 0 0 0 689.9 408.6ZM555.6 380.1L565 383.9A114 114 0 0 1 562.8 389.1L553.6 384.8A103.8 103.8 0 0 0 555.6 380.1ZM572.9 393.7L584 398.8A137.3 137.3 0 0 1 581 404.9L570.2 399.2A125.1 125.1 0 0 0 572.9 393.7ZM609.6 410.6L624.3 417.3A181.7 181.7 0 0 1 620.4 425.3L606 417.8A165.5 165.5 0 0 0 609.6 410.6ZM338.8 407.6L314.2 421.2A165.5 165.5 0 0 1 310.4 413.9L335.7 401.6A137.3 137.3 0 0 0 338.8 407.6ZM356.7 391.4L346.7 396.3A125.1 125.1 0 0 1 344.2 390.7L354.4 386.3A114 114 0 0 0 356.7 391.4ZM295.9 421L279.9 428.8A199.4 199.4 0 0 1 275.9 419.9L292.2 412.9A181.7 181.7 0 0 0 295.9 421ZM372.2 378.7L363.7 382.3A103.8 103.8 0 0 1 361.8 377.6L370.5 374.4A94.6 94.6 0 0 0 372.2 378.7ZM275.9 419.9L257.9 427.5A218.9 218.9 0 0 1 254 417.6L272.2 410.8A199.4 199.4 0 0 0 275.9 419.9ZM378.4 371.4L370.5 374.4A94.6 94.6 0 0 1 369 370L377 367.4A86.2 86.2 0 0 0 378.4 371.4ZM384.3 365.1L377 367.4A86.2 86.2 0 0 1 376.4 365.4L383.8 363.3A78.5 78.5 0 0 0 384.3 365.1ZM390.5 361.4L383.8 363.3A78.5 78.5 0 0 1 383.3 361.4L390 359.7A71.5 71.5 0 0 0 390.5 361.4ZM396.2 358L390 359.7A71.5 71.5 0 0 1 389.6 358L395.8 356.5A65.2 65.2 0 0 0 396.2 358ZM179.2 415L151.8 422.2A317.8 317.8 0 0 1 149.9 414.6L177.5 408.1A289.5 289.5 0 0 0 179.2 415ZM401.4 355.2L395.8 356.5A65.2 65.2 0 0 1 395.4 354.9L401.1 353.7A59.4 59.4 0 0 0 401.4 355.2ZM149.9 414.6L121.7 421.3A346.8 346.8 0 0 1 119.9 413L148.2 407A317.8 317.8 0 0 0 149.9 414.6ZM406.3 352.6L401.1 353.7A59.4 59.4 0 0 1 400.8 352.3L406 351.3A54.1 54.1 0 0 0 406.3 352.6ZM406.1 331.6L400.9 330.6A59.4 59.4 0 0 1 401.1 329.2L406.3 330.3A54.1 54.1 0 0 0 406.1 331.6ZM401.1 329.2L395.5 327.9A65.2 65.2 0 0 1 395.8 326.4L401.5 327.7A59.4 59.4 0 0 0 401.1 329.2ZM148.4 275.4L120 269.4A346.8 346.8 0 0 1 121.9 261.1L150.1 267.8A317.8 317.8 0 0 0 148.4 275.4ZM395.8 326.4L389.6 324.9A71.5 71.5 0 0 1 390.1 323.2L396.2 324.8A65.2 65.2 0 0 0 395.8 326.4ZM177.6 274.3L150.1 267.8A317.8 317.8 0 0 1 152 260.2L179.3 267.5A289.5 289.5 0 0 0 177.6 274.3ZM390.1 323.2L383.3 321.4A78.5 78.5 0 0 1 383.8 319.6L390.5 321.5A71.5 71.5 0 0 0 390.1 323.2ZM204.2 274L179.3 267.5A289.5 289.5 0 0 1 181.2 260.6L206 267.8A263.7 263.7 0 0 0 204.2 274ZM228.5 274.4L206 267.8A263.7 263.7 0 0 1 209.9 255.5L232.1 263.1A240.3 240.3 0 0 0 228.5 274.4ZM362.8 302.9L353.4 299.1A114 114 0 0 1 355.6 293.9L364.8 298.2A103.8 103.8 0 0 0 362.8 302.9ZM345.5 289.3L334.4 284.2A137.3 137.3 0 0 1 337.4 278.1L348.2 283.8A125.1 125.1 0 0 0 345.5 289.3ZM308.8 272.4L294.1 265.7A181.7 181.7 0 0 1 298 257.7L312.4 265.2A165.5 165.5 0 0 0 308.8 272.4Z"/>
<path fill="#64156e" stroke="#64156e" stroke-width="0.8" d="M571.7 286.7L582.7 281.4A137.3 137.3 0 0 1 585.5 287.5L574.2 292.3A125.1 125.1 0 0 0 571.7 286.7ZM608 269.1L622.5 262A181.7 181.7 0 0 1 626.2 270.1L611.4 276.4A165.5 165.5 0 0 0 608 269.1ZM554.7 300.7L564 296.7A114 114 0 0 1 566.1 301.9L556.6 305.4A103.8 103.8 0 0 0 554.7 300.7ZM664.4 265.4L684.5 258A240.3 240.3 0 0 1 688.3 269.2L667.9 275.6A218.9 218.9 0 0 0 664.4 265.4ZM688.3 269.2L710.7 262.1A263.7 263.7 0 0 1 712.6 268.3L690 274.8A240.3 240.3 0 0 0 688.3 269.2ZM534.6 319.7L542 317.6A86.2 86.2 0 0 1 542.5 319.6L535.1 321.6A78.5 78.5 0 0 0 534.6 319.7ZM712.6 268.3L737.3 261.1A289.5 289.5 0 0 1 739.2 268L714.3 274.5A263.7 263.7 0 0 0 712.6 268.3ZM528.4 323.3L535.1 321.6A78.5 78.5 0 0 1 535.6 323.4L528.8 325A71.5 71.5 0 0 0 528.4 323.3ZM522.6 326.5L528.8 325A71.5 71.5 0 0 1 529.2 326.8L523 328.1A65.2 65.2 0 0 0 522.6 326.5ZM517.3 329.3L523 328.1A65.2 65.2 0 0 1 523.3 329.6L517.6 330.7A59.4 59.4 0 0 0 517.3 329.3ZM517.5 352.4L523.2 353.5A65.2 65.2 0 0 1 522.9 355.1L517.3 353.8A59.4 59.4 0 0 0 517.5 352.4ZM522.9 355.1L529.2 356.4A71.5 71.5 0 0 1 528.8 358.1L522.6 356.6A65.2 65.2 0 0 0 522.9 355.1ZM528.8 358.1L535.6 359.7A78.5 78.5 0 0 1 535.1 361.6L528.3 359.8A71.5 71.5 0 0 0 528.8 358.1ZM535.1 361.6L542.5 363.5A86.2 86.2 0 0 1 541.9 365.6L534.6 363.4A78.5 78.5 0 0 0 535.1 361.6ZM541.9 365.6L550 367.9A94.6 94.6 0 0 1 548.6 372.4L540.7 369.6A86.2 86.2 0 0 0 541.9 365.6ZM548.6 372.4L557.4 375.4A103.8 103.8 0 0 1 555.6 380.1L547 376.7A94.6 94.6 0 0 0 548.6 372.4ZM647.7 406.5L666.1 412.9A218.9 218.9 0 0 1 662.4 423L644.3 415.7A199.4 199.4 0 0 0 647.7 406.5ZM565 383.9L575.3 388.1A125.1 125.1 0 0 1 572.9 393.7L562.8 389.1A114 114 0 0 0 565 383.9ZM627.8 409.1L644.3 415.7A199.4 199.4 0 0 1 640.4 424.7L624.3 417.3A181.7 181.7 0 0 0 627.8 409.1ZM584 398.8L609.6 410.6A165.5 165.5 0 0 1 606 417.8L581 404.9A137.3 137.3 0 0 0 584 398.8ZM346.7 396.3L335.7 401.6A137.3 137.3 0 0 1 332.9 395.5L344.2 390.7A125.1 125.1 0 0 0 346.7 396.3ZM310.4 413.9L295.9 421A181.7 181.7 0 0 1 292.2 412.9L307 406.6A165.5 165.5 0 0 0 310.4 413.9ZM363.7 382.3L354.4 386.3A114 114 0 0 1 352.3 381.1L361.8 377.6A103.8 103.8 0 0 0 363.7 382.3ZM254 417.6L233.9 425A240.3 240.3 0 0 1 230.1 413.8L250.5 407.4A218.9 218.9 0 0 0 254 417.6ZM230.1 413.8L207.7 420.9A263.7 263.7 0 0 1 205.8 414.7L228.4 408.2A240.3 240.3 0 0 0 230.1 413.8ZM383.8 363.3L376.4 365.4A86.2 86.2 0 0 1 375.9 363.4L383.3 361.4A78.5 78.5 0 0 0 383.8 363.3ZM205.8 414.7L181.1 421.9A289.5 289.5 0 0 1 179.2 415L204.1 408.5A263.7 263.7 0 0 0 205.8 414.7ZM390 359.7L383.3 361.4A78.5 78.5 0 0 1 382.8 359.6L389.6 358A71.5 71.5 0 0 0 390 359.7ZM395.8 356.5L389.6 358A71.5 71.5 0 0 1 389.2 356.2L395.4 354.9A65.2 65.2 0 0 0 395.8 356.5ZM401.1 353.7L395.4 354.9A65.2 65.2 0 0 1 395.1 353.4L400.8 352.3A59.4 59.4 0 0 0 401.1 353.7ZM400.9 330.6L395.2 329.5A65.2 65.2 0 0 1 395.5 327.9L401.1 329.2A59.4 59.4 0 0 0 400.9 330.6ZM395.5 327.9L389.2 326.6A71.5 71.5 0 0 1 389.6 324.9L395.8 326.4A65.2 65.2 0 0 0 395.5 327.9ZM389.6 324.9L382.8 323.3A78.5 78.5 0 0 1 383.3 321.4L390.1 323.2A71.5 71.5 0 0 0 389.6 324.9ZM383.3 321.4L375.9 319.5A86.2 86.2 0 0 1 376.5 317.4L383.8 319.6A78.5 78.5 0 0 0 383.3 321.4ZM376.5 317.4L368.4 315.1A94.6 94.6 0 0 1 369.8 310.6L377.7 313.4A86.2 86.2 0 0 0 376.5 317.4ZM369.8 310.6L361 307.6A103.8 103.8 0 0 1 362.8 302.9L371.4 306.3A94.6 94.6 0 0 0 369.8 310.6ZM270.7 276.5L252.3 270.1A218.9 218.9 0 0 1 256 260L274.1 267.3A199.4 199.4 0 0 0 270.7 276.5ZM353.4 299.1L343.1 294.9A125.1 125.1 0 0 1 345.5 289.3L355.6 293.9A114 114 0 0 0 353.4 299.1ZM290.6 273.9L274.1 267.3A199.4 199.4 0 0 1 278 258.3L294.1 265.7A181.7 181.7 0 0 0 290.6 273.9ZM334.4 284.2L308.8 272.4A165.5 165.5 0 0 1 312.4 265.2L337.4 278.1A137.3 137.3 0 0 0 334.4 284.2Z"/>
<path fill="#67166e" stroke="#67166e" stroke-width="0.8" d="M582.7 281.4L608 269.1A165.5 165.5 0 0 1 611.4 276.4L585.5 287.5A137.3 137.3 0 0 0 582.7 281.4ZM564 296.7L574.2 292.3A125.1 125.1 0 0 1 576.5 298L566.1 301.9A114 114 0 0 0 564 296.7ZM626.2 270.1L642.5 263.1A199.4 199.4 0 0 1 646.2 272.2L629.5 278.4A181.7 181.7 0 0 0 626.2 270.1ZM547.9 308.6L556.6 305.4A103.8 103.8 0 0 1 558.2 310.2L549.4 313A94.6 94.6 0 0 0 547.9 308.6ZM646.2 272.2L664.4 265.4A218.9 218.9 0 0 1 667.9 275.6L649.3 281.5A199.4 199.4 0 0 0 646.2 272.2ZM541.4 315.6L549.4 313A94.6 94.6 0 0 1 550.1 315.2L542 317.6A86.2 86.2 0 0 0 541.4 315.6ZM667.9 275.6L688.3 269.2A240.3 240.3 0 0 1 690 274.8L669.5 280.7A218.9 218.9 0 0 0 667.9 275.6ZM690 274.8L712.6 268.3A263.7 263.7 0 0 1 714.3 274.5L691.6 280.5A240.3 240.3 0 0 0 690 274.8ZM535.1 321.6L542.5 319.6A86.2 86.2 0 0 1 543.1 321.7L535.6 323.4A78.5 78.5 0 0 0 535.1 321.6ZM714.3 274.5L739.2 268A289.5 289.5 0 0 1 740.9 274.9L715.9 280.8A263.7 263.7 0 0 0 714.3 274.5ZM528.8 325L535.6 323.4A78.5 78.5 0 0 1 536 325.3L529.2 326.8A71.5 71.5 0 0 0 528.8 325ZM740.9 274.9L768.5 268.4A317.8 317.8 0 0 1 770.2 276L742.5 281.8A289.5 289.5 0 0 0 740.9 274.9ZM523 328.1L529.2 326.8A71.5 71.5 0 0 1 529.5 328.5L523.3 329.6A65.2 65.2 0 0 0 523 328.1ZM770.2 276L798.5 270A346.8 346.8 0 0 1 800.2 278.3L771.7 283.6A317.8 317.8 0 0 0 770.2 276ZM512.4 331.7L517.6 330.7A59.4 59.4 0 0 1 517.8 332.1L512.6 333A54.1 54.1 0 0 0 512.4 331.7ZM512.6 350.1L523.5 351.9A65.2 65.2 0 0 1 523.2 353.5L512.3 351.4A54.1 54.1 0 0 0 512.6 350.1ZM523.2 353.5L529.5 354.7A71.5 71.5 0 0 1 529.2 356.4L522.9 355.1A65.2 65.2 0 0 0 523.2 353.5ZM771.6 400L800.1 405.3A346.8 346.8 0 0 1 798.4 413.6L770 407.6A317.8 317.8 0 0 0 771.6 400ZM529.2 356.4L536 357.8A78.5 78.5 0 0 1 535.6 359.7L528.8 358.1A71.5 71.5 0 0 0 529.2 356.4ZM742.4 401.7L770 407.6A317.8 317.8 0 0 1 768.3 415.2L740.8 408.7A289.5 289.5 0 0 0 742.4 401.7ZM535.6 359.7L543 361.5A86.2 86.2 0 0 1 542.5 363.5L535.1 361.6A78.5 78.5 0 0 0 535.6 359.7ZM715.7 402.7L740.8 408.7A289.5 289.5 0 0 1 739.1 415.5L714.2 409A263.7 263.7 0 0 0 715.7 402.7ZM691.5 402.9L714.2 409A263.7 263.7 0 0 1 712.4 415.2L689.9 408.6A240.3 240.3 0 0 0 691.5 402.9ZM669.4 402.7L689.9 408.6A240.3 240.3 0 0 1 686.3 419.9L666.1 412.9A218.9 218.9 0 0 0 669.4 402.7ZM557.4 375.4L566.9 378.7A114 114 0 0 1 565 383.9L555.6 380.1A103.8 103.8 0 0 0 557.4 375.4ZM575.3 388.1L627.8 409.1A181.7 181.7 0 0 1 624.3 417.3L572.9 393.7A125.1 125.1 0 0 0 575.3 388.1ZM335.7 401.6L310.4 413.9A165.5 165.5 0 0 1 307 406.6L332.9 395.5A137.3 137.3 0 0 0 335.7 401.6ZM354.4 386.3L344.2 390.7A125.1 125.1 0 0 1 341.9 385L352.3 381.1A114 114 0 0 0 354.4 386.3ZM292.2 412.9L275.9 419.9A199.4 199.4 0 0 1 272.2 410.8L288.9 404.6A181.7 181.7 0 0 0 292.2 412.9ZM370.5 374.4L361.8 377.6A103.8 103.8 0 0 1 360.2 372.8L369 370A94.6 94.6 0 0 0 370.5 374.4ZM272.2 410.8L254 417.6A218.9 218.9 0 0 1 250.5 407.4L269.1 401.5A199.4 199.4 0 0 0 272.2 410.8ZM377 367.4L369 370A94.6 94.6 0 0 1 368.3 367.8L376.4 365.4A86.2 86.2 0 0 0 377 367.4ZM250.5 407.4L230.1 413.8A240.3 240.3 0 0 1 228.4 408.2L248.9 402.3A218.9 218.9 0 0 0 250.5 407.4ZM228.4 408.2L205.8 414.7A263.7 263.7 0 0 1 204.1 408.5L226.8 402.5A240.3 240.3 0 0 0 228.4 408.2ZM383.3 361.4L375.9 363.4A86.2 86.2 0 0 1 375.3 361.3L382.8 359.6A78.5 78.5 0 0 0 383.3 361.4ZM204.1 408.5L179.2 415A289.5 289.5 0 0 1 177.5 408.1L202.5 402.2A263.7 263.7 0 0 0 204.1 408.5ZM389.6 358L382.8 359.6A78.5 78.5 0 0 1 382.4 357.7L389.2 356.2A71.5 71.5 0 0 0 389.6 358ZM177.5 408.1L149.9 414.6A317.8 317.8 0 0 1 148.2 407L175.9 401.2A289.5 289.5 0 0 0 177.5 408.1ZM395.4 354.9L389.2 356.2A71.5 71.5 0 0 1 388.9 354.5L395.1 353.4A65.2 65.2 0 0 0 395.4 354.9ZM148.2 407L119.9 413A346.8 346.8 0 0 1 118.2 404.7L146.7 399.4A317.8 317.8 0 0 0 148.2 407ZM406 351.3L400.8 352.3A59.4 59.4 0 0 1 400.6 350.9L405.8 350A54.1 54.1 0 0 0 406 351.3ZM405.8 332.9L394.9 331.1A65.2 65.2 0 0 1 395.2 329.5L406.1 331.6A54.1 54.1 0 0 0 405.8 332.9ZM395.2 329.5L388.9 328.3A71.5 71.5 0 0 1 389.2 326.6L395.5 327.9A65.2 65.2 0 0 0 395.2 329.5ZM146.8 283L118.3 277.7A346.8 346.8 0 0 1 120 269.4L148.4 275.4A317.8 317.8 0 0 0 146.8 283ZM389.2 326.6L382.4 325.2A78.5 78.5 0 0 1 382.8 323.3L389.6 324.9A71.5 71.5 0 0 0 389.2 326.6ZM176 281.3L148.4 275.4A317.8 317.8 0 0 1 150.1 267.8L177.6 274.3A289.5 289.5 0 0 0 176 281.3ZM382.8 323.3L375.4 321.5A86.2 86.2 0 0 1 375.9 319.5L383.3 321.4A78.5 78.5 0 0 0 382.8 323.3ZM202.7 280.3L177.6 274.3A289.5 289.5 0 0 1 179.3 267.5L204.2 274A263.7 263.7 0 0 0 202.7 280.3ZM226.9 280L204.2 274A263.7 263.7 0 0 1 206 267.8L228.5 274.4A240.3 240.3 0 0 0 226.9 280ZM249 280.3L228.5 274.4A240.3 240.3 0 0 1 232.1 263.1L252.3 270.1A218.9 218.9 0 0 0 249 280.3ZM361 307.6L351.5 304.3A114 114 0 0 1 353.4 299.1L362.8 302.9A103.8 103.8 0 0 0 361 307.6ZM343.1 294.9L290.6 273.9A181.7 181.7 0 0 1 294.1 265.7L345.5 289.3A125.1 125.1 0 0 0 343.1 294.9Z"/>
<path fill="#69166e" stroke="#69166e" stroke-width="0.8" d="M574.2 292.3L626.2 270.1A181.7 181.7 0 0 1 629.5 278.4L576.5 298A125.1 125.1 0 0 0 574.2 292.3ZM556.6 305.4L566.1 301.9A114 114 0 0 1 567.9 307.2L558.2 310.2A103.8 103.8 0 0 0 556.6 305.4ZM549.4 313L558.2 310.2A103.8 103.8 0 0 1 559 312.7L550.1 315.2A94.6 94.6 0 0 0 549.4 313ZM542 317.6L550.1 315.2A94.6 94.6 0 0 1 550.7 317.5L542.5 319.6A86.2 86.2 0 0 0 542 317.6ZM691.6 280.5L714.3 274.5A263.7 263.7 0 0 1 715.9 280.8L693 286.2A240.3 240.3 0 0 0 691.6 280.5ZM715.9 280.8L740.9 274.9A289.5 289.5 0 0 1 742.5 281.8L717.3 287.1A263.7 263.7 0 0 0 715.9 280.8ZM742.5 281.8L770.2 276A317.8 317.8 0 0 1 771.7 283.6L743.9 288.8A289.5 289.5 0 0 0 742.5 281.8ZM517.6 330.7L523.3 329.6A65.2 65.2 0 0 1 523.5 331.2L517.8 332.1A59.4 59.4 0 0 0 517.6 330.7ZM771.7 283.6L800.2 278.3A346.8 346.8 0 0 1 801.6 286.7L773 291.3A317.8 317.8 0 0 0 771.7 283.6ZM512.6 333L517.8 332.1A59.4 59.4 0 0 1 518 333.6L512.8 334.3A54.1 54.1 0 0 0 512.6 333ZM512.8 348.8L518 349.5A59.4 59.4 0 0 1 517.8 351L512.6 350.1A54.1 54.1 0 0 0 512.8 348.8ZM772.9 392.3L801.5 396.9A346.8 346.8 0 0 1 800.1 405.3L771.6 400A317.8 317.8 0 0 0 772.9 392.3ZM529.5 354.7L536.4 355.9A78.5 78.5 0 0 1 536 357.8L529.2 356.4A71.5 71.5 0 0 0 529.5 354.7ZM743.8 394.8L771.6 400A317.8 317.8 0 0 1 770 407.6L742.4 401.7A289.5 289.5 0 0 0 743.8 394.8ZM717.2 396.4L742.4 401.7A289.5 289.5 0 0 1 740.8 408.7L715.7 402.7A263.7 263.7 0 0 0 717.2 396.4ZM692.9 397.2L715.7 402.7A263.7 263.7 0 0 1 714.2 409L691.5 402.9A240.3 240.3 0 0 0 692.9 397.2ZM542.5 363.5L550.6 365.7A94.6 94.6 0 0 1 550 367.9L541.9 365.6A86.2 86.2 0 0 0 542.5 363.5ZM550 367.9L558.9 370.5A103.8 103.8 0 0 1 557.4 375.4L548.6 372.4A94.6 94.6 0 0 0 550 367.9ZM650.7 397.2L669.4 402.7A218.9 218.9 0 0 1 666.1 412.9L647.7 406.5A199.4 199.4 0 0 0 650.7 397.2ZM566.9 378.7L577.5 382.3A125.1 125.1 0 0 1 575.3 388.1L565 383.9A114 114 0 0 0 566.9 378.7ZM630.9 400.8L647.7 406.5A199.4 199.4 0 0 1 644.3 415.7L627.8 409.1A181.7 181.7 0 0 0 630.9 400.8ZM344.2 390.7L292.2 412.9A181.7 181.7 0 0 1 288.9 404.6L341.9 385A125.1 125.1 0 0 0 344.2 390.7ZM361.8 377.6L352.3 381.1A114 114 0 0 1 350.5 375.8L360.2 372.8A103.8 103.8 0 0 0 361.8 377.6ZM369 370L360.2 372.8A103.8 103.8 0 0 1 359.4 370.3L368.3 367.8A94.6 94.6 0 0 0 369 370ZM376.4 365.4L368.3 367.8A94.6 94.6 0 0 1 367.7 365.5L375.9 363.4A86.2 86.2 0 0 0 376.4 365.4ZM226.8 402.5L204.1 408.5A263.7 263.7 0 0 1 202.5 402.2L225.4 396.8A240.3 240.3 0 0 0 226.8 402.5ZM202.5 402.2L177.5 408.1A289.5 289.5 0 0 1 175.9 401.2L201.1 395.9A263.7 263.7 0 0 0 202.5 402.2ZM175.9 401.2L148.2 407A317.8 317.8 0 0 1 146.7 399.4L174.5 394.2A289.5 289.5 0 0 0 175.9 401.2ZM400.8 352.3L395.1 353.4A65.2 65.2 0 0 1 394.9 351.8L400.6 350.9A59.4 59.4 0 0 0 400.8 352.3ZM146.7 399.4L118.2 404.7A346.8 346.8 0 0 1 116.8 396.3L145.4 391.7A317.8 317.8 0 0 0 146.7 399.4ZM405.8 350L400.6 350.9A59.4 59.4 0 0 1 400.4 349.4L405.6 348.7A54.1 54.1 0 0 0 405.8 350ZM405.6 334.2L400.4 333.5A59.4 59.4 0 0 1 400.6 332L405.8 332.9A54.1 54.1 0 0 0 405.6 334.2ZM145.5 290.7L116.9 286.1A346.8 346.8 0 0 1 118.3 277.7L146.8 283A317.8 317.8 0 0 0 145.5 290.7ZM388.9 328.3L382 327.1A78.5 78.5 0 0 1 382.4 325.2L389.2 326.6A71.5 71.5 0 0 0 388.9 328.3ZM174.6 288.2L146.8 283A317.8 317.8 0 0 1 148.4 275.4L176 281.3A289.5 289.5 0 0 0 174.6 288.2ZM201.2 286.6L176 281.3A289.5 289.5 0 0 1 177.6 274.3L202.7 280.3A263.7 263.7 0 0 0 201.2 286.6ZM225.5 285.8L202.7 280.3A263.7 263.7 0 0 1 204.2 274L226.9 280A240.3 240.3 0 0 0 225.5 285.8ZM375.9 319.5L367.8 317.3A94.6 94.6 0 0 1 368.4 315.1L376.5 317.4A86.2 86.2 0 0 0 375.9 319.5ZM368.4 315.1L359.5 312.5A103.8 103.8 0 0 1 361 307.6L369.8 310.6A94.6 94.6 0 0 0 368.4 315.1ZM267.7 285.8L249 280.3A218.9 218.9 0 0 1 252.3 270.1L270.7 276.5A199.4 199.4 0 0 0 267.7 285.8ZM351.5 304.3L340.9 300.7A125.1 125.1 0 0 1 343.1 294.9L353.4 299.1A114 114 0 0 0 351.5 304.3ZM287.5 282.2L270.7 276.5A199.4 199.4 0 0 1 274.1 267.3L290.6 273.9A181.7 181.7 0 0 0 287.5 282.2Z"/>
<path fill="#6d186e" stroke="#6d186e" stroke-width="0.8" d="M576.5 298L629.5 278.4A181.7 181.7 0 0 1 632.4 286.8L578.5 303.8A125.1 125.1 0 0 0 576.5 298ZM558.2 310.2L567.9 307.2A114 114 0 0 1 568.7 309.9L559 312.7A103.8 103.8 0 0 0 558.2 310.2ZM632.4 286.8L649.3 281.5A199.4 199.4 0 0 1 650.8 286.1L633.7 291.1A181.7 181.7 0 0 0 632.4 286.8ZM650.8 286.1L669.5 280.7A218.9 218.9 0 0 1 670.9 285.9L652.1 290.9A199.4 199.4 0 0 0 650.8 286.1ZM670.9 285.9L691.6 280.5A240.3 240.3 0 0 1 693 286.2L672.2 291.1A218.9 218.9 0 0 0 670.9 285.9ZM543.1 321.7L551.3 319.7A94.6 94.6 0 0 1 551.8 322L543.5 323.7A86.2 86.2 0 0 0 543.1 321.7ZM693 286.2L715.9 280.8A263.7 263.7 0 0 1 717.3 287.1L694.3 292A240.3 240.3 0 0 0 693 286.2ZM536 325.3L543.5 323.7A86.2 86.2 0 0 1 543.9 325.8L536.4 327.2A78.5 78.5 0 0 0 536 325.3ZM529.5 328.5L536.4 327.2A78.5 78.5 0 0 1 536.7 329.1L529.8 330.2A71.5 71.5 0 0 0 529.5 328.5ZM523.5 331.2L529.8 330.2A71.5 71.5 0 0 1 530.1 331.9L523.8 332.8A65.2 65.2 0 0 0 523.5 331.2ZM773 291.3L801.6 286.7A346.8 346.8 0 0 1 802.9 295.1L774.1 299A317.8 317.8 0 0 0 773 291.3ZM512.8 334.3L518 333.6A59.4 59.4 0 0 1 518.2 335L512.9 335.6A54.1 54.1 0 0 0 512.8 334.3ZM512.9 347.5L518.2 348.1A59.4 59.4 0 0 1 518 349.5L512.8 348.8A54.1 54.1 0 0 0 512.9 347.5ZM523.7 350.3L530.1 351.2A71.5 71.5 0 0 1 529.8 352.9L523.5 351.9A65.2 65.2 0 0 0 523.7 350.3ZM774.1 384.6L802.8 388.5A346.8 346.8 0 0 1 801.5 396.9L772.9 392.3A317.8 317.8 0 0 0 774.1 384.6ZM529.8 352.9L536.7 354A78.5 78.5 0 0 1 536.4 355.9L529.5 354.7A71.5 71.5 0 0 0 529.8 352.9ZM536.4 355.9L543.9 357.4A86.2 86.2 0 0 1 543.5 359.4L536 357.8A78.5 78.5 0 0 0 536.4 355.9ZM543.5 359.4L551.7 361.2A94.6 94.6 0 0 1 551.2 363.4L543 361.5A86.2 86.2 0 0 0 543.5 359.4ZM694.2 391.5L717.2 396.4A263.7 263.7 0 0 1 715.7 402.7L692.9 397.2A240.3 240.3 0 0 0 694.2 391.5ZM551.2 363.4L560.2 365.6A103.8 103.8 0 0 1 559.6 368.1L550.6 365.7A94.6 94.6 0 0 0 551.2 363.4ZM672.1 392.3L692.9 397.2A240.3 240.3 0 0 1 691.5 402.9L670.8 397.5A218.9 218.9 0 0 0 672.1 392.3ZM652 392.5L670.8 397.5A218.9 218.9 0 0 1 669.4 402.7L650.7 397.2A199.4 199.4 0 0 0 652 392.5ZM568.6 373.3L579.3 376.5A125.1 125.1 0 0 1 577.5 382.3L566.9 378.7A114 114 0 0 0 568.6 373.3ZM633.6 392.3L650.7 397.2A199.4 199.4 0 0 1 647.7 406.5L630.9 400.8A181.7 181.7 0 0 0 633.6 392.3ZM341.9 385L288.9 404.6A181.7 181.7 0 0 1 286 396.2L339.9 379.2A125.1 125.1 0 0 0 341.9 385ZM360.2 372.8L350.5 375.8A114 114 0 0 1 349.7 373.1L359.4 370.3A103.8 103.8 0 0 0 360.2 372.8ZM286 396.2L269.1 401.5A199.4 199.4 0 0 1 267.6 396.9L284.7 391.9A181.7 181.7 0 0 0 286 396.2ZM267.6 396.9L248.9 402.3A218.9 218.9 0 0 1 247.5 397.1L266.3 392.1A199.4 199.4 0 0 0 267.6 396.9ZM247.5 397.1L226.8 402.5A240.3 240.3 0 0 1 225.4 396.8L246.2 391.9A218.9 218.9 0 0 0 247.5 397.1ZM375.3 361.3L367.1 363.3A94.6 94.6 0 0 1 366.6 361L374.9 359.3A86.2 86.2 0 0 0 375.3 361.3ZM225.4 396.8L202.5 402.2A263.7 263.7 0 0 1 201.1 395.9L224.1 391A240.3 240.3 0 0 0 225.4 396.8ZM382.4 357.7L374.9 359.3A86.2 86.2 0 0 1 374.5 357.2L382 355.8A78.5 78.5 0 0 0 382.4 357.7ZM388.9 354.5L382 355.8A78.5 78.5 0 0 1 381.7 353.9L388.6 352.8A71.5 71.5 0 0 0 388.9 354.5ZM394.9 351.8L388.6 352.8A71.5 71.5 0 0 1 388.3 351.1L394.6 350.2A65.2 65.2 0 0 0 394.9 351.8ZM145.4 391.7L116.8 396.3A346.8 346.8 0 0 1 115.5 387.9L144.3 384A317.8 317.8 0 0 0 145.4 391.7ZM405.6 348.7L400.4 349.4A59.4 59.4 0 0 1 400.2 348L405.5 347.4A54.1 54.1 0 0 0 405.6 348.7ZM405.5 335.5L400.2 334.9A59.4 59.4 0 0 1 400.4 333.5L405.6 334.2A54.1 54.1 0 0 0 405.5 335.5ZM394.7 332.7L388.3 331.8A71.5 71.5 0 0 1 388.6 330.1L394.9 331.1A65.2 65.2 0 0 0 394.7 332.7ZM144.3 298.4L115.6 294.5A346.8 346.8 0 0 1 116.9 286.1L145.5 290.7A317.8 317.8 0 0 0 144.3 298.4ZM388.6 330.1L381.7 329A78.5 78.5 0 0 1 382 327.1L388.9 328.3A71.5 71.5 0 0 0 388.6 330.1ZM382 327.1L374.5 325.6A86.2 86.2 0 0 1 374.9 323.6L382.4 325.2A78.5 78.5 0 0 0 382 327.1ZM374.9 323.6L366.7 321.8A94.6 94.6 0 0 1 367.2 319.6L375.4 321.5A86.2 86.2 0 0 0 374.9 323.6ZM224.2 291.5L201.2 286.6A263.7 263.7 0 0 1 202.7 280.3L225.5 285.8A240.3 240.3 0 0 0 224.2 291.5ZM367.2 319.6L358.2 317.4A103.8 103.8 0 0 1 358.8 314.9L367.8 317.3A94.6 94.6 0 0 0 367.2 319.6ZM246.3 290.7L225.5 285.8A240.3 240.3 0 0 1 226.9 280L247.6 285.5A218.9 218.9 0 0 0 246.3 290.7ZM266.4 290.5L247.6 285.5A218.9 218.9 0 0 1 249 280.3L267.7 285.8A199.4 199.4 0 0 0 266.4 290.5ZM349.8 309.7L339.1 306.5A125.1 125.1 0 0 1 340.9 300.7L351.5 304.3A114 114 0 0 0 349.8 309.7ZM284.8 290.7L267.7 285.8A199.4 199.4 0 0 1 270.7 276.5L287.5 282.2A181.7 181.7 0 0 0 284.8 290.7Z"/>
<path fill="#6f196e" stroke="#6f196e" stroke-width="0.8" d="M567.9 307.2L578.5 303.8A125.1 125.1 0 0 1 579.4 306.8L568.7 309.9A114 114 0 0 0 567.9 307.2ZM617 291.7L632.4 286.8A181.7 181.7 0 0 1 633.7 291.1L618.2 295.6A165.5 165.5 0 0 0 617 291.7ZM559 312.7L568.7 309.9A114 114 0 0 1 569.4 312.6L559.6 315.1A103.8 103.8 0 0 0 559 312.7ZM550.7 317.5L559.6 315.1A103.8 103.8 0 0 1 560.2 317.6L551.3 319.7A94.6 94.6 0 0 0 550.7 317.5ZM652.1 290.9L670.9 285.9A218.9 218.9 0 0 1 672.2 291.1L653.2 295.6A199.4 199.4 0 0 0 652.1 290.9ZM672.2 291.1L693 286.2A240.3 240.3 0 0 1 694.3 292L673.4 296.4A218.9 218.9 0 0 0 672.2 291.1ZM694.3 292L717.3 287.1A263.7 263.7 0 0 1 718.5 293.5L695.4 297.7A240.3 240.3 0 0 0 694.3 292ZM536.4 327.2L543.9 325.8A86.2 86.2 0 0 1 544.3 327.9L536.7 329.1A78.5 78.5 0 0 0 536.4 327.2ZM718.5 293.5L743.9 288.8A289.5 289.5 0 0 1 745.1 295.8L719.6 299.8A263.7 263.7 0 0 0 718.5 293.5ZM745.1 295.8L773 291.3A317.8 317.8 0 0 1 774.1 299L746.1 302.8A289.5 289.5 0 0 0 745.1 295.8ZM518 333.6L523.8 332.8A65.2 65.2 0 0 1 524 334.4L518.2 335A59.4 59.4 0 0 0 518 333.6ZM774.1 299L802.9 295.1A346.8 346.8 0 0 1 803.9 303.6L775.1 306.8A317.8 317.8 0 0 0 774.1 299ZM518.2 348.1L523.9 348.7A65.2 65.2 0 0 1 523.7 350.3L518 349.5A59.4 59.4 0 0 0 518.2 348.1ZM775 376.8L803.9 380A346.8 346.8 0 0 1 802.8 388.5L774.1 384.6A317.8 317.8 0 0 0 775 376.8ZM530.1 351.2L537 352.1A78.5 78.5 0 0 1 536.7 354L529.8 352.9A71.5 71.5 0 0 0 530.1 351.2ZM746 380.7L774.1 384.6A317.8 317.8 0 0 1 772.9 392.3L745 387.8A289.5 289.5 0 0 0 746 380.7ZM536.7 354L544.3 355.3A86.2 86.2 0 0 1 543.9 357.4L536.4 355.9A78.5 78.5 0 0 0 536.7 354ZM719.5 383.6L745 387.8A289.5 289.5 0 0 1 743.8 394.8L718.4 390A263.7 263.7 0 0 0 719.5 383.6ZM543.9 357.4L552.2 358.9A94.6 94.6 0 0 1 551.7 361.2L543.5 359.4A86.2 86.2 0 0 0 543.9 357.4ZM695.4 385.7L718.4 390A263.7 263.7 0 0 1 717.2 396.4L694.2 391.5A240.3 240.3 0 0 0 695.4 385.7ZM673.3 387L694.2 391.5A240.3 240.3 0 0 1 692.9 397.2L672.1 392.3A218.9 218.9 0 0 0 673.3 387ZM653.2 387.8L672.1 392.3A218.9 218.9 0 0 1 670.8 397.5L652 392.5A199.4 199.4 0 0 0 653.2 387.8ZM559.6 368.1L569.4 370.7A114 114 0 0 1 568.6 373.3L558.9 370.5A103.8 103.8 0 0 0 559.6 368.1ZM634.8 388L652 392.5A199.4 199.4 0 0 1 650.7 397.2L633.6 392.3A181.7 181.7 0 0 0 634.8 388ZM579.3 376.5L633.6 392.3A181.7 181.7 0 0 1 630.9 400.8L577.5 382.3A125.1 125.1 0 0 0 579.3 376.5ZM350.5 375.8L339.9 379.2A125.1 125.1 0 0 1 339 376.2L349.7 373.1A114 114 0 0 0 350.5 375.8ZM301.4 391.3L286 396.2A181.7 181.7 0 0 1 284.7 391.9L300.2 387.4A165.5 165.5 0 0 0 301.4 391.3ZM359.4 370.3L349.7 373.1A114 114 0 0 1 349 370.4L358.8 367.9A103.8 103.8 0 0 0 359.4 370.3ZM367.7 365.5L358.8 367.9A103.8 103.8 0 0 1 358.2 365.4L367.1 363.3A94.6 94.6 0 0 0 367.7 365.5ZM266.3 392.1L247.5 397.1A218.9 218.9 0 0 1 246.2 391.9L265.2 387.4A199.4 199.4 0 0 0 266.3 392.1ZM246.2 391.9L225.4 396.8A240.3 240.3 0 0 1 224.1 391L245 386.6A218.9 218.9 0 0 0 246.2 391.9ZM224.1 391L201.1 395.9A263.7 263.7 0 0 1 199.9 389.5L223 385.3A240.3 240.3 0 0 0 224.1 391ZM382 355.8L374.5 357.2A86.2 86.2 0 0 1 374.1 355.1L381.7 353.9A78.5 78.5 0 0 0 382 355.8ZM199.9 389.5L174.5 394.2A289.5 289.5 0 0 1 173.3 387.2L198.8 383.2A263.7 263.7 0 0 0 199.9 389.5ZM173.3 387.2L145.4 391.7A317.8 317.8 0 0 1 144.3 384L172.3 380.2A289.5 289.5 0 0 0 173.3 387.2ZM400.4 349.4L394.6 350.2A65.2 65.2 0 0 1 394.4 348.6L400.2 348A59.4 59.4 0 0 0 400.4 349.4ZM144.3 384L115.5 387.9A346.8 346.8 0 0 1 114.5 379.4L143.3 376.2A317.8 317.8 0 0 0 144.3 384ZM400.2 334.9L394.5 334.3A65.2 65.2 0 0 1 394.7 332.7L400.4 333.5A59.4 59.4 0 0 0 400.2 334.9ZM143.4 306.2L114.5 303A346.8 346.8 0 0 1 115.6 294.5L144.3 298.4A317.8 317.8 0 0 0 143.4 306.2ZM388.3 331.8L381.4 330.9A78.5 78.5 0 0 1 381.7 329L388.6 330.1A71.5 71.5 0 0 0 388.3 331.8ZM172.4 302.3L144.3 298.4A317.8 317.8 0 0 1 145.5 290.7L173.4 295.2A289.5 289.5 0 0 0 172.4 302.3ZM381.7 329L374.1 327.7A86.2 86.2 0 0 1 374.5 325.6L382 327.1A78.5 78.5 0 0 0 381.7 329ZM198.9 299.4L173.4 295.2A289.5 289.5 0 0 1 174.6 288.2L200 293A263.7 263.7 0 0 0 198.9 299.4ZM374.5 325.6L366.2 324.1A94.6 94.6 0 0 1 366.7 321.8L374.9 323.6A86.2 86.2 0 0 0 374.5 325.6ZM223 297.3L200 293A263.7 263.7 0 0 1 201.2 286.6L224.2 291.5A240.3 240.3 0 0 0 223 297.3ZM245.1 296L224.2 291.5A240.3 240.3 0 0 1 225.5 285.8L246.3 290.7A218.9 218.9 0 0 0 245.1 296ZM265.2 295.2L246.3 290.7A218.9 218.9 0 0 1 247.6 285.5L266.4 290.5A199.4 199.4 0 0 0 265.2 295.2ZM358.8 314.9L349 312.3A114 114 0 0 1 349.8 309.7L359.5 312.5A103.8 103.8 0 0 0 358.8 314.9ZM283.6 295L266.4 290.5A199.4 199.4 0 0 1 267.7 285.8L284.8 290.7A181.7 181.7 0 0 0 283.6 295ZM339.1 306.5L284.8 290.7A181.7 181.7 0 0 1 287.5 282.2L340.9 300.7A125.1 125.1 0 0 0 339.1 306.5Z"/>
<path fill="#71196e" stroke="#71196e" stroke-width="0.8" d="M578.5 303.8L617 291.7A165.5 165.5 0 0 1 618.2 295.6L579.4 306.8A125.1 125.1 0 0 0 578.5 303.8ZM568.7 309.9L579.4 306.8A125.1 125.1 0 0 1 580.2 309.7L569.4 312.6A114 114 0 0 0 568.7 309.9ZM633.7 291.1L650.8 286.1A199.4 199.4 0 0 1 652.1 290.9L634.9 295.4A181.7 181.7 0 0 0 633.7 291.1ZM559.6 315.1L569.4 312.6A114 114 0 0 1 570.1 315.3L560.2 317.6A103.8 103.8 0 0 0 559.6 315.1ZM551.3 319.7L560.2 317.6A103.8 103.8 0 0 1 560.8 320.1L551.8 322A94.6 94.6 0 0 0 551.3 319.7ZM543.5 323.7L551.8 322A94.6 94.6 0 0 1 552.2 324.3L543.9 325.8A86.2 86.2 0 0 0 543.5 323.7ZM695.4 297.7L718.5 293.5A263.7 263.7 0 0 1 719.6 299.8L696.4 303.6A240.3 240.3 0 0 0 695.4 297.7ZM529.8 330.2L536.7 329.1A78.5 78.5 0 0 1 537 331L530.1 331.9A71.5 71.5 0 0 0 529.8 330.2ZM719.6 299.8L745.1 295.8A289.5 289.5 0 0 1 746.1 302.8L720.6 306.2A263.7 263.7 0 0 0 719.6 299.8ZM523.8 332.8L530.1 331.9A71.5 71.5 0 0 1 530.3 333.7L524 334.4A65.2 65.2 0 0 0 523.8 332.8ZM512.9 335.6L518.2 335A59.4 59.4 0 0 1 518.3 336.5L513.1 336.9A54.1 54.1 0 0 0 512.9 335.6ZM513.1 346.2L524.1 347.1A65.2 65.2 0 0 1 523.9 348.7L512.9 347.5A54.1 54.1 0 0 0 513.1 346.2ZM523.9 348.7L530.3 349.4A71.5 71.5 0 0 1 530.1 351.2L523.7 350.3A65.2 65.2 0 0 0 523.9 348.7ZM720.5 377.2L746 380.7A289.5 289.5 0 0 1 745 387.8L719.5 383.6A263.7 263.7 0 0 0 720.5 377.2ZM696.4 379.9L719.5 383.6A263.7 263.7 0 0 1 718.4 390L695.4 385.7A240.3 240.3 0 0 0 696.4 379.9ZM674.3 381.8L695.4 385.7A240.3 240.3 0 0 1 694.2 391.5L673.3 387A218.9 218.9 0 0 0 674.3 381.8ZM551.7 361.2L560.8 363.1A103.8 103.8 0 0 1 560.2 365.6L551.2 363.4A94.6 94.6 0 0 0 551.7 361.2ZM560.2 365.6L570.1 367.9A114 114 0 0 1 569.4 370.7L559.6 368.1A103.8 103.8 0 0 0 560.2 365.6ZM569.4 370.7L580.2 373.5A125.1 125.1 0 0 1 579.3 376.5L568.6 373.3A114 114 0 0 0 569.4 370.7ZM619.2 383.8L634.8 388A181.7 181.7 0 0 1 633.6 392.3L618.1 387.7A165.5 165.5 0 0 0 619.2 383.8ZM339.9 379.2L301.4 391.3A165.5 165.5 0 0 1 300.2 387.4L339 376.2A125.1 125.1 0 0 0 339.9 379.2ZM349.7 373.1L339 376.2A125.1 125.1 0 0 1 338.2 373.3L349 370.4A114 114 0 0 0 349.7 373.1ZM284.7 391.9L267.6 396.9A199.4 199.4 0 0 1 266.3 392.1L283.5 387.6A181.7 181.7 0 0 0 284.7 391.9ZM358.8 367.9L349 370.4A114 114 0 0 1 348.3 367.7L358.2 365.4A103.8 103.8 0 0 0 358.8 367.9ZM367.1 363.3L358.2 365.4A103.8 103.8 0 0 1 357.6 362.9L366.6 361A94.6 94.6 0 0 0 367.1 363.3ZM374.9 359.3L366.6 361A94.6 94.6 0 0 1 366.2 358.7L374.5 357.2A86.2 86.2 0 0 0 374.9 359.3ZM223 385.3L199.9 389.5A263.7 263.7 0 0 1 198.8 383.2L222 379.4A240.3 240.3 0 0 0 223 385.3ZM388.6 352.8L381.7 353.9A78.5 78.5 0 0 1 381.4 352L388.3 351.1A71.5 71.5 0 0 0 388.6 352.8ZM198.8 383.2L173.3 387.2A289.5 289.5 0 0 1 172.3 380.2L197.8 376.8A263.7 263.7 0 0 0 198.8 383.2ZM394.6 350.2L388.3 351.1A71.5 71.5 0 0 1 388.1 349.3L394.4 348.6A65.2 65.2 0 0 0 394.6 350.2ZM405.5 347.4L400.2 348A59.4 59.4 0 0 1 400.1 346.5L405.3 346.1A54.1 54.1 0 0 0 405.5 347.4ZM405.3 336.8L394.3 335.9A65.2 65.2 0 0 1 394.5 334.3L405.5 335.5A54.1 54.1 0 0 0 405.3 336.8ZM394.5 334.3L388.1 333.6A71.5 71.5 0 0 1 388.3 331.8L394.7 332.7A65.2 65.2 0 0 0 394.5 334.3ZM197.9 305.8L172.4 302.3A289.5 289.5 0 0 1 173.4 295.2L198.9 299.4A263.7 263.7 0 0 0 197.9 305.8ZM222 303.1L198.9 299.4A263.7 263.7 0 0 1 200 293L223 297.3A240.3 240.3 0 0 0 222 303.1ZM244.1 301.2L223 297.3A240.3 240.3 0 0 1 224.2 291.5L245.1 296A218.9 218.9 0 0 0 244.1 301.2ZM366.7 321.8L357.6 319.9A103.8 103.8 0 0 1 358.2 317.4L367.2 319.6A94.6 94.6 0 0 0 366.7 321.8ZM358.2 317.4L348.3 315.1A114 114 0 0 1 349 312.3L358.8 314.9A103.8 103.8 0 0 0 358.2 317.4ZM349 312.3L338.2 309.5A125.1 125.1 0 0 1 339.1 306.5L349.8 309.7A114 114 0 0 0 349 312.3ZM299.2 299.2L283.6 295A181.7 181.7 0 0 1 284.8 290.7L300.3 295.3A165.5 165.5 0 0 0 299.2 299.2Z"/>
<path fill="#721a6e" stroke="#721a6e" stroke-width="0.8" d="M579.4 306.8L633.7 291.1A181.7 181.7 0 0 1 634.9 295.4L580.2 309.7A125.1 125.1 0 0 0 579.4 306.8ZM569.4 312.6L580.2 309.7A125.1 125.1 0 0 1 581 312.7L570.1 315.3A114 114 0 0 0 569.4 312.6ZM634.9 295.4L652.1 290.9A199.4 199.4 0 0 1 653.2 295.6L636 299.7A181.7 181.7 0 0 0 634.9 295.4ZM560.2 317.6L570.1 315.3A114 114 0 0 1 570.7 318L560.8 320.1A103.8 103.8 0 0 0 560.2 317.6ZM653.2 295.6L672.2 291.1A218.9 218.9 0 0 1 673.4 296.4L654.3 300.4A199.4 199.4 0 0 0 653.2 295.6ZM551.8 322L560.8 320.1A103.8 103.8 0 0 1 561.3 322.6L552.2 324.3A94.6 94.6 0 0 0 551.8 322ZM673.4 296.4L694.3 292A240.3 240.3 0 0 1 695.4 297.7L674.4 301.6A218.9 218.9 0 0 0 673.4 296.4ZM543.9 325.8L552.2 324.3A94.6 94.6 0 0 1 552.6 326.6L544.3 327.9A86.2 86.2 0 0 0 543.9 325.8ZM536.7 329.1L544.3 327.9A86.2 86.2 0 0 1 544.6 330L537 331A78.5 78.5 0 0 0 536.7 329.1ZM530.1 331.9L537 331A78.5 78.5 0 0 1 537.2 332.9L530.3 333.7A71.5 71.5 0 0 0 530.1 331.9ZM746.1 302.8L774.1 299A317.8 317.8 0 0 1 775.1 306.8L747 309.9A289.5 289.5 0 0 0 746.1 302.8ZM518.2 335L524 334.4A65.2 65.2 0 0 1 524.1 336L518.3 336.5A59.4 59.4 0 0 0 518.2 335ZM775.1 306.8L803.9 303.6A346.8 346.8 0 0 1 804.7 312.1L775.8 314.5A317.8 317.8 0 0 0 775.1 306.8ZM775.8 369.1L804.7 371.6A346.8 346.8 0 0 1 803.9 380L775 376.8A317.8 317.8 0 0 0 775.8 369.1ZM530.3 349.4L537.2 350.2A78.5 78.5 0 0 1 537 352.1L530.1 351.2A71.5 71.5 0 0 0 530.3 349.4ZM746.9 373.7L775 376.8A317.8 317.8 0 0 1 774.1 384.6L746 380.7A289.5 289.5 0 0 0 746.9 373.7ZM537 352.1L544.6 353.2A86.2 86.2 0 0 1 544.3 355.3L536.7 354A78.5 78.5 0 0 0 537 352.1ZM544.3 355.3L552.6 356.6A94.6 94.6 0 0 1 552.2 358.9L543.9 357.4A86.2 86.2 0 0 0 544.3 355.3ZM552.2 358.9L561.3 360.6A103.8 103.8 0 0 1 560.8 363.1L551.7 361.2A94.6 94.6 0 0 0 552.2 358.9ZM560.8 363.1L570.7 365.2A114 114 0 0 1 570.1 367.9L560.2 365.6A103.8 103.8 0 0 0 560.8 363.1ZM654.2 383L673.3 387A218.9 218.9 0 0 1 672.1 392.3L653.2 387.8A199.4 199.4 0 0 0 654.2 383ZM570.1 367.9L580.9 370.5A125.1 125.1 0 0 1 580.2 373.5L569.4 370.7A114 114 0 0 0 570.1 367.9ZM635.9 383.6L653.2 387.8A199.4 199.4 0 0 1 652 392.5L634.8 388A181.7 181.7 0 0 0 635.9 383.6ZM580.2 373.5L619.2 383.8A165.5 165.5 0 0 1 618.1 387.7L579.3 376.5A125.1 125.1 0 0 0 580.2 373.5ZM339 376.2L284.7 391.9A181.7 181.7 0 0 1 283.5 387.6L338.2 373.3A125.1 125.1 0 0 0 339 376.2ZM349 370.4L338.2 373.3A125.1 125.1 0 0 1 337.4 370.3L348.3 367.7A114 114 0 0 0 349 370.4ZM283.5 387.6L266.3 392.1A199.4 199.4 0 0 1 265.2 387.4L282.4 383.3A181.7 181.7 0 0 0 283.5 387.6ZM358.2 365.4L348.3 367.7A114 114 0 0 1 347.7 365L357.6 362.9A103.8 103.8 0 0 0 358.2 365.4ZM265.2 387.4L246.2 391.9A218.9 218.9 0 0 1 245 386.6L264.1 382.6A199.4 199.4 0 0 0 265.2 387.4ZM366.6 361L357.6 362.9A103.8 103.8 0 0 1 357.1 360.4L366.2 358.7A94.6 94.6 0 0 0 366.6 361ZM245 386.6L224.1 391A240.3 240.3 0 0 1 223 385.3L244 381.4A218.9 218.9 0 0 0 245 386.6ZM374.5 357.2L366.2 358.7A94.6 94.6 0 0 1 365.8 356.4L374.1 355.1A86.2 86.2 0 0 0 374.5 357.2ZM381.7 353.9L374.1 355.1A86.2 86.2 0 0 1 373.8 353L381.4 352A78.5 78.5 0 0 0 381.7 353.9ZM388.3 351.1L381.4 352A78.5 78.5 0 0 1 381.2 350.1L388.1 349.3A71.5 71.5 0 0 0 388.3 351.1ZM172.3 380.2L144.3 384A317.8 317.8 0 0 1 143.3 376.2L171.4 373.1A289.5 289.5 0 0 0 172.3 380.2ZM400.2 348L394.4 348.6A65.2 65.2 0 0 1 394.3 347L400.1 346.5A59.4 59.4 0 0 0 400.2 348ZM143.3 376.2L114.5 379.4A346.8 346.8 0 0 1 113.7 370.9L142.6 368.5A317.8 317.8 0 0 0 143.3 376.2ZM142.6 313.9L113.7 311.4A346.8 346.8 0 0 1 114.5 303L143.4 306.2A317.8 317.8 0 0 0 142.6 313.9ZM388.1 333.6L381.2 332.8A78.5 78.5 0 0 1 381.4 330.9L388.3 331.8A71.5 71.5 0 0 0 388.1 333.6ZM171.5 309.3L143.4 306.2A317.8 317.8 0 0 1 144.3 298.4L172.4 302.3A289.5 289.5 0 0 0 171.5 309.3ZM381.4 330.9L373.8 329.8A86.2 86.2 0 0 1 374.1 327.7L381.7 329A78.5 78.5 0 0 0 381.4 330.9ZM374.1 327.7L365.8 326.4A94.6 94.6 0 0 1 366.2 324.1L374.5 325.6A86.2 86.2 0 0 0 374.1 327.7ZM366.2 324.1L357.1 322.4A103.8 103.8 0 0 1 357.6 319.9L366.7 321.8A94.6 94.6 0 0 0 366.2 324.1ZM357.6 319.9L347.7 317.8A114 114 0 0 1 348.3 315.1L358.2 317.4A103.8 103.8 0 0 0 357.6 319.9ZM264.2 300L245.1 296A218.9 218.9 0 0 1 246.3 290.7L265.2 295.2A199.4 199.4 0 0 0 264.2 300ZM348.3 315.1L337.5 312.5A125.1 125.1 0 0 1 338.2 309.5L349 312.3A114 114 0 0 0 348.3 315.1ZM282.5 299.4L265.2 295.2A199.4 199.4 0 0 1 266.4 290.5L283.6 295A181.7 181.7 0 0 0 282.5 299.4ZM338.2 309.5L299.2 299.2A165.5 165.5 0 0 1 300.3 295.3L339.1 306.5A125.1 125.1 0 0 0 338.2 309.5Z"/>
<path fill="#751b6e" stroke="#751b6e" stroke-width="0.8" d="M580.2 309.7L634.9 295.4A181.7 181.7 0 0 1 636 299.7L581 312.7A125.1 125.1 0 0 0 580.2 309.7ZM570.1 315.3L581 312.7A125.1 125.1 0 0 1 581.6 315.7L570.7 318A114 114 0 0 0 570.1 315.3ZM636 299.7L653.2 295.6A199.4 199.4 0 0 1 654.3 300.4L636.9 304A181.7 181.7 0 0 0 636 299.7ZM654.3 300.4L673.4 296.4A218.9 218.9 0 0 1 674.4 301.6L655.3 305.2A199.4 199.4 0 0 0 654.3 300.4ZM674.4 301.6L695.4 297.7A240.3 240.3 0 0 1 696.4 303.6L675.3 306.9A218.9 218.9 0 0 0 674.4 301.6ZM696.4 303.6L719.6 299.8A263.7 263.7 0 0 1 720.6 306.2L697.3 309.4A240.3 240.3 0 0 0 696.4 303.6ZM720.6 306.2L746.1 302.8A289.5 289.5 0 0 1 747 309.9L721.4 312.7A263.7 263.7 0 0 0 720.6 306.2ZM524 334.4L530.3 333.7A71.5 71.5 0 0 1 530.5 335.4L524.1 336A65.2 65.2 0 0 0 524 334.4ZM513.1 336.9L518.3 336.5A59.4 59.4 0 0 1 518.4 337.9L513.2 338.2A54.1 54.1 0 0 0 513.1 336.9ZM513.2 344.9L518.4 345.2A59.4 59.4 0 0 1 518.3 346.6L513.1 346.2A54.1 54.1 0 0 0 513.2 344.9ZM524.1 347.1L530.4 347.7A71.5 71.5 0 0 1 530.3 349.4L523.9 348.7A65.2 65.2 0 0 0 524.1 347.1ZM747.6 366.6L775.8 369.1A317.8 317.8 0 0 1 775 376.8L746.9 373.7A289.5 289.5 0 0 0 747.6 366.6ZM721.3 370.8L746.9 373.7A289.5 289.5 0 0 1 746 380.7L720.5 377.2A263.7 263.7 0 0 0 721.3 370.8ZM544.6 353.2L552.9 354.3A94.6 94.6 0 0 1 552.6 356.6L544.3 355.3A86.2 86.2 0 0 0 544.6 353.2ZM697.2 374.1L720.5 377.2A263.7 263.7 0 0 1 719.5 383.6L696.4 379.9A240.3 240.3 0 0 0 697.2 374.1ZM552.6 356.6L561.7 358.1A103.8 103.8 0 0 1 561.3 360.6L552.2 358.9A94.6 94.6 0 0 0 552.6 356.6ZM675.3 376.5L696.4 379.9A240.3 240.3 0 0 1 695.4 385.7L674.3 381.8A218.9 218.9 0 0 0 675.3 376.5ZM561.3 360.6L571.2 362.5A114 114 0 0 1 570.7 365.2L560.8 363.1A103.8 103.8 0 0 0 561.3 360.6ZM655.2 378.2L674.3 381.8A218.9 218.9 0 0 1 673.3 387L654.2 383A199.4 199.4 0 0 0 655.2 378.2ZM570.7 365.2L581.6 367.5A125.1 125.1 0 0 1 580.9 370.5L570.1 367.9A114 114 0 0 0 570.7 365.2ZM636.9 379.3L654.2 383A199.4 199.4 0 0 1 653.2 387.8L635.9 383.6A181.7 181.7 0 0 0 636.9 379.3ZM580.9 370.5L635.9 383.6A181.7 181.7 0 0 1 634.8 388L580.2 373.5A125.1 125.1 0 0 0 580.9 370.5ZM338.2 373.3L283.5 387.6A181.7 181.7 0 0 1 282.4 383.3L337.4 370.3A125.1 125.1 0 0 0 338.2 373.3ZM348.3 367.7L337.4 370.3A125.1 125.1 0 0 1 336.8 367.3L347.7 365A114 114 0 0 0 348.3 367.7ZM282.4 383.3L265.2 387.4A199.4 199.4 0 0 1 264.1 382.6L281.5 379A181.7 181.7 0 0 0 282.4 383.3ZM264.1 382.6L245 386.6A218.9 218.9 0 0 1 244 381.4L263.1 377.8A199.4 199.4 0 0 0 264.1 382.6ZM244 381.4L223 385.3A240.3 240.3 0 0 1 222 379.4L243.1 376.1A218.9 218.9 0 0 0 244 381.4ZM222 379.4L198.8 383.2A263.7 263.7 0 0 1 197.8 376.8L221.1 373.6A240.3 240.3 0 0 0 222 379.4ZM197.8 376.8L172.3 380.2A289.5 289.5 0 0 1 171.4 373.1L197 370.3A263.7 263.7 0 0 0 197.8 376.8ZM394.4 348.6L388.1 349.3A71.5 71.5 0 0 1 387.9 347.6L394.3 347A65.2 65.2 0 0 0 394.4 348.6ZM405.3 346.1L400.1 346.5A59.4 59.4 0 0 1 400 345.1L405.2 344.8A54.1 54.1 0 0 0 405.3 346.1ZM405.2 338.1L400 337.8A59.4 59.4 0 0 1 400.1 336.4L405.3 336.8A54.1 54.1 0 0 0 405.2 338.1ZM394.3 335.9L388 335.3A71.5 71.5 0 0 1 388.1 333.6L394.5 334.3A65.2 65.2 0 0 0 394.3 335.9ZM170.8 316.4L142.6 313.9A317.8 317.8 0 0 1 143.4 306.2L171.5 309.3A289.5 289.5 0 0 0 170.8 316.4ZM197.1 312.2L171.5 309.3A289.5 289.5 0 0 1 172.4 302.3L197.9 305.8A263.7 263.7 0 0 0 197.1 312.2ZM373.8 329.8L365.5 328.7A94.6 94.6 0 0 1 365.8 326.4L374.1 327.7A86.2 86.2 0 0 0 373.8 329.8ZM221.2 308.9L197.9 305.8A263.7 263.7 0 0 1 198.9 299.4L222 303.1A240.3 240.3 0 0 0 221.2 308.9ZM365.8 326.4L356.7 324.9A103.8 103.8 0 0 1 357.1 322.4L366.2 324.1A94.6 94.6 0 0 0 365.8 326.4ZM243.1 306.5L222 303.1A240.3 240.3 0 0 1 223 297.3L244.1 301.2A218.9 218.9 0 0 0 243.1 306.5ZM357.1 322.4L347.2 320.5A114 114 0 0 1 347.7 317.8L357.6 319.9A103.8 103.8 0 0 0 357.1 322.4ZM263.2 304.8L244.1 301.2A218.9 218.9 0 0 1 245.1 296L264.2 300A199.4 199.4 0 0 0 263.2 304.8ZM347.7 317.8L336.8 315.5A125.1 125.1 0 0 1 337.5 312.5L348.3 315.1A114 114 0 0 0 347.7 317.8ZM281.5 303.7L264.2 300A199.4 199.4 0 0 1 265.2 295.2L282.5 299.4A181.7 181.7 0 0 0 281.5 303.7ZM337.5 312.5L282.5 299.4A181.7 181.7 0 0 1 283.6 295L338.2 309.5A125.1 125.1 0 0 0 337.5 312.5Z"/>
<path fill="#771c6d" stroke="#771c6d" stroke-width="0.8" d="M581 312.7L592.8 309.9A137.3 137.3 0 0 1 593.6 313.2L581.6 315.7A125.1 125.1 0 0 0 581 312.7ZM620.2 303.4L636 299.7A181.7 181.7 0 0 1 636.9 304L621.1 307.4A165.5 165.5 0 0 0 620.2 303.4ZM560.8 320.1L570.7 318A114 114 0 0 1 571.3 320.7L561.3 322.6A103.8 103.8 0 0 0 560.8 320.1ZM636.9 304L654.3 300.4A199.4 199.4 0 0 1 655.3 305.2L637.8 308.4A181.7 181.7 0 0 0 636.9 304ZM552.2 324.3L561.3 322.6A103.8 103.8 0 0 1 561.7 325.1L552.6 326.6A94.6 94.6 0 0 0 552.2 324.3ZM655.3 305.2L674.4 301.6A218.9 218.9 0 0 1 675.3 306.9L656.1 310A199.4 199.4 0 0 0 655.3 305.2ZM544.3 327.9L552.6 326.6A94.6 94.6 0 0 1 552.9 328.9L544.6 330A86.2 86.2 0 0 0 544.3 327.9ZM537 331L544.6 330A86.2 86.2 0 0 1 544.9 332.1L537.2 332.9A78.5 78.5 0 0 0 537 331ZM530.3 333.7L537.2 332.9A78.5 78.5 0 0 1 537.4 334.8L530.5 335.4A71.5 71.5 0 0 0 530.3 333.7ZM747 309.9L775.1 306.8A317.8 317.8 0 0 1 775.8 314.5L747.7 316.9A289.5 289.5 0 0 0 747 309.9ZM518.3 336.5L524.1 336A65.2 65.2 0 0 1 524.2 337.6L518.4 337.9A59.4 59.4 0 0 0 518.3 336.5ZM775.8 314.5L804.7 312.1A346.8 346.8 0 0 1 805.4 320.6L776.4 322.3A317.8 317.8 0 0 0 775.8 314.5ZM518.4 345.2L524.2 345.6A65.2 65.2 0 0 1 524.1 347.1L518.3 346.6A59.4 59.4 0 0 0 518.4 345.2ZM776.4 361.3L805.3 363.1A346.8 346.8 0 0 1 804.7 371.6L775.8 369.1A317.8 317.8 0 0 0 776.4 361.3ZM530.4 347.7L537.4 348.3A78.5 78.5 0 0 1 537.2 350.2L530.3 349.4A71.5 71.5 0 0 0 530.4 347.7ZM537.2 350.2L544.8 351.1A86.2 86.2 0 0 1 544.6 353.2L537 352.1A78.5 78.5 0 0 0 537.2 350.2ZM676.1 371.2L697.2 374.1A240.3 240.3 0 0 1 696.4 379.9L675.3 376.5A218.9 218.9 0 0 0 676.1 371.2ZM656 373.4L675.3 376.5A218.9 218.9 0 0 1 674.3 381.8L655.2 378.2A199.4 199.4 0 0 0 656 373.4ZM637.8 374.9L655.2 378.2A199.4 199.4 0 0 1 654.2 383L636.9 379.3A181.7 181.7 0 0 0 637.8 374.9ZM581.6 367.5L593.5 370.1A137.3 137.3 0 0 1 592.8 373.4L580.9 370.5A125.1 125.1 0 0 0 581.6 367.5ZM606.7 372.9L636.9 379.3A181.7 181.7 0 0 1 635.9 383.6L605.8 376.5A150.8 150.8 0 0 0 606.7 372.9ZM530.5 374.3L537.5 377.5A86.2 86.2 0 0 1 535.7 381.3L528.8 377.7A78.5 78.5 0 0 0 530.5 374.3ZM535.7 381.3L543.1 385.1A94.6 94.6 0 0 1 540.9 389.2L533.6 385A86.2 86.2 0 0 0 535.7 381.3ZM537.2 387L544.8 391.5A99.1 99.1 0 0 1 542.2 395.6L534.8 390.8A90.3 90.3 0 0 0 537.2 387ZM538.4 393.2L550.3 400.9A108.8 108.8 0 0 1 547.3 405.3L535.8 397A94.6 94.6 0 0 0 538.4 393.2ZM543.3 402.4L551.5 408.4A114 114 0 0 1 548.1 412.8L540.2 406.5A103.8 103.8 0 0 0 543.3 402.4ZM379.7 408.3L371.9 414.8A114 114 0 0 1 368.4 410.4L376.5 404.3A103.8 103.8 0 0 0 379.7 408.3ZM380.3 401.4L372.6 407.3A108.8 108.8 0 0 1 369.4 403L377.4 397.5A99.1 99.1 0 0 0 380.3 401.4ZM384.7 392.5L377.4 397.5A99.1 99.1 0 0 1 374.8 393.4L382.3 388.8A90.3 90.3 0 0 0 384.7 392.5ZM385.8 386.6L378.6 391A94.6 94.6 0 0 1 376.3 387L383.7 383A86.2 86.2 0 0 0 385.8 386.6ZM390.4 379.3L383.7 383A86.2 86.2 0 0 1 381.7 379.2L388.6 375.9A78.5 78.5 0 0 0 390.4 379.3ZM337.4 370.3L325.6 373.1A137.3 137.3 0 0 1 324.8 369.8L336.8 367.3A125.1 125.1 0 0 0 337.4 370.3ZM298.2 379.6L282.4 383.3A181.7 181.7 0 0 1 281.5 379L297.3 375.6A165.5 165.5 0 0 0 298.2 379.6ZM357.6 362.9L347.7 365A114 114 0 0 1 347.1 362.3L357.1 360.4A103.8 103.8 0 0 0 357.6 362.9ZM281.5 379L264.1 382.6A199.4 199.4 0 0 1 263.1 377.8L280.6 374.6A181.7 181.7 0 0 0 281.5 379ZM366.2 358.7L357.1 360.4A103.8 103.8 0 0 1 356.7 357.9L365.8 356.4A94.6 94.6 0 0 0 366.2 358.7ZM263.1 377.8L244 381.4A218.9 218.9 0 0 1 243.1 376.1L262.3 373A199.4 199.4 0 0 0 263.1 377.8ZM374.1 355.1L365.8 356.4A94.6 94.6 0 0 1 365.5 354.1L373.8 353A86.2 86.2 0 0 0 374.1 355.1ZM381.4 352L373.8 353A86.2 86.2 0 0 1 373.5 350.9L381.2 350.1A78.5 78.5 0 0 0 381.4 352ZM388.1 349.3L381.2 350.1A78.5 78.5 0 0 1 381 348.2L387.9 347.6A71.5 71.5 0 0 0 388.1 349.3ZM171.4 373.1L143.3 376.2A317.8 317.8 0 0 1 142.6 368.5L170.7 366.1A289.5 289.5 0 0 0 171.4 373.1ZM400.1 346.5L394.3 347A65.2 65.2 0 0 1 394.2 345.4L400 345.1A59.4 59.4 0 0 0 400.1 346.5ZM142.6 368.5L113.7 370.9A346.8 346.8 0 0 1 113 362.4L142 360.7A317.8 317.8 0 0 0 142.6 368.5ZM400 337.8L394.2 337.4A65.2 65.2 0 0 1 394.3 335.9L400.1 336.4A59.4 59.4 0 0 0 400 337.8ZM142 321.7L113.1 319.9A346.8 346.8 0 0 1 113.7 311.4L142.6 313.9A317.8 317.8 0 0 0 142 321.7ZM388 335.3L381 334.7A78.5 78.5 0 0 1 381.2 332.8L388.1 333.6A71.5 71.5 0 0 0 388 335.3ZM381.2 332.8L373.6 331.9A86.2 86.2 0 0 1 373.8 329.8L381.4 330.9A78.5 78.5 0 0 0 381.2 332.8ZM242.3 311.8L221.2 308.9A240.3 240.3 0 0 1 222 303.1L243.1 306.5A218.9 218.9 0 0 0 242.3 311.8ZM262.4 309.6L243.1 306.5A218.9 218.9 0 0 1 244.1 301.2L263.2 304.8A199.4 199.4 0 0 0 262.4 309.6ZM280.6 308.1L263.2 304.8A199.4 199.4 0 0 1 264.2 300L281.5 303.7A181.7 181.7 0 0 0 280.6 308.1ZM336.8 315.5L324.9 312.9A137.3 137.3 0 0 1 325.6 309.6L337.5 312.5A125.1 125.1 0 0 0 336.8 315.5ZM311.7 310.1L281.5 303.7A181.7 181.7 0 0 1 282.5 299.4L312.6 306.5A150.8 150.8 0 0 0 311.7 310.1Z"/>
<path fill="#781c6d" stroke="#781c6d" stroke-width="0.8" d="M592.8 309.9L620.2 303.4A165.5 165.5 0 0 1 621.1 307.4L593.6 313.2A137.3 137.3 0 0 0 592.8 309.9ZM570.7 318L581.6 315.7A125.1 125.1 0 0 1 582.2 318.7L571.3 320.7A114 114 0 0 0 570.7 318ZM621.1 307.4L636.9 304A181.7 181.7 0 0 1 637.8 308.4L621.9 311.4A165.5 165.5 0 0 0 621.1 307.4ZM561.3 322.6L571.3 320.7A114 114 0 0 1 571.7 323.5L561.7 325.1A103.8 103.8 0 0 0 561.3 322.6ZM552.6 326.6L561.7 325.1A103.8 103.8 0 0 1 562.1 327.6L552.9 328.9A94.6 94.6 0 0 0 552.6 326.6ZM675.3 306.9L696.4 303.6A240.3 240.3 0 0 1 697.3 309.4L676.1 312.2A218.9 218.9 0 0 0 675.3 306.9ZM544.6 330L552.9 328.9A94.6 94.6 0 0 1 553.2 331.2L544.9 332.1A86.2 86.2 0 0 0 544.6 330ZM697.3 309.4L720.6 306.2A263.7 263.7 0 0 1 721.4 312.7L698 315.2A240.3 240.3 0 0 0 697.3 309.4ZM721.4 312.7L747 309.9A289.5 289.5 0 0 1 747.7 316.9L722 319.1A263.7 263.7 0 0 0 721.4 312.7ZM524.1 336L530.5 335.4A71.5 71.5 0 0 1 530.6 337.2L524.2 337.6A65.2 65.2 0 0 0 524.1 336ZM513.2 338.2L518.4 337.9A59.4 59.4 0 0 1 518.5 339.4L513.2 339.6A54.1 54.1 0 0 0 513.2 338.2ZM513.2 343.5L518.5 343.7A59.4 59.4 0 0 1 518.4 345.2L513.2 344.9A54.1 54.1 0 0 0 513.2 343.5ZM524.2 345.6L530.6 346A71.5 71.5 0 0 1 530.4 347.7L524.1 347.1A65.2 65.2 0 0 0 524.2 345.6ZM748.1 359.5L776.4 361.3A317.8 317.8 0 0 1 775.8 369.1L747.6 366.6A289.5 289.5 0 0 0 748.1 359.5ZM537.4 348.3L545 349A86.2 86.2 0 0 1 544.8 351.1L537.2 350.2A78.5 78.5 0 0 0 537.4 348.3ZM721.9 364.4L747.6 366.6A289.5 289.5 0 0 1 746.9 373.7L721.3 370.8A263.7 263.7 0 0 0 721.9 364.4ZM544.8 351.1L553.2 352A94.6 94.6 0 0 1 552.9 354.3L544.6 353.2A86.2 86.2 0 0 0 544.8 351.1ZM698 368.2L721.3 370.8A263.7 263.7 0 0 1 720.5 377.2L697.2 374.1A240.3 240.3 0 0 0 698 368.2ZM552.9 354.3L562.1 355.6A103.8 103.8 0 0 1 561.7 358.1L552.6 356.6A94.6 94.6 0 0 0 552.9 354.3ZM561.7 358.1L571.7 359.7A114 114 0 0 1 571.2 362.5L561.3 360.6A103.8 103.8 0 0 0 561.7 358.1ZM571.2 362.5L594.2 366.8A137.3 137.3 0 0 1 593.5 370.1L570.7 365.2A114 114 0 0 0 571.2 362.5ZM621.9 371.9L637.8 374.9A181.7 181.7 0 0 1 636.9 379.3L621.1 375.9A165.5 165.5 0 0 0 621.9 371.9ZM593.5 370.1L606.7 372.9A150.8 150.8 0 0 1 605.8 376.5L592.8 373.4A137.3 137.3 0 0 0 593.5 370.1ZM325.6 373.1L298.2 379.6A165.5 165.5 0 0 1 297.3 375.6L324.8 369.8A137.3 137.3 0 0 0 325.6 373.1ZM347.7 365L336.8 367.3A125.1 125.1 0 0 1 336.2 364.3L347.1 362.3A114 114 0 0 0 347.7 365ZM297.3 375.6L281.5 379A181.7 181.7 0 0 1 280.6 374.6L296.5 371.6A165.5 165.5 0 0 0 297.3 375.6ZM357.1 360.4L347.1 362.3A114 114 0 0 1 346.7 359.5L356.7 357.9A103.8 103.8 0 0 0 357.1 360.4ZM365.8 356.4L356.7 357.9A103.8 103.8 0 0 1 356.3 355.4L365.5 354.1A94.6 94.6 0 0 0 365.8 356.4ZM243.1 376.1L222 379.4A240.3 240.3 0 0 1 221.1 373.6L242.3 370.8A218.9 218.9 0 0 0 243.1 376.1ZM373.8 353L365.5 354.1A94.6 94.6 0 0 1 365.2 351.8L373.5 350.9A86.2 86.2 0 0 0 373.8 353ZM221.1 373.6L197.8 376.8A263.7 263.7 0 0 1 197 370.3L220.4 367.8A240.3 240.3 0 0 0 221.1 373.6ZM197 370.3L171.4 373.1A289.5 289.5 0 0 1 170.7 366.1L196.4 363.9A263.7 263.7 0 0 0 197 370.3ZM394.3 347L387.9 347.6A71.5 71.5 0 0 1 387.8 345.8L394.2 345.4A65.2 65.2 0 0 0 394.3 347ZM405.2 344.8L400 345.1A59.4 59.4 0 0 1 399.9 343.6L405.2 343.4A54.1 54.1 0 0 0 405.2 344.8ZM405.2 339.5L399.9 339.3A59.4 59.4 0 0 1 400 337.8L405.2 338.1A54.1 54.1 0 0 0 405.2 339.5ZM394.2 337.4L387.8 337A71.5 71.5 0 0 1 388 335.3L394.3 335.9A65.2 65.2 0 0 0 394.2 337.4ZM170.3 323.5L142 321.7A317.8 317.8 0 0 1 142.6 313.9L170.8 316.4A289.5 289.5 0 0 0 170.3 323.5ZM381 334.7L373.4 334A86.2 86.2 0 0 1 373.6 331.9L381.2 332.8A78.5 78.5 0 0 0 381 334.7ZM196.5 318.6L170.8 316.4A289.5 289.5 0 0 1 171.5 309.3L197.1 312.2A263.7 263.7 0 0 0 196.5 318.6ZM373.6 331.9L365.2 331A94.6 94.6 0 0 1 365.5 328.7L373.8 329.8A86.2 86.2 0 0 0 373.6 331.9ZM220.4 314.8L197.1 312.2A263.7 263.7 0 0 1 197.9 305.8L221.2 308.9A240.3 240.3 0 0 0 220.4 314.8ZM365.5 328.7L356.3 327.4A103.8 103.8 0 0 1 356.7 324.9L365.8 326.4A94.6 94.6 0 0 0 365.5 328.7ZM356.7 324.9L346.7 323.3A114 114 0 0 1 347.2 320.5L357.1 322.4A103.8 103.8 0 0 0 356.7 324.9ZM347.2 320.5L324.2 316.2A137.3 137.3 0 0 1 324.9 312.9L347.7 317.8A114 114 0 0 0 347.2 320.5ZM296.5 311.1L280.6 308.1A181.7 181.7 0 0 1 281.5 303.7L297.3 307.1A165.5 165.5 0 0 0 296.5 311.1ZM324.9 312.9L311.7 310.1A150.8 150.8 0 0 1 312.6 306.5L325.6 309.6A137.3 137.3 0 0 0 324.9 312.9Z"/>
<path fill="#7c1d6d" stroke="#7c1d6d" stroke-width="0.8" d="M581.6 315.7L621.1 307.4A165.5 165.5 0 0 1 621.9 311.4L582.2 318.7A125.1 125.1 0 0 0 581.6 315.7ZM571.3 320.7L582.2 318.7A125.1 125.1 0 0 1 582.7 321.7L571.7 323.5A114 114 0 0 0 571.3 320.7ZM637.8 308.4L655.3 305.2A199.4 199.4 0 0 1 656.1 310L638.6 312.8A181.7 181.7 0 0 0 637.8 308.4ZM656.1 310L675.3 306.9A218.9 218.9 0 0 1 676.1 312.2L656.8 314.8A199.4 199.4 0 0 0 656.1 310ZM676.1 312.2L697.3 309.4A240.3 240.3 0 0 1 698 315.2L676.8 317.6A218.9 218.9 0 0 0 676.1 312.2ZM537.2 332.9L544.9 332.1A86.2 86.2 0 0 1 545.1 334.2L537.4 334.8A78.5 78.5 0 0 0 537.2 332.9ZM698 315.2L721.4 312.7A263.7 263.7 0 0 1 722 319.1L698.6 321.1A240.3 240.3 0 0 0 698 315.2ZM530.5 335.4L537.4 334.8A78.5 78.5 0 0 1 537.6 336.8L530.6 337.2A71.5 71.5 0 0 0 530.5 335.4ZM747.7 316.9L775.8 314.5A317.8 317.8 0 0 1 776.4 322.3L748.2 324A289.5 289.5 0 0 0 747.7 316.9ZM518.4 337.9L524.2 337.6A65.2 65.2 0 0 1 524.3 339.2L518.5 339.4A59.4 59.4 0 0 0 518.4 337.9ZM518.5 343.7L524.3 344A65.2 65.2 0 0 1 524.2 345.6L518.4 345.2A59.4 59.4 0 0 0 518.5 343.7ZM776.8 353.5L805.8 354.6A346.8 346.8 0 0 1 805.3 363.1L776.4 361.3A317.8 317.8 0 0 0 776.8 353.5ZM530.6 346L537.6 346.4A78.5 78.5 0 0 1 537.4 348.3L530.4 347.7A71.5 71.5 0 0 0 530.6 346ZM698.6 362.3L721.9 364.4A263.7 263.7 0 0 1 721.3 370.8L698 368.2A240.3 240.3 0 0 0 698.6 362.3ZM676.7 365.8L698 368.2A240.3 240.3 0 0 1 697.2 374.1L676.1 371.2A218.9 218.9 0 0 0 676.7 365.8ZM562.1 355.6L572.1 356.9A114 114 0 0 1 571.7 359.7L561.7 358.1A103.8 103.8 0 0 0 562.1 355.6ZM656.8 368.5L676.1 371.2A218.9 218.9 0 0 1 675.3 376.5L656 373.4A199.4 199.4 0 0 0 656.8 368.5ZM571.7 359.7L582.7 361.5A125.1 125.1 0 0 1 582.2 364.5L571.2 362.5A114 114 0 0 0 571.7 359.7ZM638.5 370.5L656 373.4A199.4 199.4 0 0 1 655.2 378.2L637.8 374.9A181.7 181.7 0 0 0 638.5 370.5ZM594.2 366.8L621.9 371.9A165.5 165.5 0 0 1 621.1 375.9L593.5 370.1A137.3 137.3 0 0 0 594.2 366.8ZM540.7 421.2L544.6 425A119.4 119.4 0 0 1 540.4 429.1L536.7 425.1A114 114 0 0 0 540.7 421.2ZM536.7 425.1L548.3 437.6A131.1 131.1 0 0 1 543.5 441.9L532.5 428.8A114 114 0 0 0 536.7 425.1ZM536 432.9L551.7 451.7A143.9 143.9 0 0 1 546.2 456.1L531.4 436.6A119.4 119.4 0 0 0 536 432.9ZM538.5 445.9L559.3 473.3A165.5 165.5 0 0 1 552.7 478L533.3 449.7A131.1 131.1 0 0 0 538.5 445.9ZM540.5 460.2L552.7 478A165.5 165.5 0 0 1 545.9 482.5L534.6 464.1A143.9 143.9 0 0 0 540.5 460.2ZM383.2 471.7L375.7 484.4A165.5 165.5 0 0 1 368.8 480.1L376.9 467.8A150.8 150.8 0 0 0 383.2 471.7ZM387.6 451.3L368.8 480.1A165.5 165.5 0 0 1 362.1 475.5L382.3 447.7A131.1 131.1 0 0 0 387.6 451.3ZM389.2 438.2L370.8 463.6A150.8 150.8 0 0 1 364.9 459.1L384.5 434.7A119.4 119.4 0 0 0 389.2 438.2ZM387.9 430.4L377.2 443.8A131.1 131.1 0 0 1 372.3 439.6L383.6 426.8A114 114 0 0 0 387.9 430.4ZM383.6 426.8L380 430.9A119.4 119.4 0 0 1 375.7 426.9L379.5 423A114 114 0 0 0 383.6 426.8ZM336.8 367.3L297.3 375.6A165.5 165.5 0 0 1 296.5 371.6L336.2 364.3A125.1 125.1 0 0 0 336.8 367.3ZM347.1 362.3L336.2 364.3A125.1 125.1 0 0 1 335.7 361.3L346.7 359.5A114 114 0 0 0 347.1 362.3ZM280.6 374.6L263.1 377.8A199.4 199.4 0 0 1 262.3 373L279.8 370.2A181.7 181.7 0 0 0 280.6 374.6ZM262.3 373L243.1 376.1A218.9 218.9 0 0 1 242.3 370.8L261.6 368.2A199.4 199.4 0 0 0 262.3 373ZM242.3 370.8L221.1 373.6A240.3 240.3 0 0 1 220.4 367.8L241.6 365.4A218.9 218.9 0 0 0 242.3 370.8ZM381.2 350.1L373.5 350.9A86.2 86.2 0 0 1 373.3 348.8L381 348.2A78.5 78.5 0 0 0 381.2 350.1ZM220.4 367.8L197 370.3A263.7 263.7 0 0 1 196.4 363.9L219.8 361.9A240.3 240.3 0 0 0 220.4 367.8ZM387.9 347.6L381 348.2A78.5 78.5 0 0 1 380.8 346.2L387.8 345.8A71.5 71.5 0 0 0 387.9 347.6ZM170.7 366.1L142.6 368.5A317.8 317.8 0 0 1 142 360.7L170.2 359A289.5 289.5 0 0 0 170.7 366.1ZM400 345.1L394.2 345.4A65.2 65.2 0 0 1 394.1 343.8L399.9 343.6A59.4 59.4 0 0 0 400 345.1ZM399.9 339.3L394.1 339A65.2 65.2 0 0 1 394.2 337.4L400 337.8A59.4 59.4 0 0 0 399.9 339.3ZM141.6 329.5L112.6 328.4A346.8 346.8 0 0 1 113.1 319.9L142 321.7A317.8 317.8 0 0 0 141.6 329.5ZM387.8 337L380.8 336.6A78.5 78.5 0 0 1 381 334.7L388 335.3A71.5 71.5 0 0 0 387.8 337ZM219.8 320.7L196.5 318.6A263.7 263.7 0 0 1 197.1 312.2L220.4 314.8A240.3 240.3 0 0 0 219.8 320.7ZM241.7 317.2L220.4 314.8A240.3 240.3 0 0 1 221.2 308.9L242.3 311.8A218.9 218.9 0 0 0 241.7 317.2ZM356.3 327.4L346.3 326.1A114 114 0 0 1 346.7 323.3L356.7 324.9A103.8 103.8 0 0 0 356.3 327.4ZM261.6 314.5L242.3 311.8A218.9 218.9 0 0 1 243.1 306.5L262.4 309.6A199.4 199.4 0 0 0 261.6 314.5ZM346.7 323.3L335.7 321.5A125.1 125.1 0 0 1 336.2 318.5L347.2 320.5A114 114 0 0 0 346.7 323.3ZM279.9 312.5L262.4 309.6A199.4 199.4 0 0 1 263.2 304.8L280.6 308.1A181.7 181.7 0 0 0 279.9 312.5ZM324.2 316.2L296.5 311.1A165.5 165.5 0 0 1 297.3 307.1L324.9 312.9A137.3 137.3 0 0 0 324.2 316.2Z"/>
<path fill="#7d1e6d" stroke="#7d1e6d" stroke-width="0.8" d="M582.2 318.7L637.8 308.4A181.7 181.7 0 0 1 638.6 312.8L582.7 321.7A125.1 125.1 0 0 0 582.2 318.7ZM561.7 325.1L571.7 323.5A114 114 0 0 1 572.2 326.3L562.1 327.6A103.8 103.8 0 0 0 561.7 325.1ZM638.6 312.8L656.1 310A199.4 199.4 0 0 1 656.8 314.8L639.2 317.2A181.7 181.7 0 0 0 638.6 312.8ZM552.9 328.9L562.1 327.6A103.8 103.8 0 0 1 562.4 330.2L553.2 331.2A94.6 94.6 0 0 0 552.9 328.9ZM544.9 332.1L553.2 331.2A94.6 94.6 0 0 1 553.4 333.5L545.1 334.2A86.2 86.2 0 0 0 544.9 332.1ZM722 319.1L747.7 316.9A289.5 289.5 0 0 1 748.2 324L722.5 325.6A263.7 263.7 0 0 0 722 319.1ZM524.2 337.6L530.6 337.2A71.5 71.5 0 0 1 530.7 338.9L524.3 339.2A65.2 65.2 0 0 0 524.2 337.6ZM776.4 322.3L805.4 320.6A346.8 346.8 0 0 1 805.8 329.1L776.8 330.1A317.8 317.8 0 0 0 776.4 322.3ZM513.3 342.2L518.5 342.3A59.4 59.4 0 0 1 518.5 343.7L513.2 343.5A54.1 54.1 0 0 0 513.3 342.2ZM524.3 344L530.7 344.2A71.5 71.5 0 0 1 530.6 346L524.2 345.6A65.2 65.2 0 0 0 524.3 344ZM537.6 346.4L545.2 346.9A86.2 86.2 0 0 1 545 349L537.4 348.3A78.5 78.5 0 0 0 537.6 346.4ZM722.4 357.9L748.1 359.5A289.5 289.5 0 0 1 747.6 366.6L721.9 364.4A263.7 263.7 0 0 0 722.4 357.9ZM545 349L553.4 349.7A94.6 94.6 0 0 1 553.2 352L544.8 351.1A86.2 86.2 0 0 0 545 349ZM553.2 352L562.4 353A103.8 103.8 0 0 1 562.1 355.6L552.9 354.3A94.6 94.6 0 0 0 553.2 352ZM639.2 366.1L656.8 368.5A199.4 199.4 0 0 1 656 373.4L638.5 370.5A181.7 181.7 0 0 0 639.2 366.1ZM582.7 361.5L638.5 370.5A181.7 181.7 0 0 1 637.8 374.9L582.2 364.5A125.1 125.1 0 0 0 582.7 361.5ZM336.2 364.3L280.6 374.6A181.7 181.7 0 0 1 279.8 370.2L335.7 361.3A125.1 125.1 0 0 0 336.2 364.3ZM356.7 357.9L346.7 359.5A114 114 0 0 1 346.2 356.7L356.3 355.4A103.8 103.8 0 0 0 356.7 357.9ZM279.8 370.2L262.3 373A199.4 199.4 0 0 1 261.6 368.2L279.2 365.8A181.7 181.7 0 0 0 279.8 370.2ZM365.5 354.1L356.3 355.4A103.8 103.8 0 0 1 356 352.8L365.2 351.8A94.6 94.6 0 0 0 365.5 354.1ZM373.5 350.9L365.2 351.8A94.6 94.6 0 0 1 365 349.5L373.3 348.8A86.2 86.2 0 0 0 373.5 350.9ZM196.4 363.9L170.7 366.1A289.5 289.5 0 0 1 170.2 359L195.9 357.4A263.7 263.7 0 0 0 196.4 363.9ZM394.2 345.4L387.8 345.8A71.5 71.5 0 0 1 387.7 344.1L394.1 343.8A65.2 65.2 0 0 0 394.2 345.4ZM142 360.7L113 362.4A346.8 346.8 0 0 1 112.6 353.9L141.6 352.9A317.8 317.8 0 0 0 142 360.7ZM405.1 340.8L399.9 340.7A59.4 59.4 0 0 1 399.9 339.3L405.2 339.5A54.1 54.1 0 0 0 405.1 340.8ZM394.1 339L387.7 338.8A71.5 71.5 0 0 1 387.8 337L394.2 337.4A65.2 65.2 0 0 0 394.1 339ZM380.8 336.6L373.2 336.1A86.2 86.2 0 0 1 373.4 334L381 334.7A78.5 78.5 0 0 0 380.8 336.6ZM196 325.1L170.3 323.5A289.5 289.5 0 0 1 170.8 316.4L196.5 318.6A263.7 263.7 0 0 0 196 325.1ZM373.4 334L365 333.3A94.6 94.6 0 0 1 365.2 331L373.6 331.9A86.2 86.2 0 0 0 373.4 334ZM365.2 331L356 330A103.8 103.8 0 0 1 356.3 327.4L365.5 328.7A94.6 94.6 0 0 0 365.2 331ZM279.2 316.9L261.6 314.5A199.4 199.4 0 0 1 262.4 309.6L279.9 312.5A181.7 181.7 0 0 0 279.2 316.9ZM335.7 321.5L279.9 312.5A181.7 181.7 0 0 1 280.6 308.1L336.2 318.5A125.1 125.1 0 0 0 335.7 321.5Z"/>
<path fill="#801f6c" stroke="#801f6c" stroke-width="0.8" d="M582.7 321.7L622.6 315.4A165.5 165.5 0 0 1 623.2 319.4L583.2 324.8A125.1 125.1 0 0 0 582.7 321.7ZM572.2 326.3L583.2 324.8A125.1 125.1 0 0 1 583.6 327.8L572.5 329A114 114 0 0 0 572.2 326.3ZM639.2 317.2L656.8 314.8A199.4 199.4 0 0 1 657.4 319.7L639.8 321.6A181.7 181.7 0 0 0 639.2 317.2ZM553.2 331.2L562.4 330.2A103.8 103.8 0 0 1 562.7 332.7L553.4 333.5A94.6 94.6 0 0 0 553.2 331.2ZM545.1 334.2L553.4 333.5A94.6 94.6 0 0 1 553.6 335.8L545.2 336.3A86.2 86.2 0 0 0 545.1 334.2ZM698.6 321.1L722 319.1A263.7 263.7 0 0 1 722.5 325.6L699 327A240.3 240.3 0 0 0 698.6 321.1ZM722.5 325.6L748.2 324A289.5 289.5 0 0 1 748.5 331.1L722.8 332A263.7 263.7 0 0 0 722.5 325.6ZM776.8 330.1L805.8 329.1A346.8 346.8 0 0 1 806 337.6L777 337.9A317.8 317.8 0 0 0 776.8 330.1ZM524.3 342.4L530.7 342.4A71.5 71.5 0 0 1 530.7 344.2L524.3 344A65.2 65.2 0 0 0 524.3 342.4ZM777 345.7L806 346.1A346.8 346.8 0 0 1 805.8 354.6L776.8 353.5A317.8 317.8 0 0 0 777 345.7ZM722.7 351.5L748.5 352.4A289.5 289.5 0 0 1 748.1 359.5L722.4 357.9A263.7 263.7 0 0 0 722.7 351.5ZM545.2 346.9L553.6 347.4A94.6 94.6 0 0 1 553.4 349.7L545 349A86.2 86.2 0 0 0 545.2 346.9ZM553.4 349.7L562.6 350.5A103.8 103.8 0 0 1 562.4 353L553.2 352A94.6 94.6 0 0 0 553.4 349.7ZM657.8 358.8L677.3 360.5A218.9 218.9 0 0 1 676.7 365.8L657.4 363.7A199.4 199.4 0 0 0 657.8 358.8ZM572.5 354.2L583.5 355.4A125.1 125.1 0 0 1 583.2 358.5L572.1 356.9A114 114 0 0 0 572.5 354.2ZM639.7 361.7L657.4 363.7A199.4 199.4 0 0 1 656.8 368.5L639.2 366.1A181.7 181.7 0 0 0 639.7 361.7ZM595.3 360.1L623.2 363.9A165.5 165.5 0 0 1 622.6 367.9L594.8 363.4A137.3 137.3 0 0 0 595.3 360.1ZM335.7 361.3L295.8 367.6A165.5 165.5 0 0 1 295.2 363.6L335.2 358.2A125.1 125.1 0 0 0 335.7 361.3ZM346.2 356.7L335.2 358.2A125.1 125.1 0 0 1 334.8 355.2L345.9 354A114 114 0 0 0 346.2 356.7ZM279.2 365.8L261.6 368.2A199.4 199.4 0 0 1 261 363.3L278.6 361.4A181.7 181.7 0 0 0 279.2 365.8ZM365.2 351.8L356 352.8A103.8 103.8 0 0 1 355.7 350.3L365 349.5A94.6 94.6 0 0 0 365.2 351.8ZM373.3 348.8L365 349.5A94.6 94.6 0 0 1 364.8 347.2L373.2 346.7A86.2 86.2 0 0 0 373.3 348.8ZM219.8 361.9L196.4 363.9A263.7 263.7 0 0 1 195.9 357.4L219.4 356A240.3 240.3 0 0 0 219.8 361.9ZM195.9 357.4L170.2 359A289.5 289.5 0 0 1 169.9 351.9L195.6 351A263.7 263.7 0 0 0 195.9 357.4ZM141.6 352.9L112.6 353.9A346.8 346.8 0 0 1 112.4 345.4L141.4 345.1A317.8 317.8 0 0 0 141.6 352.9ZM394.1 340.6L387.7 340.6A71.5 71.5 0 0 1 387.7 338.8L394.1 339A65.2 65.2 0 0 0 394.1 340.6ZM141.4 337.3L112.4 336.9A346.8 346.8 0 0 1 112.6 328.4L141.6 329.5A317.8 317.8 0 0 0 141.4 337.3ZM195.7 331.5L169.9 330.6A289.5 289.5 0 0 1 170.3 323.5L196 325.1A263.7 263.7 0 0 0 195.7 331.5ZM373.2 336.1L364.8 335.6A94.6 94.6 0 0 1 365 333.3L373.4 334A86.2 86.2 0 0 0 373.2 336.1ZM365 333.3L355.8 332.5A103.8 103.8 0 0 1 356 330L365.2 331A94.6 94.6 0 0 0 365 333.3ZM260.6 324.2L241.1 322.5A218.9 218.9 0 0 1 241.7 317.2L261 319.3A199.4 199.4 0 0 0 260.6 324.2ZM345.9 328.8L334.9 327.6A125.1 125.1 0 0 1 335.2 324.5L346.3 326.1A114 114 0 0 0 345.9 328.8ZM278.7 321.3L261 319.3A199.4 199.4 0 0 1 261.6 314.5L279.2 316.9A181.7 181.7 0 0 0 278.7 321.3ZM323.1 322.9L295.2 319.1A165.5 165.5 0 0 1 295.8 315.1L323.6 319.6A137.3 137.3 0 0 0 323.1 322.9Z"/>
<path fill="#84206b" stroke="#84206b" stroke-width="0.8" d="M583.2 324.8L595.3 323.1A137.3 137.3 0 0 1 595.7 326.5L583.6 327.8A125.1 125.1 0 0 0 583.2 324.8ZM623.2 319.4L639.2 317.2A181.7 181.7 0 0 1 639.8 321.6L623.7 323.4A165.5 165.5 0 0 0 623.2 319.4ZM562.4 330.2L572.5 329A114 114 0 0 1 572.8 331.8L562.7 332.7A103.8 103.8 0 0 0 562.4 330.2ZM657.4 319.7L676.8 317.6A218.9 218.9 0 0 1 677.3 322.9L657.9 324.6A199.4 199.4 0 0 0 657.4 319.7ZM677.3 322.9L698.6 321.1A240.3 240.3 0 0 1 699 327L677.7 328.3A218.9 218.9 0 0 0 677.3 322.9ZM537.6 336.8L545.2 336.3A86.2 86.2 0 0 1 545.3 338.4L537.7 338.7A78.5 78.5 0 0 0 537.6 336.8ZM524.3 339.2L530.7 338.9A71.5 71.5 0 0 1 530.7 340.7L524.3 340.8A65.2 65.2 0 0 0 524.3 339.2ZM748.5 331.1L776.8 330.1A317.8 317.8 0 0 1 777 337.9L748.7 338.2A289.5 289.5 0 0 0 748.5 331.1ZM513.3 340.9L518.5 340.8A59.4 59.4 0 0 1 518.5 342.3L513.3 342.2A54.1 54.1 0 0 0 513.3 340.9ZM748.7 345.3L777 345.7A317.8 317.8 0 0 1 776.8 353.5L748.5 352.4A289.5 289.5 0 0 0 748.7 345.3ZM537.6 344.5L545.3 344.8A86.2 86.2 0 0 1 545.2 346.9L537.6 346.4A78.5 78.5 0 0 0 537.6 344.5ZM677.7 355.1L699 356.5A240.3 240.3 0 0 1 698.6 362.3L677.3 360.5A218.9 218.9 0 0 0 677.7 355.1ZM562.6 350.5L572.7 351.4A114 114 0 0 1 572.5 354.2L562.4 353A103.8 103.8 0 0 0 562.6 350.5ZM583.5 355.4L595.7 356.8A137.3 137.3 0 0 1 595.3 360.1L583.2 358.5A125.1 125.1 0 0 0 583.5 355.4ZM609 358.3L639.7 361.7A181.7 181.7 0 0 1 639.2 366.1L608.6 361.9A150.8 150.8 0 0 0 609 358.3ZM335.2 358.2L323.1 359.9A137.3 137.3 0 0 1 322.7 356.5L334.8 355.2A125.1 125.1 0 0 0 335.2 358.2ZM295.2 363.6L279.2 365.8A181.7 181.7 0 0 1 278.6 361.4L294.7 359.6A165.5 165.5 0 0 0 295.2 363.6ZM356 352.8L345.9 354A114 114 0 0 1 345.6 351.2L355.7 350.3A103.8 103.8 0 0 0 356 352.8ZM261 363.3L241.6 365.4A218.9 218.9 0 0 1 241.1 360.1L260.5 358.4A199.4 199.4 0 0 0 261 363.3ZM241.1 360.1L219.8 361.9A240.3 240.3 0 0 1 219.4 356L240.7 354.7A218.9 218.9 0 0 0 241.1 360.1ZM380.8 346.2L373.2 346.7A86.2 86.2 0 0 1 373.1 344.6L380.7 344.3A78.5 78.5 0 0 0 380.8 346.2ZM394.1 343.8L387.7 344.1A71.5 71.5 0 0 1 387.7 342.3L394.1 342.2A65.2 65.2 0 0 0 394.1 343.8ZM169.9 351.9L141.6 352.9A317.8 317.8 0 0 1 141.4 345.1L169.7 344.8A289.5 289.5 0 0 0 169.9 351.9ZM405.1 342.1L399.9 342.2A59.4 59.4 0 0 1 399.9 340.7L405.1 340.8A54.1 54.1 0 0 0 405.1 342.1ZM169.7 337.7L141.4 337.3A317.8 317.8 0 0 1 141.6 329.5L169.9 330.6A289.5 289.5 0 0 0 169.7 337.7ZM380.8 338.5L373.1 338.2A86.2 86.2 0 0 1 373.2 336.1L380.8 336.6A78.5 78.5 0 0 0 380.8 338.5ZM240.7 327.9L219.4 326.5A240.3 240.3 0 0 1 219.8 320.7L241.1 322.5A218.9 218.9 0 0 0 240.7 327.9ZM355.8 332.5L345.7 331.6A114 114 0 0 1 345.9 328.8L356 330A103.8 103.8 0 0 0 355.8 332.5ZM334.9 327.6L322.7 326.2A137.3 137.3 0 0 1 323.1 322.9L335.2 324.5A125.1 125.1 0 0 0 334.9 327.6ZM309.4 324.7L278.7 321.3A181.7 181.7 0 0 1 279.2 316.9L309.8 321.1A150.8 150.8 0 0 0 309.4 324.7Z"/>
<path fill="#85216b" stroke="#85216b" stroke-width="0.8" d="M595.3 323.1L623.2 319.4A165.5 165.5 0 0 1 623.7 323.4L595.7 326.5A137.3 137.3 0 0 0 595.3 323.1ZM572.5 329L583.6 327.8A125.1 125.1 0 0 1 583.9 330.9L572.8 331.8A114 114 0 0 0 572.5 329ZM639.8 321.6L657.4 319.7A199.4 199.4 0 0 1 657.9 324.6L640.2 326.1A181.7 181.7 0 0 0 639.8 321.6ZM553.4 333.5L562.7 332.7A103.8 103.8 0 0 1 562.8 335.2L553.6 335.8A94.6 94.6 0 0 0 553.4 333.5ZM545.2 336.3L553.6 335.8A94.6 94.6 0 0 1 553.7 338.1L545.3 338.4A86.2 86.2 0 0 0 545.2 336.3ZM699 327L722.5 325.6A263.7 263.7 0 0 1 722.8 332L699.3 332.9A240.3 240.3 0 0 0 699 327ZM530.7 338.9L537.7 338.7A78.5 78.5 0 0 1 537.7 340.6L530.7 340.7A71.5 71.5 0 0 0 530.7 338.9ZM518.5 340.8L524.3 340.8A65.2 65.2 0 0 1 524.3 342.4L518.5 342.3A59.4 59.4 0 0 0 518.5 340.8ZM530.7 342.4L537.7 342.5A78.5 78.5 0 0 1 537.6 344.5L530.7 344.2A71.5 71.5 0 0 0 530.7 342.4ZM545.3 344.8L553.7 345.1A94.6 94.6 0 0 1 553.6 347.4L545.2 346.9A86.2 86.2 0 0 0 545.3 344.8ZM699.3 350.6L722.7 351.5A263.7 263.7 0 0 1 722.4 357.9L699 356.5A240.3 240.3 0 0 0 699.3 350.6ZM553.6 347.4L562.8 348A103.8 103.8 0 0 1 562.6 350.5L553.4 349.7A94.6 94.6 0 0 0 553.6 347.4ZM658.2 353.9L677.7 355.1A218.9 218.9 0 0 1 677.3 360.5L657.8 358.8A199.4 199.4 0 0 0 658.2 353.9ZM572.7 351.4L583.8 352.3A125.1 125.1 0 0 1 583.5 355.4L572.5 354.2A114 114 0 0 0 572.7 351.4ZM640.2 357.3L657.8 358.8A199.4 199.4 0 0 1 657.4 363.7L639.7 361.7A181.7 181.7 0 0 0 640.2 357.3ZM595.7 356.8L609 358.3A150.8 150.8 0 0 1 608.6 361.9L595.3 360.1A137.3 137.3 0 0 0 595.7 356.8ZM323.1 359.9L295.2 363.6A165.5 165.5 0 0 1 294.7 359.6L322.7 356.5A137.3 137.3 0 0 0 323.1 359.9ZM345.9 354L334.8 355.2A125.1 125.1 0 0 1 334.5 352.1L345.6 351.2A114 114 0 0 0 345.9 354ZM278.6 361.4L261 363.3A199.4 199.4 0 0 1 260.5 358.4L278.2 356.9A181.7 181.7 0 0 0 278.6 361.4ZM365 349.5L355.7 350.3A103.8 103.8 0 0 1 355.6 347.8L364.8 347.2A94.6 94.6 0 0 0 365 349.5ZM373.2 346.7L364.8 347.2A94.6 94.6 0 0 1 364.7 344.9L373.1 344.6A86.2 86.2 0 0 0 373.2 346.7ZM219.4 356L195.9 357.4A263.7 263.7 0 0 1 195.6 351L219.1 350.1A240.3 240.3 0 0 0 219.4 356ZM387.7 344.1L380.7 344.3A78.5 78.5 0 0 1 380.7 342.4L387.7 342.3A71.5 71.5 0 0 0 387.7 344.1ZM399.9 342.2L394.1 342.2A65.2 65.2 0 0 1 394.1 340.6L399.9 340.7A59.4 59.4 0 0 0 399.9 342.2ZM387.7 340.6L380.7 340.5A78.5 78.5 0 0 1 380.8 338.5L387.7 338.8A71.5 71.5 0 0 0 387.7 340.6ZM373.1 338.2L364.7 337.9A94.6 94.6 0 0 1 364.8 335.6L373.2 336.1A86.2 86.2 0 0 0 373.1 338.2ZM219.1 332.4L195.7 331.5A263.7 263.7 0 0 1 196 325.1L219.4 326.5A240.3 240.3 0 0 0 219.1 332.4ZM364.8 335.6L355.6 335A103.8 103.8 0 0 1 355.8 332.5L365 333.3A94.6 94.6 0 0 0 364.8 335.6ZM260.2 329.1L240.7 327.9A218.9 218.9 0 0 1 241.1 322.5L260.6 324.2A199.4 199.4 0 0 0 260.2 329.1ZM345.7 331.6L334.6 330.7A125.1 125.1 0 0 1 334.9 327.6L345.9 328.8A114 114 0 0 0 345.7 331.6ZM278.2 325.7L260.6 324.2A199.4 199.4 0 0 1 261 319.3L278.7 321.3A181.7 181.7 0 0 0 278.2 325.7ZM322.7 326.2L309.4 324.7A150.8 150.8 0 0 1 309.8 321.1L323.1 322.9A137.3 137.3 0 0 0 322.7 326.2Z"/>
<path fill="#87216b" stroke="#87216b" stroke-width="0.8" d="M583.6 327.8L595.7 326.5A137.3 137.3 0 0 1 596 329.8L583.9 330.9A125.1 125.1 0 0 0 583.6 327.8ZM609.1 325L639.8 321.6A181.7 181.7 0 0 1 640.2 326.1L609.4 328.7A150.8 150.8 0 0 0 609.1 325ZM562.7 332.7L572.8 331.8A114 114 0 0 1 573 334.6L562.8 335.2A103.8 103.8 0 0 0 562.7 332.7ZM657.9 324.6L677.3 322.9A218.9 218.9 0 0 1 677.7 328.3L658.2 329.5A199.4 199.4 0 0 0 657.9 324.6ZM677.7 328.3L699 327A240.3 240.3 0 0 1 699.3 332.9L677.9 333.6A218.9 218.9 0 0 0 677.7 328.3ZM537.7 338.7L545.3 338.4A86.2 86.2 0 0 1 545.4 340.5L537.7 340.6A78.5 78.5 0 0 0 537.7 338.7ZM722.8 332L748.5 331.1A289.5 289.5 0 0 1 748.7 338.2L722.9 338.5A263.7 263.7 0 0 0 722.8 332ZM524.3 340.8L530.7 340.7A71.5 71.5 0 0 1 530.7 342.4L524.3 342.4A65.2 65.2 0 0 0 524.3 340.8ZM777 337.9L806 337.6A346.8 346.8 0 0 1 806 346.1L777 345.7A317.8 317.8 0 0 0 777 337.9ZM537.7 342.5L545.4 342.6A86.2 86.2 0 0 1 545.3 344.8L537.6 344.5A78.5 78.5 0 0 0 537.7 342.5ZM722.9 345L748.7 345.3A289.5 289.5 0 0 1 748.5 352.4L722.7 351.5A263.7 263.7 0 0 0 722.9 345ZM677.9 349.8L699.3 350.6A240.3 240.3 0 0 1 699 356.5L677.7 355.1A218.9 218.9 0 0 0 677.9 349.8ZM562.8 348L573 348.6A114 114 0 0 1 572.7 351.4L562.6 350.5A103.8 103.8 0 0 0 562.8 348ZM583.8 352.3L640.2 357.3A181.7 181.7 0 0 1 639.7 361.7L583.5 355.4A125.1 125.1 0 0 0 583.8 352.3ZM334.8 355.2L322.7 356.5A137.3 137.3 0 0 1 322.4 353.2L334.5 352.1A125.1 125.1 0 0 0 334.8 355.2ZM309.3 358L278.6 361.4A181.7 181.7 0 0 1 278.2 356.9L309 354.3A150.8 150.8 0 0 0 309.3 358ZM355.7 350.3L345.6 351.2A114 114 0 0 1 345.4 348.4L355.6 347.8A103.8 103.8 0 0 0 355.7 350.3ZM260.5 358.4L241.1 360.1A218.9 218.9 0 0 1 240.7 354.7L260.2 353.5A199.4 199.4 0 0 0 260.5 358.4ZM240.7 354.7L219.4 356A240.3 240.3 0 0 1 219.1 350.1L240.5 349.4A218.9 218.9 0 0 0 240.7 354.7ZM380.7 344.3L373.1 344.6A86.2 86.2 0 0 1 373 342.5L380.7 342.4A78.5 78.5 0 0 0 380.7 344.3ZM195.6 351L169.9 351.9A289.5 289.5 0 0 1 169.7 344.8L195.5 344.5A263.7 263.7 0 0 0 195.6 351ZM394.1 342.2L387.7 342.3A71.5 71.5 0 0 1 387.7 340.6L394.1 340.6A65.2 65.2 0 0 0 394.1 342.2ZM141.4 345.1L112.4 345.4A346.8 346.8 0 0 1 112.4 336.9L141.4 337.3A317.8 317.8 0 0 0 141.4 345.1ZM380.7 340.5L373 340.4A86.2 86.2 0 0 1 373.1 338.2L380.8 338.5A78.5 78.5 0 0 0 380.7 340.5ZM195.5 338L169.7 337.7A289.5 289.5 0 0 1 169.9 330.6L195.7 331.5A263.7 263.7 0 0 0 195.5 338ZM240.5 333.2L219.1 332.4A240.3 240.3 0 0 1 219.4 326.5L240.7 327.9A218.9 218.9 0 0 0 240.5 333.2ZM355.6 335L345.4 334.4A114 114 0 0 1 345.7 331.6L355.8 332.5A103.8 103.8 0 0 0 355.6 335ZM334.6 330.7L278.2 325.7A181.7 181.7 0 0 1 278.7 321.3L334.9 327.6A125.1 125.1 0 0 0 334.6 330.7Z"/>
<path fill="#8a226a" stroke="#8a226a" stroke-width="0.8" d="M595.7 326.5L609.1 325A150.8 150.8 0 0 1 609.4 328.7L596 329.8A137.3 137.3 0 0 0 595.7 326.5ZM572.8 331.8L583.9 330.9A125.1 125.1 0 0 1 584.1 333.9L573 334.6A114 114 0 0 0 572.8 331.8ZM640.2 326.1L657.9 324.6A199.4 199.4 0 0 1 658.2 329.5L640.5 330.5A181.7 181.7 0 0 0 640.2 326.1ZM553.6 335.8L562.8 335.2A103.8 103.8 0 0 1 563 337.8L553.7 338.1A94.6 94.6 0 0 0 553.6 335.8ZM699.3 332.9L722.8 332A263.7 263.7 0 0 1 722.9 338.5L699.4 338.8A240.3 240.3 0 0 0 699.3 332.9ZM530.7 340.7L537.7 340.6A78.5 78.5 0 0 1 537.7 342.5L530.7 342.4A71.5 71.5 0 0 0 530.7 340.7ZM748.7 338.2L777 337.9A317.8 317.8 0 0 1 777 345.7L748.7 345.3A289.5 289.5 0 0 0 748.7 338.2ZM699.4 344.7L722.9 345A263.7 263.7 0 0 1 722.7 351.5L699.3 350.6A240.3 240.3 0 0 0 699.4 344.7ZM553.7 345.1L563 345.4A103.8 103.8 0 0 1 562.8 348L553.6 347.4A94.6 94.6 0 0 0 553.7 345.1ZM573 348.6L584.1 349.3A125.1 125.1 0 0 1 583.8 352.3L572.7 351.4A114 114 0 0 0 573 348.6ZM640.5 352.8L658.2 353.9A199.4 199.4 0 0 1 657.8 358.8L640.2 357.3A181.7 181.7 0 0 0 640.5 352.8ZM322.7 356.5L309.3 358A150.8 150.8 0 0 1 309 354.3L322.4 353.2A137.3 137.3 0 0 0 322.7 356.5ZM345.6 351.2L334.5 352.1A125.1 125.1 0 0 1 334.3 349.1L345.4 348.4A114 114 0 0 0 345.6 351.2ZM278.2 356.9L260.5 358.4A199.4 199.4 0 0 1 260.2 353.5L277.9 352.5A181.7 181.7 0 0 0 278.2 356.9ZM364.8 347.2L355.6 347.8A103.8 103.8 0 0 1 355.4 345.2L364.7 344.9A94.6 94.6 0 0 0 364.8 347.2ZM219.1 350.1L195.6 351A263.7 263.7 0 0 1 195.5 344.5L219 344.2A240.3 240.3 0 0 0 219.1 350.1ZM387.7 342.3L380.7 342.4A78.5 78.5 0 0 1 380.7 340.5L387.7 340.6A71.5 71.5 0 0 0 387.7 342.3ZM169.7 344.8L141.4 345.1A317.8 317.8 0 0 1 141.4 337.3L169.7 337.7A289.5 289.5 0 0 0 169.7 344.8ZM219 338.3L195.5 338A263.7 263.7 0 0 1 195.7 331.5L219.1 332.4A240.3 240.3 0 0 0 219 338.3ZM364.7 337.9L355.4 337.6A103.8 103.8 0 0 1 355.6 335L364.8 335.6A94.6 94.6 0 0 0 364.7 337.9ZM345.4 334.4L334.3 333.7A125.1 125.1 0 0 1 334.6 330.7L345.7 331.6A114 114 0 0 0 345.4 334.4ZM277.9 330.2L260.2 329.1A199.4 199.4 0 0 1 260.6 324.2L278.2 325.7A181.7 181.7 0 0 0 277.9 330.2Z"/>
<path fill="#8d2369" stroke="#8d2369" stroke-width="0.8" d="M596 329.8L609.4 328.7A150.8 150.8 0 0 1 609.7 332.4L596.3 333.2A137.3 137.3 0 0 0 596 329.8ZM640.5 330.5L658.2 329.5A199.4 199.4 0 0 1 658.5 334.3L640.7 335A181.7 181.7 0 0 0 640.5 330.5ZM553.7 338.1L563 337.8A103.8 103.8 0 0 1 563 340.3L553.8 340.4A94.6 94.6 0 0 0 553.7 338.1ZM677.9 333.6L699.3 332.9A240.3 240.3 0 0 1 699.4 338.8L678.1 339A218.9 218.9 0 0 0 677.9 333.6ZM537.7 340.6L545.4 340.5A86.2 86.2 0 0 1 545.4 342.6L537.7 342.5A78.5 78.5 0 0 0 537.7 340.6ZM553.8 342.7L563 342.9A103.8 103.8 0 0 1 563 345.4L553.7 345.1A94.6 94.6 0 0 0 553.8 342.7ZM678.1 344.4L699.4 344.7A240.3 240.3 0 0 1 699.3 350.6L677.9 349.8A218.9 218.9 0 0 0 678.1 344.4ZM573.1 345.8L584.2 346.2A125.1 125.1 0 0 1 584.1 349.3L573 348.6A114 114 0 0 0 573.1 345.8ZM640.7 348.4L658.5 349A199.4 199.4 0 0 1 658.2 353.9L640.5 352.8A181.7 181.7 0 0 0 640.7 348.4ZM322.4 353.2L309 354.3A150.8 150.8 0 0 1 308.7 350.6L322.1 349.8A137.3 137.3 0 0 0 322.4 353.2ZM277.9 352.5L260.2 353.5A199.4 199.4 0 0 1 259.9 348.7L277.7 348A181.7 181.7 0 0 0 277.9 352.5ZM364.7 344.9L355.4 345.2A103.8 103.8 0 0 1 355.4 342.7L364.6 342.6A94.6 94.6 0 0 0 364.7 344.9ZM240.5 349.4L219.1 350.1A240.3 240.3 0 0 1 219 344.2L240.3 344A218.9 218.9 0 0 0 240.5 349.4ZM380.7 342.4L373 342.5A86.2 86.2 0 0 1 373 340.4L380.7 340.5A78.5 78.5 0 0 0 380.7 342.4ZM364.6 340.3L355.4 340.1A103.8 103.8 0 0 1 355.4 337.6L364.7 337.9A94.6 94.6 0 0 0 364.6 340.3ZM240.3 338.6L219 338.3A240.3 240.3 0 0 1 219.1 332.4L240.5 333.2A218.9 218.9 0 0 0 240.3 338.6ZM345.3 337.2L334.2 336.8A125.1 125.1 0 0 1 334.3 333.7L345.4 334.4A114 114 0 0 0 345.3 337.2ZM277.7 334.6L259.9 334A199.4 199.4 0 0 1 260.2 329.1L277.9 330.2A181.7 181.7 0 0 0 277.7 334.6Z"/>
<path fill="#8f2469" stroke="#8f2469" stroke-width="0.8" d="M573 334.6L596.3 333.2A137.3 137.3 0 0 1 596.4 336.6L573.1 337.4A114 114 0 0 0 573 334.6ZM624.4 331.5L640.5 330.5A181.7 181.7 0 0 1 640.7 335L624.6 335.6A165.5 165.5 0 0 0 624.4 331.5ZM658.5 334.3L677.9 333.6A218.9 218.9 0 0 1 678.1 339L658.6 339.2A199.4 199.4 0 0 0 658.5 334.3ZM545.4 340.5L553.8 340.4A94.6 94.6 0 0 1 553.8 342.7L545.4 342.6A86.2 86.2 0 0 0 545.4 340.5ZM699.4 338.8L722.9 338.5A263.7 263.7 0 0 1 722.9 345L699.4 344.7A240.3 240.3 0 0 0 699.4 338.8ZM658.6 344.1L678.1 344.4A218.9 218.9 0 0 1 677.9 349.8L658.5 349A199.4 199.4 0 0 0 658.6 344.1ZM584.2 346.2L596.4 346.7A137.3 137.3 0 0 1 596.3 350L584.1 349.3A125.1 125.1 0 0 0 584.2 346.2ZM624.6 347.7L640.7 348.4A181.7 181.7 0 0 1 640.5 352.8L624.4 351.8A165.5 165.5 0 0 0 624.6 347.7ZM345.4 348.4L322.1 349.8A137.3 137.3 0 0 1 322 346.4L345.3 345.6A114 114 0 0 0 345.4 348.4ZM294 351.5L277.9 352.5A181.7 181.7 0 0 1 277.7 348L293.8 347.4A165.5 165.5 0 0 0 294 351.5ZM259.9 348.7L240.5 349.4A218.9 218.9 0 0 1 240.3 344L259.8 343.8A199.4 199.4 0 0 0 259.9 348.7ZM373 342.5L364.6 342.6A94.6 94.6 0 0 1 364.6 340.3L373 340.4A86.2 86.2 0 0 0 373 342.5ZM219 344.2L195.5 344.5A263.7 263.7 0 0 1 195.5 338L219 338.3A240.3 240.3 0 0 0 219 344.2ZM259.8 338.9L240.3 338.6A218.9 218.9 0 0 1 240.5 333.2L259.9 334A199.4 199.4 0 0 0 259.8 338.9ZM334.2 336.8L322 336.3A137.3 137.3 0 0 1 322.1 333L334.3 333.7A125.1 125.1 0 0 0 334.2 336.8ZM293.8 335.3L277.7 334.6A181.7 181.7 0 0 1 277.9 330.2L294 331.2A165.5 165.5 0 0 0 293.8 335.3Z"/>
<path fill="#922568" stroke="#922568" stroke-width="0.8" d="M596.3 333.2L624.4 331.5A165.5 165.5 0 0 1 624.6 335.6L596.4 336.6A137.3 137.3 0 0 0 596.3 333.2ZM563 337.8L573.1 337.4A114 114 0 0 1 573.2 340.2L563 340.3A103.8 103.8 0 0 0 563 337.8ZM678.1 339L699.4 338.8A240.3 240.3 0 0 1 699.4 344.7L678.1 344.4A218.9 218.9 0 0 0 678.1 339ZM563 342.9L573.2 343A114 114 0 0 1 573.1 345.8L563 345.4A103.8 103.8 0 0 0 563 342.9ZM640.8 343.9L658.6 344.1A199.4 199.4 0 0 1 658.5 349L640.7 348.4A181.7 181.7 0 0 0 640.8 343.9ZM596.4 346.7L624.6 347.7A165.5 165.5 0 0 1 624.4 351.8L596.3 350A137.3 137.3 0 0 0 596.4 346.7ZM322.1 349.8L294 351.5A165.5 165.5 0 0 1 293.8 347.4L322 346.4A137.3 137.3 0 0 0 322.1 349.8ZM355.4 345.2L345.3 345.6A114 114 0 0 1 345.2 342.8L355.4 342.7A103.8 103.8 0 0 0 355.4 345.2ZM240.3 344L219 344.2A240.3 240.3 0 0 1 219 338.3L240.3 338.6A218.9 218.9 0 0 0 240.3 344ZM355.4 340.1L345.2 340A114 114 0 0 1 345.3 337.2L355.4 337.6A103.8 103.8 0 0 0 355.4 340.1ZM277.6 339.1L259.8 338.9A199.4 199.4 0 0 1 259.9 334L277.7 334.6A181.7 181.7 0 0 0 277.6 339.1ZM322 336.3L293.8 335.3A165.5 165.5 0 0 1 294 331.2L322.1 333A137.3 137.3 0 0 0 322 336.3Z"/>
<path fill="#952667" stroke="#952667" stroke-width="0.8" d="M584.2 337L640.7 335A181.7 181.7 0 0 1 640.8 339.4L584.3 340.1A125.1 125.1 0 0 0 584.2 337ZM563 340.3L573.2 340.2A114 114 0 0 1 573.2 343L563 342.9A103.8 103.8 0 0 0 563 340.3ZM658.6 339.2L678.1 339A218.9 218.9 0 0 1 678.1 344.4L658.6 344.1A199.4 199.4 0 0 0 658.6 339.2ZM584.3 343.2L624.7 343.7A165.5 165.5 0 0 1 624.6 347.7L584.2 346.2A125.1 125.1 0 0 0 584.3 343.2ZM334.2 346L277.7 348A181.7 181.7 0 0 1 277.6 343.6L334.1 342.9A125.1 125.1 0 0 0 334.2 346ZM355.4 342.7L345.2 342.8A114 114 0 0 1 345.2 340L355.4 340.1A103.8 103.8 0 0 0 355.4 342.7ZM259.8 343.8L240.3 344A218.9 218.9 0 0 1 240.3 338.6L259.8 338.9A199.4 199.4 0 0 0 259.8 343.8ZM334.1 339.8L293.7 339.3A165.5 165.5 0 0 1 293.8 335.3L334.2 336.8A125.1 125.1 0 0 0 334.1 339.8Z"/>
<path fill="#9a2865" stroke="#9a2865" stroke-width="0.8" d="M573.2 340.2L596.5 339.9A137.3 137.3 0 0 1 596.5 343.3L573.2 343A114 114 0 0 0 573.2 340.2ZM624.7 339.6L640.8 339.4A181.7 181.7 0 0 1 640.8 343.9L624.7 343.7A165.5 165.5 0 0 0 624.7 339.6ZM345.2 342.8L321.9 343.1A137.3 137.3 0 0 1 321.9 339.7L345.2 340A114 114 0 0 0 345.2 342.8ZM293.7 343.4L277.6 343.6A181.7 181.7 0 0 1 277.6 339.1L293.7 339.3A165.5 165.5 0 0 0 293.7 343.4Z"/>
<path fill="#9b2964" stroke="#9b2964" stroke-width="0.8" d="M596.5 339.9L624.7 339.6A165.5 165.5 0 0 1 624.7 343.7L596.5 343.3A137.3 137.3 0 0 0 596.5 339.9ZM528.8 377.7L535.7 381.3A86.2 86.2 0 0 1 533.6 385L527 381.1A78.5 78.5 0 0 0 528.8 377.7ZM530.2 383L537.2 387A90.3 90.3 0 0 1 534.8 390.8L528.1 386.4A82.2 82.2 0 0 0 530.2 383ZM531.4 388.6L538.4 393.2A94.6 94.6 0 0 1 535.8 397L529 392A86.2 86.2 0 0 0 531.4 388.6ZM535.8 397L543.3 402.4A103.8 103.8 0 0 1 540.2 406.5L533 400.7A94.6 94.6 0 0 0 535.8 397ZM536.5 403.5L548.1 412.8A114 114 0 0 1 544.5 417.1L533.4 407.2A99.1 99.1 0 0 0 536.5 403.5ZM540.6 413.6L544.5 417.1A114 114 0 0 1 540.7 421.2L537 417.5A108.8 108.8 0 0 0 540.6 413.6ZM383.2 419.3L379.5 423A114 114 0 0 1 375.6 419L379.4 415.5A108.8 108.8 0 0 0 383.2 419.3ZM386.5 408.9L375.6 419A114 114 0 0 1 371.9 414.8L383.3 405.2A99.1 99.1 0 0 0 386.5 408.9ZM386.8 402.3L379.7 408.3A103.8 103.8 0 0 1 376.5 404.3L383.9 398.7A94.6 94.6 0 0 0 386.8 402.3ZM390.6 393.6L380.3 401.4A99.1 99.1 0 0 1 377.4 397.5L388.1 390.2A86.2 86.2 0 0 0 390.6 393.6ZM391.3 388L384.7 392.5A90.3 90.3 0 0 1 382.3 388.8L389.1 384.6A82.2 82.2 0 0 0 391.3 388ZM392.3 382.6L385.8 386.6A86.2 86.2 0 0 1 383.7 383L390.4 379.3A78.5 78.5 0 0 0 392.3 382.6ZM396.5 375.9L390.4 379.3A78.5 78.5 0 0 1 388.6 375.9L394.9 372.8A71.5 71.5 0 0 0 396.5 375.9ZM321.9 343.1L293.7 343.4A165.5 165.5 0 0 1 293.7 339.3L321.9 339.7A137.3 137.3 0 0 0 321.9 343.1Z"/>
<path fill="#972766" stroke="#972766" stroke-width="0.8" d="M640.8 339.4L658.6 339.2A199.4 199.4 0 0 1 658.6 344.1L640.8 343.9A181.7 181.7 0 0 0 640.8 339.4ZM277.6 343.6L259.8 343.8A199.4 199.4 0 0 1 259.8 338.9L277.6 339.1A181.7 181.7 0 0 0 277.6 343.6Z"/>
<path fill="#f06f20" stroke="#f06f20" stroke-width="0.8" d="M513.1 366.3L518.4 368.7A65.2 65.2 0 0 1 517 371.6L511.9 368.9A59.4 59.4 0 0 0 513.1 366.3ZM514.4 370.2L517 371.6A65.2 65.2 0 0 1 515.5 374.4L512.9 372.9A62.2 62.2 0 0 0 514.4 370.2ZM512.9 372.9L518.1 375.9A68.3 68.3 0 0 1 516.4 378.8L511.3 375.5A62.2 62.2 0 0 0 512.9 372.9ZM513.8 377.1L519.1 380.6A71.5 71.5 0 0 1 517.1 383.4L512 379.7A65.2 65.2 0 0 0 513.8 377.1ZM514.5 381.5L519.9 385.4A74.9 74.9 0 0 1 517.7 388.4L512.5 384.2A68.3 68.3 0 0 0 514.5 381.5ZM515 386.2L520.4 390.6A78.5 78.5 0 0 1 518 393.6L512.7 388.9A71.5 71.5 0 0 0 515 386.2ZM515.3 391.2L523.7 398.6A86.2 86.2 0 0 1 520.8 401.7L512.8 393.9A74.9 74.9 0 0 0 515.3 391.2ZM515.3 396.4L523.8 404.6A90.3 90.3 0 0 1 520.6 407.7L512.6 399.1A78.5 78.5 0 0 0 515.3 396.4ZM517.8 404.7L526.6 414.2A99.1 99.1 0 0 1 522.9 417.4L514.6 407.5A86.2 86.2 0 0 0 517.8 404.7ZM517.3 410.6L526 421A103.8 103.8 0 0 1 522 424.2L513.8 413.4A90.3 90.3 0 0 0 517.3 410.6ZM519.1 420.4L528.1 432.3A114 114 0 0 1 523.6 435.5L515.2 423.3A99.1 99.1 0 0 0 519.1 420.4ZM520.7 431.3L523.6 435.5A114 114 0 0 1 518.9 438.6L516.2 434.2A108.8 108.8 0 0 0 520.7 431.3ZM404.3 435.4L401.7 439.9A114 114 0 0 1 397 437L399.8 432.6A108.8 108.8 0 0 0 404.3 435.4ZM405.1 424.5L397 437A114 114 0 0 1 392.3 433.8L401.1 421.8A99.1 99.1 0 0 0 405.1 424.5ZM406.2 414.6L395.4 429.6A108.8 108.8 0 0 1 391.1 426.4L402.7 411.9A90.3 90.3 0 0 0 406.2 414.6ZM405.3 408.7L397.2 418.8A99.1 99.1 0 0 1 393.5 415.7L402.1 406A86.2 86.2 0 0 0 405.3 408.7ZM407.1 400.3L399.3 409.1A90.3 90.3 0 0 1 396.1 406.1L404.3 397.6A78.5 78.5 0 0 0 407.1 400.3ZM406.8 395.1L399 403.1A86.2 86.2 0 0 1 396 400.1L404.3 392.4A74.9 74.9 0 0 0 406.8 395.1ZM406.8 390.1L401.6 394.9A78.5 78.5 0 0 1 399.1 392L404.4 387.5A71.5 71.5 0 0 0 406.8 390.1ZM406.9 385.4L401.8 389.7A74.9 74.9 0 0 1 399.5 386.8L404.8 382.8A68.3 68.3 0 0 0 406.9 385.4ZM407.3 380.9L402.2 384.8A71.5 71.5 0 0 1 400.2 381.9L405.4 378.3A65.2 65.2 0 0 0 407.3 380.9ZM407.9 376.6L402.9 380.1A68.3 68.3 0 0 1 401.1 377.3L406.2 374.1A62.2 62.2 0 0 0 407.9 376.6ZM408.6 372.6L403.7 375.6A65.2 65.2 0 0 1 402.1 372.9L407.2 370.1A59.4 59.4 0 0 0 408.6 372.6ZM407.2 370.1L402.1 372.9A65.2 65.2 0 0 1 400.6 370L405.8 367.5A59.4 59.4 0 0 0 407.2 370.1Z"/>
<path fill="#b73557" stroke="#b73557" stroke-width="0.8" d="M532.5 428.8L536 432.9A119.4 119.4 0 0 1 531.4 436.6L528.1 432.3A114 114 0 0 0 532.5 428.8ZM528.1 432.3L538.5 445.9A131.1 131.1 0 0 1 533.3 449.7L523.6 435.5A114 114 0 0 0 528.1 432.3ZM523.6 435.5L540.5 460.2A143.9 143.9 0 0 1 534.6 464.1L518.9 438.6A114 114 0 0 0 523.6 435.5ZM527.9 453.2L545.9 482.5A165.5 165.5 0 0 1 538.9 486.5L522.3 456.4A131.1 131.1 0 0 0 527.9 453.2ZM528.5 467.6L538.9 486.5A165.5 165.5 0 0 1 531.6 490.3L522.2 470.9A143.9 143.9 0 0 0 528.5 467.6ZM396.3 478.5L390.1 491.9A165.5 165.5 0 0 1 382.9 488.3L389.6 475.3A150.8 150.8 0 0 0 396.3 478.5ZM398.7 457.8L382.9 488.3A165.5 165.5 0 0 1 375.7 484.4L393.1 454.7A131.1 131.1 0 0 0 398.7 457.8ZM401.7 439.9L383.2 471.7A150.8 150.8 0 0 1 376.9 467.8L397 437A114 114 0 0 0 401.7 439.9ZM397 437L387.6 451.3A131.1 131.1 0 0 1 382.3 447.7L392.3 433.8A114 114 0 0 0 397 437ZM392.3 433.8L389.2 438.2A119.4 119.4 0 0 1 384.5 434.7L387.9 430.4A114 114 0 0 0 392.3 433.8Z"/>
<path fill="#fbbe23" stroke="#fbbe23" stroke-width="0.8" d="M531.5 570.6L538.6 593A263.7 263.7 0 0 1 513.6 599.6L508.7 576.6A240.3 240.3 0 0 0 531.5 570.6ZM415 577.7L410.7 600.7A263.7 263.7 0 0 1 385.5 594.7L392.1 572.2A240.3 240.3 0 0 0 415 577.7Z"/>
</g></g>
<circle cx="459.2" cy="341.5" r="55.7" fill="none" stroke="#f0a030" stroke-width="1" stroke-opacity="0.35"/>
<circle cx="459.2" cy="341.5" r="54.1" fill="#fff" stroke="#f8ec8c" stroke-width="1.4"/>
<g clip-path="url(#ax)"><g clip-path="url(#dc)"><path d="M458.6 287.4L455.3 -0.3M459.9 287.4L463.7 -0.3M461.2 287.5L472.1 -0.1M462.6 287.5L480.5 0.4M463.9 287.6L488.8 1.0M465.2 287.8L497.2 1.8M466.5 287.9L505.5 2.9M467.8 288.1L513.8 4.1M469.1 288.4L522.1 5.5M470.4 288.6L530.3 7.2M471.7 288.9L538.5 9.0M473.0 289.2L546.6 11.1M474.3 289.6L554.7 13.3M475.6 290.0L562.7 15.8M476.8 290.4L570.7 18.4M478.1 290.8L578.6 21.2M479.3 291.3L586.4 24.3M480.5 291.8L594.2 27.5M481.8 292.4L601.8 30.9M483.0 292.9L609.4 34.5M484.1 293.5L616.9 38.3M485.3 294.2L624.3 42.2M486.5 294.8L631.6 46.4M487.6 295.5L638.8 50.7M488.7 296.2L645.9 55.2M489.8 296.9L652.8 59.8M490.9 297.7L659.7 64.7M492.0 298.5L666.4 69.7M493.0 299.3L673.0 74.8M494.0 300.2L679.5 80.2M495.1 301.0L685.9 85.7M496.0 301.9L692.1 91.3M497.0 302.8L698.1 97.1M497.9 303.8L704.1 103.0M498.8 304.7L709.8 109.1M499.7 305.7L715.5 115.3M500.6 306.7L720.9 121.7M501.4 307.8L726.3 128.2M502.3 308.8L731.4 134.8M503.0 309.9L736.4 141.5M503.8 311.0L741.2 148.4M504.5 312.1L745.9 155.4M505.3 313.2L750.4 162.5M505.9 314.3L754.7 169.7M506.6 315.5L758.8 177.0M507.2 316.6L762.7 184.4M507.8 317.8L766.5 191.9M508.4 319.0L770.1 199.5M508.9 320.2L773.5 207.1M509.4 321.5L776.7 214.9M509.9 322.7L779.7 222.7M510.3 324.0L782.5 230.6M510.8 325.2L785.1 238.6M511.1 326.5L787.6 246.6M511.5 327.8L789.8 254.7M511.8 329.1L791.8 262.8M512.1 330.4L793.7 271.0M512.4 331.7L795.3 279.2M512.6 333.0L796.7 287.5M512.8 334.3L797.9 295.8M512.9 335.6L799.0 304.1M513.1 336.9L799.8 312.5M513.2 338.2L800.4 320.9M513.2 339.6L800.8 329.2M513.3 340.9L801.0 337.6M513.3 342.2L801.0 346.0M513.2 343.5L800.8 354.4M513.2 344.9L800.3 362.8M513.1 346.2L799.7 371.1M512.9 347.5L798.9 379.5M512.8 348.8L797.8 387.8M512.6 350.1L796.6 396.1M512.3 351.4L795.2 404.4M512.1 352.7L793.5 412.6M511.8 354.0L791.7 420.8M511.5 355.3L789.6 428.9M511.1 356.6L787.4 437.0M510.7 357.9L784.9 445.0M510.3 359.1L782.3 453.0M509.9 360.4L779.5 460.9M509.4 361.6L776.4 468.7M508.9 362.8L773.2 476.5M508.3 364.1L769.8 484.1M507.8 365.3L766.2 491.7M507.2 366.4L762.4 499.2M506.5 367.6L758.5 506.6M505.9 368.8L754.3 513.9M505.2 369.9L750.0 521.1M504.5 371.0L745.5 528.2M503.8 372.1L740.9 535.1M503.0 373.2L736.0 542.0M502.2 374.3L731.0 548.7M501.4 375.3L725.9 555.3M500.5 376.3L720.5 561.8M499.7 377.4L715.0 568.2M498.8 378.3L709.4 574.4M497.9 379.3L703.6 580.4M496.9 380.2L697.7 586.4M496.0 381.1L691.6 592.1M495.0 382.0L685.4 597.8M494.0 382.9L679.0 603.2M492.9 383.7L672.5 608.6M491.9 384.6L665.9 613.7M490.8 385.3L659.2 618.7M489.7 386.1L652.3 623.5M488.6 386.8L645.3 628.2M487.5 387.6L638.2 632.7M486.4 388.2L631.0 637.0M485.2 388.9L623.7 641.1M484.1 389.5L616.3 645.0M482.9 390.1L608.8 648.8M481.7 390.7L601.2 652.4M480.5 391.2L593.6 655.8M479.2 391.7L585.8 659.0M478.0 392.2L578.0 662.0M476.7 392.6L570.1 664.8M475.5 393.1L562.1 667.4M474.2 393.4L554.1 669.9M472.9 393.8L546.0 672.1M471.6 394.1L537.9 674.1M470.3 394.4L529.7 676.0M469.0 394.7L521.5 677.6M467.7 394.9L513.2 679.0M466.4 395.1L504.9 680.2M465.1 395.2L496.6 681.3M463.8 395.4L488.2 682.1M462.5 395.5L479.8 682.7M461.1 395.5L471.5 683.1M459.8 395.6L463.1 683.3M458.5 395.6L454.7 683.3M457.2 395.5L446.3 683.1M455.8 395.5L437.9 682.6M454.5 395.4L429.6 682.0M453.2 395.2L421.2 681.2M451.9 395.1L412.9 680.1M450.6 394.9L404.6 678.9M449.3 394.6L396.3 677.5M448.0 394.4L388.1 675.8M446.7 394.1L379.9 674.0M445.4 393.8L371.8 671.9M444.1 393.4L363.7 669.7M442.8 393.0L355.7 667.2M441.6 392.6L347.7 664.6M440.3 392.2L339.8 661.8M439.1 391.7L332.0 658.7M437.9 391.2L324.2 655.5M436.6 390.6L316.6 652.1M435.4 390.1L309.0 648.5M434.3 389.5L301.5 644.7M433.1 388.8L294.1 640.8M431.9 388.2L286.8 636.6M430.8 387.5L279.6 632.3M429.7 386.8L272.5 627.8M428.6 386.1L265.6 623.2M427.5 385.3L258.7 618.3M426.4 384.5L252.0 613.3M425.4 383.7L245.4 608.2M424.4 382.8L238.9 602.8M423.3 382.0L232.5 597.3M422.4 381.1L226.3 591.7M421.4 380.2L220.3 585.9M420.5 379.2L214.3 580.0M419.6 378.3L208.6 573.9M418.7 377.3L202.9 567.7M417.8 376.3L197.5 561.3M417.0 375.2L192.1 554.8M416.1 374.2L187.0 548.2M415.4 373.1L182.0 541.5M414.6 372.0L177.2 534.6M413.9 370.9L172.5 527.6M413.1 369.8L168.0 520.5M412.5 368.7L163.7 513.3M411.8 367.5L159.6 506.0M411.2 366.4L155.7 498.6M410.6 365.2L151.9 491.1M410.0 364.0L148.3 483.5M409.5 362.8L144.9 475.9M409.0 361.5L141.7 468.1M408.5 360.3L138.7 460.3M408.1 359.0L135.9 452.4M407.6 357.8L133.3 444.4M407.3 356.5L130.8 436.4M406.9 355.2L128.6 428.3M406.6 353.9L126.6 420.2M406.3 352.6L124.7 412.0M406.0 351.3L123.1 403.8M405.8 350.0L121.7 395.5M405.6 348.7L120.5 387.2M405.5 347.4L119.4 378.9M405.3 346.1L118.6 370.5M405.2 344.8L118.0 362.1M405.2 343.4L117.6 353.8M405.1 342.1L117.4 345.4M405.1 340.8L117.4 337.0M405.2 339.5L117.6 328.6M405.2 338.1L118.1 320.2M405.3 336.8L118.7 311.9M405.5 335.5L119.5 303.5M405.6 334.2L120.6 295.2M405.8 332.9L121.8 286.9M406.1 331.6L123.2 278.6M406.3 330.3L124.9 270.4M406.6 329.0L126.7 262.2M406.9 327.7L128.8 254.1M407.3 326.4L131.0 246.0M407.7 325.1L133.5 238.0M408.1 323.9L136.1 230.0M408.5 322.6L138.9 222.1M409.0 321.4L142.0 214.3M409.5 320.2L145.2 206.5M410.1 318.9L148.6 198.9M410.6 317.7L152.2 191.3M411.2 316.6L156.0 183.8M411.9 315.4L159.9 176.4M412.5 314.2L164.1 169.1M413.2 313.1L168.4 161.9M413.9 312.0L172.9 154.8M414.6 310.9L177.5 147.9M415.4 309.8L182.4 141.0M416.2 308.7L187.4 134.3M417.0 307.7L192.5 127.7M417.9 306.7L197.9 121.2M418.7 305.6L203.4 114.8M419.6 304.7L209.0 108.6M420.5 303.7L214.8 102.6M421.5 302.8L220.7 96.6M422.4 301.9L226.8 90.9M423.4 301.0L233.0 85.2M424.4 300.1L239.4 79.8M425.5 299.3L245.9 74.4M426.5 298.4L252.5 69.3M427.6 297.7L259.2 64.3M428.7 296.9L266.1 59.5M429.8 296.2L273.1 54.8M430.9 295.4L280.2 50.3M432.0 294.8L287.4 46.0M433.2 294.1L294.7 41.9M434.3 293.5L302.1 38.0M435.5 292.9L309.6 34.2M436.7 292.3L317.2 30.6M437.9 291.8L324.8 27.2M439.2 291.3L332.6 24.0M440.4 290.8L340.4 21.0M441.7 290.4L348.3 18.2M442.9 289.9L356.3 15.6M444.2 289.6L364.3 13.1M445.5 289.2L372.4 10.9M446.8 288.9L380.5 8.9M448.1 288.6L388.7 7.0M449.4 288.3L396.9 5.4M450.7 288.1L405.2 4.0M452.0 287.9L413.5 2.8M453.3 287.8L421.8 1.7M454.6 287.6L430.2 0.9M455.9 287.5L438.6 0.3M457.3 287.5L446.9 -0.1" stroke="#fff" stroke-opacity="0.07" stroke-width="0.7" fill="none"/>
<g fill="none" stroke="#fff" stroke-opacity="0.07" stroke-width="0.7"><circle cx="459.2" cy="341.5" r="54.1"/><circle cx="459.2" cy="341.5" r="55.3"/><circle cx="459.2" cy="341.5" r="56.6"/><circle cx="459.2" cy="341.5" r="58.0"/><circle cx="459.2" cy="341.5" r="59.4"/><circle cx="459.2" cy="341.5" r="60.8"/><circle cx="459.2" cy="341.5" r="62.2"/><circle cx="459.2" cy="341.5" r="63.6"/><circle cx="459.2" cy="341.5" r="65.2"/><circle cx="459.2" cy="341.5" r="66.7"/><circle cx="459.2" cy="341.5" r="68.3"/><circle cx="459.2" cy="341.5" r="69.9"/><circle cx="459.2" cy="341.5" r="71.5"/><circle cx="459.2" cy="341.5" r="73.2"/><circle cx="459.2" cy="341.5" r="74.9"/><circle cx="459.2" cy="341.5" r="76.7"/><circle cx="459.2" cy="341.5" r="78.5"/><circle cx="459.2" cy="341.5" r="80.4"/><circle cx="459.2" cy="341.5" r="82.2"/><circle cx="459.2" cy="341.5" r="84.2"/><circle cx="459.2" cy="341.5" r="86.2"/><circle cx="459.2" cy="341.5" r="88.2"/><circle cx="459.2" cy="341.5" r="90.3"/><circle cx="459.2" cy="341.5" r="92.4"/><circle cx="459.2" cy="341.5" r="94.6"/><circle cx="459.2" cy="341.5" r="96.8"/><circle cx="459.2" cy="341.5" r="99.1"/><circle cx="459.2" cy="341.5" r="101.4"/><circle cx="459.2" cy="341.5" r="103.8"/><circle cx="459.2" cy="341.5" r="106.3"/><circle cx="459.2" cy="341.5" r="108.8"/><circle cx="459.2" cy="341.5" r="111.4"/><circle cx="459.2" cy="341.5" r="114.0"/><circle cx="459.2" cy="341.5" r="116.7"/><circle cx="459.2" cy="341.5" r="119.4"/><circle cx="459.2" cy="341.5" r="122.2"/><circle cx="459.2" cy="341.5" r="125.1"/><circle cx="459.2" cy="341.5" r="128.1"/><circle cx="459.2" cy="341.5" r="131.1"/><circle cx="459.2" cy="341.5" r="134.2"/><circle cx="459.2" cy="341.5" r="137.3"/><circle cx="459.2" cy="341.5" r="140.6"/><circle cx="459.2" cy="341.5" r="143.9"/><circle cx="459.2" cy="341.5" r="147.3"/><circle cx="459.2" cy="341.5" r="150.8"/><circle cx="459.2" cy="341.5" r="154.3"/><circle cx="459.2" cy="341.5" r="157.9"/><circle cx="459.2" cy="341.5" r="161.7"/><circle cx="459.2" cy="341.5" r="165.5"/><circle cx="459.2" cy="341.5" r="169.4"/><circle cx="459.2" cy="341.5" r="173.4"/><circle cx="459.2" cy="341.5" r="177.5"/><circle cx="459.2" cy="341.5" r="181.7"/><circle cx="459.2" cy="341.5" r="185.9"/><circle cx="459.2" cy="341.5" r="190.3"/><circle cx="459.2" cy="341.5" r="194.8"/><circle cx="459.2" cy="341.5" r="199.4"/><circle cx="459.2" cy="341.5" r="204.1"/><circle cx="459.2" cy="341.5" r="208.9"/><circle cx="459.2" cy="341.5" r="213.8"/><circle cx="459.2" cy="341.5" r="218.9"/><circle cx="459.2" cy="341.5" r="224.0"/><circle cx="459.2" cy="341.5" r="229.3"/><circle cx="459.2" cy="341.5" r="234.7"/><circle cx="459.2" cy="341.5" r="240.3"/><circle cx="459.2" cy="341.5" r="245.9"/><circle cx="459.2" cy="341.5" r="251.7"/><circle cx="459.2" cy="341.5" r="257.7"/><circle cx="459.2" cy="341.5" r="263.7"/><circle cx="459.2" cy="341.5" r="270.0"/><circle cx="459.2" cy="341.5" r="276.3"/><circle cx="459.2" cy="341.5" r="282.8"/><circle cx="459.2" cy="341.5" r="289.5"/><circle cx="459.2" cy="341.5" r="296.3"/><circle cx="459.2" cy="341.5" r="303.3"/><circle cx="459.2" cy="341.5" r="310.5"/><circle cx="459.2" cy="341.5" r="317.8"/><circle cx="459.2" cy="341.5" r="325.3"/><circle cx="459.2" cy="341.5" r="333.0"/><circle cx="459.2" cy="341.5" r="340.8"/></g></g></g>
<path d="M162.4 178.4L172.0 172.3L185.8 155.8L201.0 137.9L210.6 135.2L221.6 137.9L232.6 142.0L246.4 148.9L253.3 154.4L256.1 158.6L265.7 164.1L276.7 171.0L287.7 179.2L296.0 187.5L301.5 190.2L302.9 186.1L305.6 186.1L307.0 191.6L304.3 199.9L309.8 205.4L312.5 199.9L315.0 203.0L318.0 210.9L322.2 216.4L331.8 221.9L326.3 226.1L326.3 235.7L331.8 246.7L340.1 255.0L348.3 263.3L356.6 274.3L362.1 279.8L370.4 282.5L378.7 288.0L384.2 290.8L386.9 296.3L392.4 301.8L395.2 307.3L400.7 312.8L406.2 318.3" fill="none" stroke="#fff" stroke-width="3" stroke-linejoin="round" stroke-linecap="round"/>
<path d="M509.6 318.3L516.5 310.1L524.8 303.2L530.3 297.7L535.8 293.6L541.3 288.0L548.2 286.7L555.1 279.8L559.2 274.3L566.1 266.0L571.6 259.1L579.9 252.2L584.0 245.3L588.2 235.7L588.2 228.8L582.6 223.3L582.6 219.2L590.9 215.0L595.0 205.4L595.0 199.9L600.6 197.1L606.0 199.9L607.4 191.6L604.7 186.1L613.0 184.7L621.2 179.2L629.5 173.7L643.3 161.3L654.3 154.4L661.2 150.3L662.5 146.2L670.8 142.0L681.8 137.9L692.8 132.4L702.5 129.6L712.1 132.4L725.9 147.5L739.7 164.1L750.7 171.0" fill="none" stroke="#fff" stroke-width="3" stroke-linejoin="round" stroke-linecap="round"/>
<path d="M410.1 371.2L405.8 378.3L400.2 383.9L394.5 389.6L388.9 395.2L383.2 400.9L377.6 406.6L371.9 410.8L366.2 416.5L360.6 423.5L354.9 432.0L349.3 440.5L340.8 449.0L332.3 456.0L323.8 463.1L318.2 461.7L312.5 466.0L304.0 468.2L292.7 471.6L281.4 477.3L272.9 485.7L264.4 494.2L253.1 502.7L241.8 509.8L224.8 518.3L207.9 526.8L196.6 527.6L185.2 525.9L176.8 519.7L168.3 508.4L161.2 495.6L155.6 490.0" fill="none" stroke="#fff" stroke-width="3" stroke-linejoin="round" stroke-linecap="round"/>
<path d="M507.1 367.0L511.3 374.0L517.0 378.3L522.6 383.9L528.3 389.6L533.9 395.2L539.6 400.9L545.2 406.6L550.9 410.8L556.6 417.9L562.2 423.5L566.5 432.0L570.7 437.7L577.8 446.2L584.8 453.2L593.3 457.5L599.0 461.7L604.6 458.9L610.3 463.1L618.8 464.5L630.1 468.8L638.6 474.4L647.1 482.9L654.1 490.0L664.0 497.1L675.3 505.5L689.5 514.0L700.8 519.7L714.9 521.9L726.2 521.1L737.6 519.1L746.0 508.4L754.5 497.1L765.8 484.3" fill="none" stroke="#fff" stroke-width="3" stroke-linejoin="round" stroke-linecap="round"/>
<circle cx="312.5" cy="187.5" r="1.6" fill="#fff"/><circle cx="315.5" cy="213.5" r="1.6" fill="#fff"/><circle cx="602" cy="185" r="1.6" fill="#fff"/><circle cx="598" cy="210" r="1.6" fill="#fff"/>
<rect x="121.2" y="3.5" width="675.9" height="676.1" fill="none" stroke="#000" stroke-width="1.4"/>
<path d="M190.2 679.6V685.1M121.2 610.5H115.7M324.7 679.6V685.1M121.2 476.0H115.7M459.2 679.6V685.1M121.2 341.5H115.7M593.7 679.6V685.1M121.2 207.0H115.7M728.2 679.6V685.1M121.2 72.5H115.7" stroke="#000" stroke-width="1.4" fill="none"/>
<text x="190.2" y="715" font-size="32" text-anchor="middle">−20</text>
<text x="111" y="622.5" font-size="32" text-anchor="end">−20</text>
<text x="324.7" y="715" font-size="32" text-anchor="middle">−10</text>
<text x="111" y="488.0" font-size="32" text-anchor="end">−10</text>
<text x="459.2" y="715" font-size="32" text-anchor="middle">0</text>
<text x="111" y="353.5" font-size="32" text-anchor="end">0</text>
<text x="593.7" y="715" font-size="32" text-anchor="middle">10</text>
<text x="111" y="219.0" font-size="32" text-anchor="end">10</text>
<text x="728.2" y="715" font-size="32" text-anchor="middle">20</text>
<text x="111" y="84.5" font-size="32" text-anchor="end">20</text>
<text x="459" y="752" font-size="32" text-anchor="middle"><tspan font-style="italic">r</tspan><tspan dx="9">sin</tspan><tspan font-style="italic" dx="4">θ</tspan><tspan dx="10">(</tspan><tspan font-style="italic">r</tspan><tspan font-style="italic" font-size="22" dy="7">g</tspan><tspan dy="-7">)</tspan></text>
<text transform="translate(25 341.5) rotate(-90)" font-size="32" text-anchor="middle"><tspan font-style="italic">r</tspan><tspan dx="11">cos</tspan><tspan font-style="italic" dx="6">θ</tspan><tspan dx="10">(</tspan><tspan font-style="italic">r</tspan><tspan font-style="italic" font-size="22" dy="7">g</tspan><tspan dy="-7">)</tspan></text>
<rect x="812.1" y="0.7" width="33.7" height="680.8" fill="url(#cb)" stroke="#000" stroke-width="1.4"/>
<path d="M845.8 565.8H860.8M845.8 183.3H860.8M845.8 680.9H855.3M845.8 650.7H855.3M845.8 625.0H855.3M845.8 602.9H855.3M845.8 583.3H855.3M845.8 450.7H855.3M845.8 383.3H855.3M845.8 335.5H855.3M845.8 298.4H855.3M845.8 268.2H855.3M845.8 242.5H855.3M845.8 220.4H855.3M845.8 200.8H855.3M845.8 68.2H855.3M845.8 0.8H855.3" stroke="#000" stroke-width="1.4" fill="none"/>
<text x="868" y="578.1" font-size="32">10<tspan font-size="22" dy="-13">7</tspan></text>
<text x="868" y="195.6" font-size="32">10<tspan font-size="22" dy="-13">8</tspan></text>
<text transform="translate(977.5 341.5) rotate(-90)" font-size="39" text-anchor="middle"><tspan font-style="italic">T</tspan><tspan font-size="27" dy="8">g</tspan><tspan dy="-8"> (K)</tspan></text>
</svg></body></html>
